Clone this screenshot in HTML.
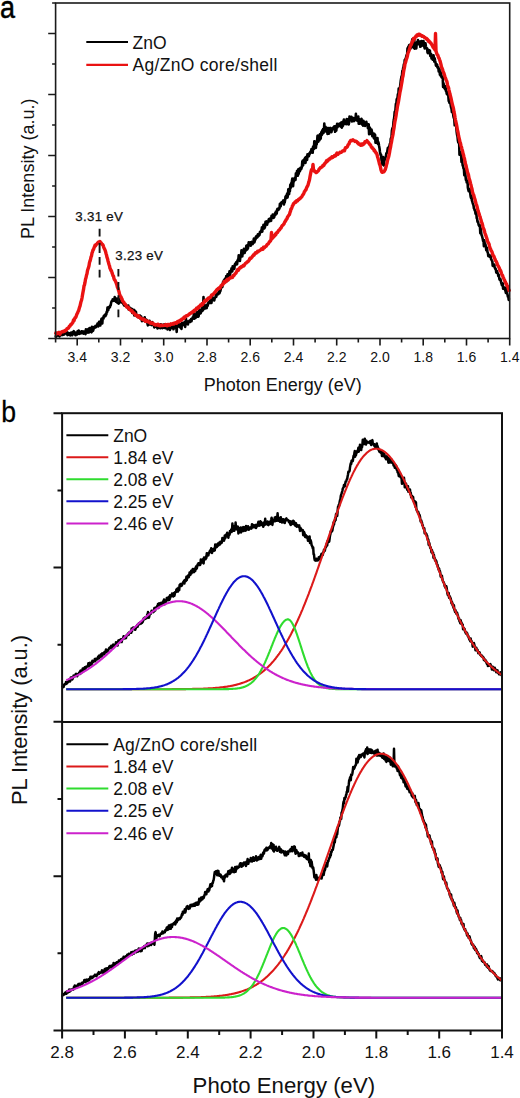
<!DOCTYPE html>
<html><head><meta charset="utf-8"><title>PL spectra</title>
<style>html,body{margin:0;padding:0;background:#fff}body{width:520px;height:1098px;overflow:hidden}svg{display:block}text{font-family:"Liberation Sans",sans-serif}</style>
</head><body>
<svg width="520" height="1098" viewBox="0 0 520 1098">
<rect width="520" height="1098" fill="#fff"/>
<path d="M55.5 335.2L55.9 336.9L56.3 336.7L56.7 334.3L57.1 334.5L57.5 334.1L57.9 335.5L58.3 334.5L58.7 335.6L59.1 332L59.5 336.5L59.9 334.2L60.3 335.2L60.7 334L61.1 333.7L61.5 334.8L61.9 335.2L62.3 333.8L62.7 333.8L63.1 334.9L63.5 332.8L63.9 331.9L64.3 334.5L64.7 333L65.1 331.3L65.5 332.8L65.9 333.3L66.3 332.3L66.7 331.9L67.1 334L67.5 335.1L67.9 333.6L68.3 332.9L68.7 334.4L69.1 334.8L69.5 333.4L69.9 334.6L70.3 335.3L70.7 333.5L71.1 332.7L71.5 334.3L71.9 334.1L72.3 335.2L72.7 332L73.1 332.8L73.5 332.5L73.9 331.2L74.3 333.7L74.7 334.2L75.1 332.4L75.5 335.3L75.9 334.5L76.3 334.2L76.7 333.8L77.1 334.5L77.5 331.3L77.9 333.9L78.3 333.8L78.7 330.5L79.1 333.3L79.5 332.5L79.9 333.8L80.3 332.1L80.7 332.6L81.1 333L81.5 331.3L81.9 333.2L82.3 332.2L82.7 332.9L83.1 331.4L83.5 333.6L83.9 332.8L84.3 331.7L84.7 332.7L85.1 333.5L85.5 334.1L85.9 329.3L86.3 332.6L86.7 331.9L87.1 331L87.5 329.7L87.9 332.7L88.3 329L88.7 331.5L89.1 332.3L89.5 328.1L89.9 329.8L90.3 328.2L90.7 330.2L91.1 331.8L91.5 332.3L91.9 326.7L92.3 328.2L92.7 329.8L93.1 330.8L93.5 328.9L93.9 327L94.3 328.2L94.7 327.5L95.1 327L95.5 325.9L95.9 327.3L96.3 326.8L96.7 326L97.1 325.4L97.5 323.5L97.9 324.3L98.3 326.4L98.7 323.9L99.1 321.7L99.5 325.3L99.9 323.7L100.3 325.5L100.7 322L101.1 320.7L101.5 318.7L101.9 322.2L102.3 323.5L102.7 317.8L103.1 317.4L103.5 318.6L103.9 315.8L104.3 316L104.7 315.2L105.1 315.4L105.5 316.1L105.9 313.8L106.3 314.5L106.7 311.7L107.1 312.1L107.5 307.5L107.9 307.7L108.3 310.2L108.7 307L109.1 307.8L109.5 306.8L109.9 307.1L110.3 305.5L110.7 305.3L111.1 302.9L111.5 301.5L111.9 300.9L112.3 300.9L112.7 299.4L113.1 300L113.5 300.5L113.9 300.9L114.3 299.8L114.7 297.1L115.1 299.9L115.5 300.3L115.9 301.6L116.3 300.7L116.7 298.7L117.1 298.5L117.5 302.9L117.9 301.1L118.3 302.9L118.7 303.6L119.1 299.2L119.5 301.3L119.9 301.7L120.3 302.1L120.7 302.3L121.1 302.1L121.5 302.3L121.9 300L122.3 302.5L122.7 301.9L123.1 303.6L123.5 303L123.9 305L124.3 305.6L124.7 305.2L125.1 305.5L125.5 305.5L125.9 305L126.3 305.7L126.7 305.6L127.1 307.3L127.5 307L127.9 308.2L128.3 305.6L128.7 309.4L129.1 307.1L129.5 307.5L129.9 308.7L130.3 308.4L130.7 310.1L131.1 309.1L131.5 308.7L131.9 309.4L132.3 313L132.7 311.4L133.1 309.9L133.5 312L133.9 309.9L134.3 315.4L134.7 310.6L135.1 314L135.5 314.4L135.9 311.7L136.3 314.7L136.7 316.1L137.1 315.6L137.5 315.6L137.9 316.9L138.3 316.1L138.7 316.6L139.1 316.3L139.5 317.7L139.9 315.6L140.3 318.5L140.7 316.9L141.1 316.3L141.5 318.8L141.9 321.1L142.3 320.3L142.7 318.4L143.1 320.5L143.5 319.1L143.9 319.9L144.3 320.5L144.7 317.3L145.1 321.3L145.5 319.8L145.9 320.6L146.3 319.7L146.7 319.9L147.1 321L147.5 323.8L147.9 325.3L148.3 323L148.7 324.8L149.1 323L149.5 320.7L149.9 323.9L150.3 324.4L150.7 323.3L151.1 324.5L151.5 325L151.9 323L152.3 322.2L152.7 324.2L153.1 324.3L153.5 324.2L153.9 326.2L154.3 327.4L154.7 324.4L155.1 326.1L155.5 326.5L155.9 326.3L156.3 326.9L156.7 324.9L157.1 326.6L157.5 328.5L157.9 326.8L158.3 324.8L158.7 326.7L159.1 327.7L159.5 326.5L159.9 325.2L160.3 328.3L160.7 324.4L161.1 327L161.5 326.3L161.9 324.7L162.3 328.2L162.7 327.1L163.1 325L163.5 327.7L163.9 326.3L164.3 324.3L164.7 326.1L165.1 327.6L165.5 328.2L165.9 327.7L166.3 327.6L166.7 328.3L167.1 327.4L167.5 329.4L167.9 328L168.3 328.2L168.7 328.6L169.1 326.3L169.5 326.8L169.9 330L170.3 328.2L170.7 327.3L171.1 328.2L171.5 327L171.9 328L172.3 326.6L172.7 327.9L173.1 325.2L173.5 329.3L173.9 326.6L174.3 325L174.7 326.9L175.1 326.6L175.5 327.3L175.9 325.4L176.3 327.5L176.7 332L177.1 324.8L177.5 327L177.9 325.9L178.3 326.5L178.7 323.4L179.1 324.2L179.5 326.3L179.9 325.4L180.3 327.6L180.7 324L181.1 325.1L181.5 328.9L181.9 323.4L182.3 323L182.7 324.1L183.1 323.9L183.5 325L183.9 323.8L184.3 322.3L184.7 323.5L185.1 326.9L185.5 324.7L185.9 318.5L186.3 322.2L186.7 320.9L187.1 322.9L187.5 321.5L187.9 324.4L188.3 322.7L188.7 322.4L189.1 321.1L189.5 320.5L189.9 320.8L190.3 322L190.7 320.6L191.1 319L191.5 321.2L191.9 319.3L192.3 318.6L192.7 317.3L193.1 317.3L193.5 316.9L193.9 313.4L194.3 318.8L194.7 317.8L195.1 316.4L195.5 318L195.9 316.7L196.3 316.3L196.7 311.7L197.1 314.7L197.5 315.6L197.9 316.8L198.3 316.8L198.7 315.9L199.1 311.6L199.5 309.6L199.9 313.5L200.3 312.3L200.7 313.3L201.1 311.3L201.5 311.4L201.9 308.4L202.3 311L202.7 309.2L203.1 310L203.5 297L203.9 308.5L204.3 308.7L204.7 307.7L205.1 308.5L205.5 307.6L205.9 305.5L206.3 305L206.7 308.2L207.1 304.9L207.5 306.1L207.9 304.7L208.3 302.8L208.7 302.1L209.1 303L209.5 302.8L209.9 303L210.3 299.6L210.7 300.3L211.1 300.7L211.5 303L211.9 296.4L212.3 300.5L212.7 298.5L213.1 299.7L213.5 297.9L213.9 298.9L214.3 300.4L214.7 298.1L215.1 297.8L215.5 297.3L215.9 295.1L216.3 296.7L216.7 295L217.1 293.5L217.5 294.2L217.9 293.3L218.3 294.2L218.7 292.2L219.1 290.7L219.5 293.1L219.9 291.6L220.3 291.3L220.7 289.4L221.1 287.5L221.5 286.2L221.9 285.7L222.3 287.1L222.7 285L223.1 281.7L223.5 283.4L223.9 280.4L224.3 282.4L224.7 279.4L225.1 278.6L225.5 280.3L225.9 279.3L226.3 276L226.7 279.3L227.1 281.1L227.5 274.3L227.9 279.2L228.3 274.4L228.7 274.1L229.1 274.1L229.5 271.4L229.9 275.4L230.3 273.5L230.7 270.8L231.1 271.1L231.5 268.4L231.9 269.8L232.3 271.4L232.7 266.2L233.1 267.8L233.5 268.2L233.9 269L234.3 268.8L234.7 265L235.1 263.8L235.5 265.1L235.9 262.9L236.3 262.2L236.7 263.9L237.1 264.2L237.5 261L237.9 259.5L238.3 260.2L238.7 255.3L239.1 257.9L239.5 255.5L239.9 261L240.3 257.5L240.7 255.9L241.1 254.8L241.5 250.2L241.9 255.3L242.3 256.4L242.7 251.7L243.1 253.7L243.5 253.3L243.9 248.8L244.3 252.7L244.7 252.9L245.1 250.4L245.5 249.5L245.9 250.5L246.3 245.9L246.7 248.4L247.1 249.6L247.5 245.1L247.9 248.6L248.3 245.7L248.7 242.3L249.1 245.3L249.5 243.4L249.9 245.3L250.3 242.2L250.7 245.8L251.1 242.2L251.5 243.8L251.9 241.7L252.3 241.8L252.7 244.1L253.1 242L253.5 240.5L253.9 238.6L254.3 242.5L254.7 241.3L255.1 239L255.5 239.5L255.9 236.7L256.3 236.2L256.7 236L257.1 237.5L257.5 236.8L257.9 234.3L258.3 236.4L258.7 235.8L259.1 234.1L259.5 235L259.9 232L260.3 231.7L260.7 232.2L261.1 230.7L261.5 231.6L261.9 227.3L262.3 231.6L262.7 227L263.1 227.6L263.5 224.8L263.9 227.9L264.3 228.5L264.7 227.6L265.1 226.7L265.5 221.8L265.9 222.7L266.3 222.8L266.7 221.4L267.1 224.7L267.5 222.6L267.9 221.8L268.3 222.3L268.7 219.3L269.1 219L269.5 218.7L269.9 220.9L270.3 220.2L270.7 220.3L271.1 220.8L271.5 215.9L271.9 217L272.3 217.8L272.7 214.6L273.1 215.6L273.5 217.9L273.9 217.5L274.3 216.8L274.7 214.2L275.1 213.1L275.5 214.8L275.9 211.5L276.3 212.2L276.7 213.5L277.1 209.8L277.5 208.8L277.9 209.4L278.3 210L278.7 209.3L279.1 208.2L279.5 208.5L279.9 203.9L280.3 204.8L280.7 206.2L281.1 203.6L281.5 202.3L281.9 202L282.3 202L282.7 202.8L283.1 200.6L283.5 202.4L283.9 204.5L284.3 200.4L284.7 202.5L285.1 199.9L285.5 196.6L285.9 197.6L286.3 195.5L286.7 198L287.1 193.6L287.5 197.5L287.9 195.2L288.3 189.3L288.7 193.6L289.1 194.1L289.5 188.7L289.9 191.2L290.3 184.9L290.7 187.9L291.1 183.3L291.5 186.4L291.9 181.1L292.3 178.6L292.7 183.5L293.1 186.2L293.5 179.7L293.9 181.6L294.3 179.4L294.7 177.7L295.1 178.7L295.5 179.8L295.9 173.4L296.3 176.1L296.7 174.9L297.1 170.7L297.5 175.8L297.9 175.7L298.3 169.3L298.7 173.9L299.1 169.8L299.5 168.7L299.9 171.3L300.3 168.1L300.7 167.6L301.1 169.3L301.5 168.2L301.9 166.8L302.3 161.6L302.7 160.7L303.1 165.4L303.5 160.7L303.9 162.2L304.3 159.2L304.7 160.4L305.1 157.7L305.5 162.9L305.9 157.1L306.3 158.3L306.7 157.7L307.1 159.9L307.5 154.2L307.9 156.4L308.3 155.4L308.7 156.3L309.1 155.6L309.5 153.1L309.9 153.8L310.3 151.9L310.7 152.8L311.1 151L311.5 149.1L311.9 149.6L312.3 149.7L312.7 152.8L313.1 146.5L313.5 147.4L313.9 149L314.3 141.2L314.7 141.3L315.1 141.8L315.5 143.3L315.9 147.9L316.3 143.2L316.7 144.3L317.1 140.9L317.5 135.9L317.9 135.6L318.3 141.8L318.7 139.6L319.1 136L319.5 140.3L319.9 134.3L320.3 138.9L320.7 138.7L321.1 133.4L321.5 131.8L321.9 135L322.3 130.3L322.7 133.7L323.1 129L323.5 132.8L323.9 131.3L324.3 123.5L324.7 129.1L325.1 131.3L325.5 126.9L325.9 130.1L326.3 129.9L326.7 132L327.1 128L327.5 134L327.9 129.8L328.3 128.1L328.7 133.1L329.1 133.6L329.5 129.7L329.9 128.1L330.3 129.8L330.7 128.1L331.1 128.6L331.5 132.1L331.9 129.5L332.3 128.7L332.7 128.8L333.1 127.7L333.5 129.3L333.9 129.1L334.3 126.4L334.7 127.2L335.1 131.8L335.5 127.5L335.9 126.1L336.3 130.6L336.7 126.3L337.1 123.9L337.5 127.3L337.9 124L338.3 124.6L338.7 126.1L339.1 125L339.5 123.5L339.9 123.7L340.3 123.3L340.7 126.7L341.1 122.6L341.5 122.6L341.9 127.7L342.3 122.1L342.7 126.1L343.1 125.5L343.5 122.3L343.9 119.5L344.3 123.1L344.7 123.4L345.1 123.8L345.5 121.8L345.9 124L346.3 124.2L346.7 119L347.1 124L347.5 121.3L347.9 119.6L348.3 120L348.7 124.4L349.1 122.5L349.5 116.6L349.9 120.4L350.3 119.8L350.7 119.6L351.1 118.8L351.5 116.8L351.9 121.5L352.3 117.7L352.7 118.9L353.1 118.4L353.5 118.1L353.9 121.1L354.3 120.4L354.7 118.3L355.1 117.8L355.5 118.8L355.9 113.8L356.3 120.2L356.7 120.5L357.1 119.4L357.5 119.7L357.9 120.7L358.3 116.6L358.7 123.8L359.1 119L359.5 119.6L359.9 123.7L360.3 121.6L360.7 121.5L361.1 120.4L361.5 118.7L361.9 122.5L362.3 124.8L362.7 120.8L363.1 125.7L363.5 120.9L363.9 122L364.3 124.9L364.7 124.2L365.1 125.9L365.5 123.3L365.9 123.1L366.3 121.8L366.7 123.5L367.1 124.2L367.5 124L367.9 128L368.3 126.6L368.7 124.4L369.1 134.1L369.5 127.9L369.9 127.7L370.3 133.3L370.7 133.8L371.1 129.7L371.5 129.6L371.9 131.2L372.3 136.1L372.7 133.7L373.1 133.3L373.5 135.4L373.9 138.4L374.3 133.7L374.7 136.3L375.1 134.8L375.5 142.6L375.9 142.6L376.3 141.5L376.7 140.1L377.1 142.6L377.5 138L377.9 144L378.3 142L378.7 143.4L379.1 146L379.5 148.2L379.9 151.5L380.3 153.7L380.7 155L381.1 154.9L381.5 160.4L381.9 160.7L382.3 164.5L382.7 160.9L383.1 157.1L383.5 161.1L383.9 165.5L384.3 161.1L384.7 158.7L385.1 159.6L385.5 157.6L385.9 156.3L386.3 153.3L386.7 153.4L387.1 152.6L387.5 149.9L387.9 147.8L388.3 149.1L388.7 149.5L389.1 147.4L389.5 145.6L389.9 143.9L390.3 146L390.7 139L391.1 138L391.5 137.3L391.9 130.8L392.3 128.7L392.7 128L393.1 127L393.5 121.8L393.9 119.6L394.3 116.8L394.7 111.8L395.1 114.3L395.5 109.2L395.9 103.9L396.3 104.9L396.7 99.3L397.1 98.5L397.5 98.4L397.9 94.2L398.3 96.1L398.7 88.6L399.1 90L399.5 88.5L399.9 88.2L400.3 84.9L400.7 81.3L401.1 78.8L401.5 76.4L401.9 77L402.3 71.1L402.7 71.6L403.1 68.3L403.5 67.2L403.9 64.3L404.3 67.7L404.7 60L405.1 60.3L405.5 58.8L405.9 58L406.3 56.2L406.7 54.8L407.1 54.9L407.5 48.3L407.9 50.5L408.3 46.8L408.7 49L409.1 45.1L409.5 44.9L409.9 46.3L410.3 48.9L410.7 46.6L411.1 45.5L411.5 47.5L411.9 42.1L412.3 39.3L412.7 42.7L413.1 42.9L413.5 46.1L413.9 48L414.3 40.4L414.7 48.6L415.1 46.6L415.5 44.9L415.9 43.9L416.3 48.4L416.7 43.2L417.1 42L417.5 43.4L417.9 40.1L418.3 44.2L418.7 43.1L419.1 44.2L419.5 44.4L419.9 41.5L420.3 46.8L420.7 42L421.1 46.3L421.5 41.1L421.9 45.7L422.3 43.3L422.7 45.4L423.1 44.2L423.5 41.1L423.9 43.8L424.3 46.7L424.7 48.4L425.1 44.2L425.5 43.3L425.9 46.5L426.3 48.5L426.7 48.1L427.1 48.2L427.5 52.4L427.9 53.2L428.3 53.2L428.7 50.1L429.1 52.8L429.5 52.7L429.9 50.5L430.3 55.9L430.7 54.7L431.1 53.9L431.5 58.5L431.9 57.6L432.3 58.3L432.7 59.6L433.1 59.1L433.5 55.3L433.9 57.8L434.3 61.5L434.7 58.4L435.1 60.8L435.5 62.3L435.9 65.4L436.3 65.9L436.7 65.8L437.1 64.4L437.5 67.6L437.9 67.7L438.3 67.2L438.7 71.4L439.1 70.7L439.5 69.1L439.9 74.7L440.3 72.7L440.7 75.8L441.1 72.6L441.5 77.2L441.9 76.5L442.3 77.8L442.7 77L443.1 86.9L443.5 83.2L443.9 85.2L444.3 88.2L444.7 86.7L445.1 89.2L445.5 86.3L445.9 90.8L446.3 90.6L446.7 93.7L447.1 94.3L447.5 92.3L447.9 92.6L448.3 95.7L448.7 100.8L449.1 101.6L449.5 103L449.9 99.5L450.3 99.6L450.7 105.5L451.1 107.6L451.5 108.5L451.9 112L452.3 112.4L452.7 111.6L453.1 113.6L453.5 116.9L453.9 118.1L454.3 119.1L454.7 125.3L455.1 121.7L455.5 124.2L455.9 124L456.3 127.7L456.7 132.1L457.1 135L457.5 136.4L457.9 140.5L458.3 142.6L458.7 141.5L459.1 141.2L459.5 154.6L459.9 153.7L460.3 153.8L460.7 152.3L461.1 154.9L461.5 161.8L461.9 155.3L462.3 161.8L462.7 165.7L463.1 165.8L463.5 168.6L463.9 168.5L464.3 175.1L464.7 170.1L465.1 171.1L465.5 175.9L465.9 179.8L466.3 178.6L466.7 182.3L467.1 180.9L467.5 181.2L467.9 187.8L468.3 189.7L468.7 191.2L469.1 188.9L469.5 189.1L469.9 190.5L470.3 193.8L470.7 196.8L471.1 198.1L471.5 195.9L471.9 200.4L472.3 201.5L472.7 203.1L473.1 204.3L473.5 205.4L473.9 208.3L474.3 208.9L474.7 210.5L475.1 210.2L475.5 213.7L475.9 214.2L476.3 212L476.7 218.2L477.1 218.3L477.5 221.9L477.9 221.4L478.3 222.9L478.7 224.9L479.1 225.8L479.5 226.4L479.9 225.2L480.3 233.2L480.7 228.2L481.1 231.8L481.5 234.8L481.9 235.6L482.3 237.2L482.7 238.8L483.1 240.9L483.5 240.3L483.9 246.2L484.3 240.4L484.7 243.7L485.1 243.8L485.5 244.6L485.9 247.2L486.3 250.3L486.7 247.5L487.1 248.6L487.5 252.1L487.9 252.8L488.3 256.2L488.7 255.5L489.1 255.1L489.5 255L489.9 256.9L490.3 257.1L490.7 256L491.1 259.3L491.5 259.8L491.9 260.6L492.3 261.2L492.7 265.7L493.1 264.9L493.5 266.2L493.9 264.4L494.3 264.6L494.7 266.8L495.1 268.6L495.5 268.5L495.9 269.7L496.3 272.6L496.7 272.4L497.1 271.2L497.5 273.1L497.9 273.6L498.3 276L498.7 274.7L499.1 277.3L499.5 279.6L499.9 279.4L500.3 278.8L500.7 280.2L501.1 282.3L501.5 283.7L501.9 285.2L502.3 284.4L502.7 283.3L503.1 288.6L503.5 287.5L503.9 288.4L504.3 289L504.7 287.5L505.1 289.4L505.5 291.1L505.9 293L506.3 292.1L506.7 287.7L507.1 293L507.5 294.6L507.9 296.7L508.3 296.4L508.7 299.9L509.1 298.8L509.5 299.2" fill="none" stroke="#000" stroke-width="2.6" stroke-linejoin="round"/>
<path d="M55.5 334.6L56 332.8L56.5 333.9L57 333.5L57.5 333.4L58 333.4L58.5 332.6L59 333.1L59.5 332.7L60 334.2L60.5 332.8L61 332.4L61.5 332.2L62 331.8L62.5 331.5L63 331.5L63.5 331.7L64 331.1L64.5 331.3L65 330.5L65.5 330.2L66 330.4L66.5 329.6L67 328.7L67.5 328.4L68 328.2L68.5 328.2L69 326.8L69.5 326.2L70 326.1L70.5 324.8L71 324.4L71.5 324.3L72 323.5L72.5 322.7L73 322.2L73.5 320L74 320.7L74.5 319L75 317.8L75.5 317.6L76 316.8L76.5 315.3L77 313.9L77.5 313.1L78 311.7L78.5 310.9L79 309.2L79.5 307.4L80 306.1L80.5 303.8L81 301.7L81.5 300.3L82 298L82.5 295L83 292.1L83.5 289.7L84 286L84.5 284.8L85 282.4L85.5 279.3L86 277.8L86.5 275.2L87 273.8L87.5 270.6L88 269L88.5 267.6L89 265.8L89.5 262.5L90 261.2L90.5 259.5L91 257L91.5 256L92 253L92.5 251.9L93 249.8L93.5 249.6L94 247.9L94.5 246.8L95 245.3L95.5 245.9L96 244.8L96.5 244.3L97 244L97.5 243.3L98 242.5L98.5 242.1L99 241.9L99.5 242.7L100 241.6L100.5 242.2L101 242.7L101.5 243.5L102 244.3L102.5 244.4L103 245L103.5 246.6L104 248L104.5 248.9L105 250L105.5 251.4L106 253.4L106.5 255L107 257.4L107.5 258.7L108 260.9L108.5 262.6L109 264.5L109.5 265.9L110 268.3L110.5 269.3L111 270.8L111.5 270.8L112 272.8L112.5 274.1L113 275.9L113.5 276.1L114 278.7L114.5 279.9L115 280.1L115.5 281.4L116 282.5L116.5 284L117 285.5L117.5 287.5L118 288.2L118.5 290.3L119 291.8L119.5 294.2L120 295.3L120.5 296.8L121 296.9L121.5 298.3L122 299L122.5 300.9L123 301.4L123.5 301.9L124 302.6L124.5 303.7L125 303.9L125.5 304.5L126 305.7L126.5 307L127 306.5L127.5 306.9L128 307.2L128.5 307.6L129 308.8L129.5 309.4L130 309.5L130.5 310.1L131 310.5L131.5 311L132 310.8L132.5 311.7L133 312.5L133.5 312.6L134 313.2L134.5 313.6L135 314.2L135.5 315L136 314.9L136.5 315.3L137 316L137.5 316.3L138 317L138.5 315.8L139 317.3L139.5 317L140 317.5L140.5 318.1L141 318.5L141.5 318.7L142 318.6L142.5 319.5L143 319L143.5 319.3L144 319.9L144.5 319.6L145 321L145.5 320.7L146 321.4L146.5 320.8L147 320.9L147.5 321.3L148 321.8L148.5 321.5L149 322.1L149.5 322.1L150 323L150.5 322.3L151 323.3L151.5 322.8L152 322.9L152.5 323.2L153 323.2L153.5 323.9L154 324.5L154.5 324.3L155 324.6L155.5 325.1L156 324.7L156.5 324.8L157 324.7L157.5 324.3L158 325.3L158.5 324.4L159 325.5L159.5 325.3L160 325.8L160.5 325.4L161 325.1L161.5 325.6L162 325.3L162.5 325.4L163 325.5L163.5 325.4L164 325.4L164.5 325.1L165 325.3L165.5 324.5L166 325.3L166.5 324.8L167 325.7L167.5 325.7L168 324.4L168.5 325.2L169 325L169.5 324.6L170 325.1L170.5 324.6L171 323.9L171.5 324.4L172 324.3L172.5 324.2L173 323.5L173.5 324.1L174 323.9L174.5 323L175 323L175.5 323L176 322.6L176.5 323.3L177 322.4L177.5 321.6L178 321.4L178.5 321.4L179 322L179.5 320.7L180 320.5L180.5 320.3L181 319.7L181.5 320.3L182 318.9L182.5 319L183 318.5L183.5 318.3L184 317.2L184.5 318.1L185 317L185.5 316.7L186 315.9L186.5 315.6L187 315.8L187.5 315.6L188 315.2L188.5 315L189 314.4L189.5 313.8L190 313.8L190.5 313.4L191 312.8L191.5 312.8L192 312.7L192.5 311.9L193 311.3L193.5 311.4L194 311.5L194.5 310.3L195 310L195.5 309.6L196 309.8L196.5 308.2L197 308.6L197.5 308.5L198 307.3L198.5 307.8L199 307L199.5 306.1L200 306L200.5 304.9L201 304.8L201.5 305.3L202 303.8L202.5 304.5L203 303.3L203.5 303.3L204 302.5L204.5 301.1L205 301.4L205.5 301.3L206 300.3L206.5 299.8L207 300L207.5 299.2L208 298.3L208.5 298.3L209 298.4L209.5 297.4L210 297.5L210.5 297.3L211 296.2L211.5 295.2L212 294.7L212.5 294.7L213 294.6L213.5 293.8L214 293.4L214.5 292.5L215 292.3L215.5 291.5L216 291L216.5 290.1L217 289.5L217.5 289.4L218 288.7L218.5 288.2L219 288.4L219.5 287.6L220 288.2L220.5 286.9L221 285.8L221.5 285.8L222 285.1L222.5 284.2L223 284.4L223.5 283.1L224 281.7L224.5 282.7L225 281.7L225.5 282L226 280.7L226.5 280.1L227 280.8L227.5 279.3L228 279.5L228.5 279.7L229 278.8L229.5 278.4L230 278.2L230.5 278.1L231 277.2L231.5 277.4L232 277L232.5 277.4L233 275.9L233.5 275.2L234 275.4L234.5 274.4L235 274.1L235.5 273.4L236 273.2L236.5 271.8L237 271.3L237.5 269.7L238 269.8L238.5 270.1L239 268.7L239.5 268.2L240 267.6L240.5 267.9L241 267.4L241.5 266.5L242 266.8L242.5 266.3L243 266.1L243.5 265.2L244 265.7L244.5 264.7L245 264L245.5 263.4L246 263L246.5 262.9L247 262L247.5 262L248 261.3L248.5 261.1L249 260.3L249.5 259.5L250 258.2L250.5 258.6L251 258.3L251.5 257.5L252 257.1L252.5 256.2L253 255.7L253.5 254.9L254 255.3L254.5 254.3L255 253.5L255.5 252.7L256 252.7L256.5 252.9L257 252.1L257.5 251.3L258 251.8L258.5 251.4L259 250.9L259.5 250.6L260 250.4L260.5 249.9L261 249.7L261.5 248.9L262 249.5L262.5 248.7L263 249.1L263.5 247.2L264 247.9L264.5 247.7L265 246.8L265.5 246.6L266 246.3L266.5 245.7L267 244.7L267.5 244.2L268 244.1L268.5 243.6L269 242.5L269.5 241.8L270 241.2L270.5 241L271 239.5L271.5 232.5L272 238.9L272.5 237.8L273 237.4L273.5 237.1L274 236.7L274.5 235.5L275 235.6L275.5 234L276 234.3L276.5 232.9L277 232.4L277.5 232.5L278 231.5L278.5 230.7L279 230.1L279.5 229.9L280 229L280.5 228.3L281 228.1L281.5 226.7L282 226L282.5 225.3L283 225.2L283.5 224.4L284 223.8L284.5 222.5L285 221.6L285.5 221.2L286 219.9L286.5 219.5L287 218.6L287.5 217.1L288 216.4L288.5 215.4L289 215.1L289.5 214.4L290 212.3L290.5 211.2L291 209L291.5 208.7L292 207.3L292.5 205.6L293 205.3L293.5 203.5L294 203.3L294.5 202.9L295 201.9L295.5 202.3L296 202.1L296.5 200.7L297 200.4L297.5 200.8L298 200.2L298.5 199.4L299 199.3L299.5 198.9L300 198.3L300.5 198.1L301 197.3L301.5 197.2L302 196.3L302.5 195.3L303 194.7L303.5 194L304 192.9L304.5 191.3L305 191.2L305.5 190L306 189.7L306.5 188L307 187.1L307.5 185.9L308 185.2L308.5 183.2L309 181.6L309.5 179.8L310 176.8L310.5 174.1L311 171.5L311.5 169.8L312 170L312.5 169.2L313 164.4L313.5 170L314 170.9L314.5 170.7L315 171.4L315.5 172.1L316 172.6L316.5 172.5L317 172.1L317.5 171.4L318 171.1L318.5 170.6L319 169.3L319.5 168.7L320 168.4L320.5 167.5L321 167.5L321.5 167.2L322 167L322.5 166.3L323 165.3L323.5 165.6L324 165.2L324.5 163.8L325 163.4L325.5 162.7L326 162.3L326.5 160.8L327 161.5L327.5 160.2L328 160.5L328.5 159.7L329 159.1L329.5 158.9L330 159L330.5 158L331 157.8L331.5 157.5L332 156.7L332.5 157.6L333 157L333.5 156.4L334 156.6L334.5 155.5L335 155.5L335.5 155.9L336 155.3L336.5 153.8L337 153L337.5 153.7L338 154.2L338.5 153.3L339 153.1L339.5 153.1L340 152.3L340.5 152.5L341 152.4L341.5 152L342 151.7L342.5 151L343 151.1L343.5 150.4L344 150.7L344.5 150.7L345 148.9L345.5 147.7L346 147.8L346.5 147.5L347 147.1L347.5 146.4L348 145L348.5 144.3L349 144.2L349.5 142.2L350 142L350.5 140.6L351 140.4L351.5 140.3L352 140.4L352.5 140.5L353 139.9L353.5 140.5L354 140.6L354.5 140.9L355 141.5L355.5 141.1L356 141.1L356.5 141.4L357 141.9L357.5 142.8L358 142.7L358.5 144L359 144.1L359.5 144.3L360 144.2L360.5 145.1L361 145.3L361.5 144.1L362 145.1L362.5 144.9L363 144L363.5 143.6L364 143.9L364.5 143L365 141.7L365.5 141.8L366 141.5L366.5 141.4L367 140.6L367.5 142.1L368 141.9L368.5 142.7L369 143.1L369.5 144.2L370 144.4L370.5 144.9L371 146.1L371.5 147.2L372 147.2L372.5 148.5L373 148.7L373.5 149L374 150.4L374.5 150.2L375 151.6L375.5 151.8L376 153L376.5 153.3L377 154.5L377.5 156.7L378 158.1L378.5 160L379 161.8L379.5 164.1L380 165.2L380.5 167.4L381 169.9L381.5 171.3L382 172.2L382.5 172.4L383 172.1L383.5 171.6L384 171.7L384.5 170.8L385 170.1L385.5 168.6L386 167L386.5 164.8L387 163.3L387.5 160.4L388 158.8L388.5 157.2L389 155.3L389.5 152.7L390 149.5L390.5 147.4L391 144.2L391.5 142.1L392 139L392.5 136.6L393 134.3L393.5 130.6L394 128.1L394.5 124.2L395 121L395.5 118.8L396 116L396.5 112.2L397 109.6L397.5 106.2L398 103.8L398.5 101.4L399 98.2L399.5 95.2L400 92L400.5 89.9L401 87.2L401.5 84.3L402 81.4L402.5 77.8L403 76L403.5 72.3L404 69.4L404.5 67.2L405 63.8L405.5 62.6L406 60.6L406.5 58.9L407 57.6L407.5 55.5L408 53L408.5 51.9L409 50.6L409.5 49.1L410 47.1L410.5 45.6L411 45.2L411.5 44L412 42.7L412.5 40.9L413 41.2L413.5 38.4L414 38.6L414.5 38.9L415 37.5L415.5 37L416 35.9L416.5 36.4L417 35L417.5 35.2L418 35L418.5 34.4L419 35.2L419.5 34.3L420 34.7L420.5 35.1L421 35.2L421.5 35.7L422 36.2L422.5 36L423 36.1L423.5 36.4L424 36.8L424.5 37.6L425 37.5L425.5 38.1L426 38.3L426.5 38.4L427 39.6L427.5 39.3L428 40.2L428.5 41.4L429 40.9L429.5 41.9L430 41.9L430.5 42.9L431 43.1L431.5 44.2L432 44.9L432.5 45.9L433 47.2L433.5 47.5L434 48.4L434.5 49L435 49.8L435.5 33.5L436 51L436.5 52.7L437 54.3L437.5 54.9L438 55.6L438.5 57.7L439 58.1L439.5 59.5L440 60.8L440.5 62.6L441 64.6L441.5 67.2L442 68L442.5 69.3L443 71L443.5 72.5L444 73.3L444.5 75.3L445 76.8L445.5 78.1L446 79.6L446.5 80.4L447 82L447.5 84.9L448 86.7L448.5 87.5L449 90.1L449.5 92.1L450 94.3L450.5 96.2L451 98.1L451.5 100.5L452 102.8L452.5 105.1L453 106.7L453.5 108.7L454 112L454.5 114.1L455 117.3L455.5 120L456 122.3L456.5 124.6L457 127.4L457.5 130.5L458 132.3L458.5 135.4L459 137.6L459.5 139.6L460 142.2L460.5 143.3L461 145.9L461.5 147.1L462 149.1L462.5 150.9L463 153.4L463.5 154.8L464 157.2L464.5 158.8L465 161.7L465.5 164L466 165.4L466.5 168.1L467 169.7L467.5 172.3L468 173.5L468.5 174.9L469 178.1L469.5 179.5L470 181.2L470.5 183.4L471 185L471.5 187.5L472 189.1L472.5 192L473 193.6L473.5 194.4L474 196.2L474.5 198.3L475 199.4L475.5 201.8L476 203.5L476.5 204.8L477 206.5L477.5 208.6L478 210.6L478.5 212.3L479 213.4L479.5 215.4L480 216.4L480.5 218.6L481 219.8L481.5 222.2L482 223.1L482.5 224.8L483 226.9L483.5 228.7L484 229.5L484.5 231.4L485 233.2L485.5 234.8L486 235.9L486.5 237.7L487 239L487.5 241.2L488 242.3L488.5 242.9L489 243.9L489.5 246.2L490 248L490.5 248.9L491 250.4L491.5 251.1L492 251.9L492.5 253.9L493 254.8L493.5 256.2L494 256.4L494.5 258.2L495 258.9L495.5 260.6L496 261.1L496.5 262.1L497 263.2L497.5 265L498 265.6L498.5 266.4L499 267.4L499.5 268.5L500 270.6L500.5 270.4L501 271.8L501.5 273.5L502 274.8L502.5 275.4L503 276.9L503.5 278L504 279.2L504.5 279.9L505 281.6L505.5 282.2L506 283.9L506.5 283.9L507 285.9L507.5 286.2L508 287.3L508.5 289.3L509 290L509.5 291.7" fill="none" stroke="#ea1212" stroke-width="3.4" stroke-linejoin="round"/>
<rect x="55.6" y="3.0" width="454.1" height="335.5" fill="none" stroke="#1a1a1a" stroke-width="1.6"/>
<path d="M55.6 338.5V342.5M77.2 338.5V345.5M98.8 338.5V342.5M120.5 338.5V345.5M142.1 338.5V342.5M163.7 338.5V345.5M185.3 338.5V342.5M207.0 338.5V345.5M228.6 338.5V342.5M250.2 338.5V345.5M271.8 338.5V342.5M293.5 338.5V345.5M315.1 338.5V342.5M336.7 338.5V345.5M358.3 338.5V342.5M380.0 338.5V345.5M401.6 338.5V342.5M423.2 338.5V345.5M444.8 338.5V342.5M466.5 338.5V345.5M488.1 338.5V342.5M509.7 338.5V345.5M55.6 3.0H52.1M55.6 33.5H48.2M55.6 64.0H52.1M55.6 94.5H48.2M55.6 125.0H52.1M55.6 155.5H48.2M55.6 186.0H52.1M55.6 216.5H48.2M55.6 247.0H52.1M55.6 277.5H48.2M55.6 308.0H52.1M55.6 338.5H48.2" stroke="#1a1a1a" stroke-width="1.6" fill="none"/>
<g font-size="14" fill="#111"><text x="77.2" y="361.5" text-anchor="middle">3.4</text><text x="120.5" y="361.5" text-anchor="middle">3.2</text><text x="163.7" y="361.5" text-anchor="middle">3.0</text><text x="207.0" y="361.5" text-anchor="middle">2.8</text><text x="250.2" y="361.5" text-anchor="middle">2.6</text><text x="293.5" y="361.5" text-anchor="middle">2.4</text><text x="336.7" y="361.5" text-anchor="middle">2.2</text><text x="380.0" y="361.5" text-anchor="middle">2.0</text><text x="423.2" y="361.5" text-anchor="middle">1.8</text><text x="466.5" y="361.5" text-anchor="middle">1.6</text><text x="509.7" y="361.5" text-anchor="middle">1.4</text></g>
<text x="203.7" y="391.2" font-size="18" fill="#111">Photon Energy (eV)</text>
<text transform="translate(33.7 239) rotate(-90)" font-size="18" fill="#111">PL Intensity (a.u.)</text>
<path d="M86.3 42H128" stroke="#000" stroke-width="2.2"/>
<path d="M86.3 64.9H128" stroke="#ea1212" stroke-width="2.2"/>
<text x="132.5" y="48.5" font-size="17.5" fill="#111">ZnO</text>
<text x="132.5" y="70.8" font-size="17.5" letter-spacing="0.3" fill="#111">Ag/ZnO core/shell</text>
<text x="75.3" y="220.8" font-size="13.3" letter-spacing="0.3" fill="#111" stroke="#111" stroke-width="0.25">3.31 eV</text>
<text x="115.3" y="260" font-size="13.3" letter-spacing="0.3" fill="#111" stroke="#111" stroke-width="0.25">3.23 eV</text>
<path d="M99.6 228.8V236.6M99.6 243V253M99.6 257V264.8M99.6 269.8V277.6M118.4 268.9V276.6M118.4 282.1V289.9M118.4 295.3V302M118.4 309.4V317.2" stroke="#111" stroke-width="1.9"/>
<text transform="translate(0.0 18.1) scale(0.87 1)" font-size="31" fill="#000" stroke="#000" stroke-width="0.5">a</text>
<text transform="translate(1.3 421.8) scale(0.92 1)" font-size="29" fill="#000" stroke="#000" stroke-width="0.25">b</text>
<path d="M62 687.5L62.4 686.9L62.8 687.2L63.2 686.9L63.6 687L64 685.1L64.4 684.3L64.8 684.6L65.2 683.9L65.6 684L66 682L66.4 683.9L66.8 682.4L67.2 683.1L67.6 681.7L68 682L68.4 681L68.8 679.8L69.2 681L69.6 679.4L70 681.6L70.4 680.5L70.8 677.4L71.2 677.4L71.6 678.9L72 677.2L72.4 679.4L72.8 678.3L73.2 677.3L73.6 675.6L74 675.9L74.4 676.1L74.8 676.4L75.2 676L75.6 674.2L76 673.7L76.4 675.8L76.8 675.7L77.2 676.2L77.6 674.3L78 674.8L78.4 674L78.8 673.5L79.2 672.6L79.6 673.3L80 674L80.4 670.8L80.8 670.5L81.2 673.1L81.6 671.6L82 671.2L82.4 670L82.8 668.4L83.2 669.8L83.6 668.5L84 669.5L84.4 669L84.8 667.3L85.2 667.8L85.6 668.8L86 666.7L86.4 667.1L86.8 666.5L87.2 666.4L87.6 666.5L88 665.7L88.4 663.2L88.8 666.4L89.2 664.6L89.6 665.4L90 662.8L90.4 664.4L90.8 665L91.2 663.3L91.6 664.2L92 663.1L92.4 660.7L92.8 661.6L93.2 661.9L93.6 661.3L94 661.3L94.4 661.3L94.8 658.9L95.2 661.3L95.6 660.5L96 658.8L96.4 659L96.8 659.3L97.2 659.4L97.6 659L98 657.1L98.4 657.4L98.8 655.8L99.2 658.3L99.6 656.1L100 657L100.4 655.4L100.8 654.4L101.2 654.3L101.6 656.6L102 653.4L102.4 654.6L102.8 653.6L103.2 653.8L103.6 654.5L104 652.5L104.4 654.2L104.8 651.8L105.2 652.1L105.6 651.8L106 649.5L106.4 652.2L106.8 651.3L107.2 651.6L107.6 650.3L108 650.8L108.4 649.6L108.8 648.9L109.2 648.1L109.6 647.7L110 648.1L110.4 648.3L110.8 647L111.2 645.9L111.6 647.6L112 648.1L112.4 645.6L112.8 646.1L113.2 644.6L113.6 645.8L114 644.9L114.4 646L114.8 644.9L115.2 645.4L115.6 645L116 642.2L116.4 644.6L116.8 642.7L117.2 642.7L117.6 645.5L118 642.4L118.4 640.6L118.8 641.9L119.2 640.3L119.6 642.2L120 639.9L120.4 639.8L120.8 639.2L121.2 639.2L121.6 642.1L122 640.4L122.4 639.3L122.8 639L123.2 637.9L123.6 636.3L124 637.4L124.4 638.4L124.8 637.7L125.2 636.7L125.6 636.6L126 638.1L126.4 635.7L126.8 635L127.2 634.9L127.6 635.1L128 633.6L128.4 633.9L128.8 634.6L129.2 632.6L129.6 632.1L130 632.1L130.4 632.2L130.8 631.4L131.2 632.8L131.6 628.6L132 631.2L132.4 628.4L132.8 629.2L133.2 627.6L133.6 628.5L134 627.6L134.4 628.1L134.8 628.5L135.2 629.8L135.6 628.6L136 627.9L136.4 626.3L136.8 626.1L137.2 625L137.6 626.8L138 624.8L138.4 624.3L138.8 623.4L139.2 623.9L139.6 624.1L140 622.9L140.4 622.3L140.8 622.8L141.2 623.4L141.6 623L142 622.8L142.4 621.4L142.8 621.8L143.2 619.9L143.6 618.6L144 619L144.4 619.3L144.8 617.6L145.2 618.9L145.6 617.5L146 617.7L146.4 618.2L146.8 617.9L147.2 614.4L147.6 617.4L148 612.1L148.4 615.8L148.8 617.7L149.2 616.7L149.6 614.8L150 613.5L150.4 613.8L150.8 613.7L151.2 612.7L151.6 610.7L152 611.2L152.4 611L152.8 611.1L153.2 610.9L153.6 612.1L154 610.2L154.4 607.9L154.8 610.3L155.2 610.4L155.6 607.8L156 607.9L156.4 607.4L156.8 606.9L157.2 606L157.6 607.2L158 603.9L158.4 608L158.8 607.1L159.2 603.2L159.6 603.8L160 604.5L160.4 604.4L160.8 605.6L161.2 602.7L161.6 603.2L162 604.7L162.4 603.8L162.8 603.2L163.2 601.3L163.6 602.2L164 599.5L164.4 601.7L164.8 604.2L165.2 601.1L165.6 602.3L166 601L166.4 600.3L166.8 598L167.2 597.7L167.6 599.6L168 600.3L168.4 598.7L168.8 597.1L169.2 598.9L169.6 599.7L170 595.3L170.4 597.6L170.8 595.7L171.2 595.8L171.6 595.8L172 593.6L172.4 594.9L172.8 594.8L173.2 596.5L173.6 594.6L174 592.9L174.4 595.8L174.8 594L175.2 592.1L175.6 592.1L176 592.1L176.4 589.5L176.8 591.7L177.2 588.7L177.6 589L178 591.6L178.4 587.8L178.8 588.4L179.2 590.1L179.6 585.1L180 586.4L180.4 584.1L180.8 585.8L181.2 584.6L181.6 585.9L182 585.3L182.4 583.3L182.8 583.1L183.2 582.1L183.6 582.4L184 580.8L184.4 583.5L184.8 579.9L185.2 580L185.6 581.2L186 580.8L186.4 576.8L186.8 580L187.2 577.5L187.6 577.8L188 575.5L188.4 575.3L188.8 577.2L189.2 575.5L189.6 572.5L190 573.3L190.4 574.8L190.8 573.5L191.2 570.8L191.6 573.2L192 571.2L192.4 572.2L192.8 568.9L193.2 571.2L193.6 571L194 572.1L194.4 568.9L194.8 568.6L195.2 570.9L195.6 568.9L196 566.6L196.4 567.3L196.8 568.6L197.2 566.3L197.6 564.4L198 564.7L198.4 563.2L198.8 565.1L199.2 563.2L199.6 564.2L200 564.9L200.4 564.4L200.8 559.5L201.2 562.2L201.6 559.8L202 562.5L202.4 561.3L202.8 560.5L203.2 559L203.6 563.4L204 557.4L204.4 559.3L204.8 559.3L205.2 559.1L205.6 559.2L206 556.4L206.4 557.8L206.8 553.2L207.2 554.7L207.6 554.6L208 553.5L208.4 555.4L208.8 552.7L209.2 552.2L209.6 552.5L210 550.6L210.4 551.7L210.8 551.6L211.2 548.3L211.6 551.2L212 553L212.4 551.3L212.8 550.7L213.2 549.4L213.6 548.7L214 550.7L214.4 548.5L214.8 550.4L215.2 544.6L215.6 547.8L216 544.9L216.4 544.6L216.8 547.1L217.2 544.2L217.6 546L218 543.6L218.4 545.3L218.8 545.1L219.2 543.1L219.6 542.2L220 544.4L220.4 541.7L220.8 542.7L221.2 541.7L221.6 543L222 541.6L222.4 537.9L222.8 540.6L223.2 539.8L223.6 539.8L224 540.6L224.4 539L224.8 535.4L225.2 538.4L225.6 537.3L226 535.7L226.4 534.4L226.8 535.2L227.2 532.8L227.6 534.7L228 536.1L228.4 537.7L228.8 533.7L229.2 533.2L229.6 534.7L230 531L230.4 531.4L230.8 531.9L231.2 529.5L231.6 532L232 530L232.4 523.5L232.8 530L233.2 530.7L233.6 529.5L234 528.8L234.4 530.7L234.8 526.1L235.2 529L235.6 522.6L236 528.2L236.4 529L236.8 528.8L237.2 526.4L237.6 530L238 526.7L238.4 533.4L238.8 529.1L239.2 528.1L239.6 529.4L240 532.2L240.4 530L240.8 527.6L241.2 532.4L241.6 531.3L242 528.6L242.4 529.9L242.8 527.9L243.2 527.1L243.6 531L244 528.3L244.4 528.7L244.8 527.4L245.2 527L245.6 530.7L246 526L246.4 530.1L246.8 526.6L247.2 528.4L247.6 527.6L248 526.3L248.4 527.5L248.8 529.7L249.2 528.1L249.6 528.6L250 527.5L250.4 527.9L250.8 527.7L251.2 528.7L251.6 527.6L252 524.2L252.4 527.6L252.8 524.8L253.2 525.1L253.6 525.9L254 526L254.4 527.3L254.8 526.4L255.2 525.1L255.6 525.1L256 528.1L256.4 524.9L256.8 525.5L257.2 526.3L257.6 526L258 523.5L258.4 521.7L258.8 522.5L259.2 524.1L259.6 525.6L260 522.8L260.4 521.3L260.8 525L261.2 521.9L261.6 523.1L262 524.6L262.4 523.4L262.8 525.1L263.2 526.8L263.6 525.7L264 522.9L264.4 522.1L264.8 524.7L265.2 518.8L265.6 524.6L266 522L266.4 523.9L266.8 523.3L267.2 522.6L267.6 521.5L268 524.8L268.4 525.2L268.8 522.7L269.2 522L269.6 522.5L270 524.1L270.4 521.7L270.8 520.7L271.2 519.6L271.6 517.7L272 519.4L272.4 524.9L272.8 521.5L273.2 521.4L273.6 519.7L274 520.6L274.4 521.2L274.8 517.5L275.2 521.2L275.6 518.2L276 517L276.4 519.9L276.8 520.8L277.2 518L277.6 513.3L278 518.9L278.4 520.7L278.8 519.5L279.2 520.9L279.6 518.1L280 521.8L280.4 519.8L280.8 517.2L281.2 521.2L281.6 519.1L282 522.5L282.4 520.1L282.8 521L283.2 519.2L283.6 522L284 520.3L284.4 522.9L284.8 523L285.2 519.4L285.6 520.9L286 518.7L286.4 518.4L286.8 519.7L287.2 519.8L287.6 520.2L288 520L288.4 520.7L288.8 521.7L289.2 522.3L289.6 522.8L290 521.1L290.4 524.7L290.8 524.9L291.2 522.3L291.6 521.5L292 524L292.4 522.9L292.8 523L293.2 520.7L293.6 521L294 524.3L294.4 522.2L294.8 524.1L295.2 525.5L295.6 525.9L296 523.2L296.4 525.2L296.8 526.6L297.2 526.2L297.6 525.4L298 526.1L298.4 526.7L298.8 526.8L299.2 525.4L299.6 528L300 530.9L300.4 527.8L300.8 528.8L301.2 530.5L301.6 529.8L302 529.7L302.4 530.7L302.8 530L303.2 535.2L303.6 532.7L304 531.9L304.4 532.9L304.8 534.4L305.2 537.1L305.6 534.9L306 535.6L306.4 537.5L306.8 537.2L307.2 536.4L307.6 537.5L308 540.8L308.4 539.9L308.8 538.3L309.2 539.8L309.6 536.6L310 543L310.4 539.9L310.8 540.7L311.2 542.3L311.6 545.2L312 545.8L312.4 546.7L312.8 548.5L313.2 547.5L313.6 554.1L314 554.5L314.4 558.4L314.8 560.3L315.2 559.1L315.6 559.1L316 560.6L316.4 558.8L316.8 560.4L317.2 560.4L317.6 560.1L318 559.1L318.4 560.1L318.8 557.2L319.2 559.1L319.6 557.4L320 556.6L320.4 556.4L320.8 558.9L321.2 554.9L321.6 553.7L322 554.9L322.4 554.7L322.8 554.9L323.2 552.4L323.6 552.3L324 549.7L324.4 549.8L324.8 550.8L325.2 548.5L325.6 547.3L326 547L326.4 545.4L326.8 543.6L327.2 545.5L327.6 541L328 541.2L328.4 542.1L328.8 540.8L329.2 541.6L329.6 538.9L330 535.7L330.4 534.1L330.8 531.2L331.2 532.2L331.6 530.6L332 531.2L332.4 530.2L332.8 527.5L333.2 526.4L333.6 522.3L334 524.6L334.4 520.9L334.8 521.5L335.2 518.1L335.6 520.1L336 514.3L336.4 513.5L336.8 515.4L337.2 516L337.6 511.3L338 507L338.4 506.4L338.8 504.9L339.2 505.6L339.6 502.2L340 500.2L340.4 499.5L340.8 495.8L341.2 494.6L341.6 493.4L342 492.1L342.4 490.8L342.8 488.5L343.2 487.8L343.6 487.4L344 485L344.4 484.9L344.8 486.2L345.2 483.9L345.6 481.6L346 481.8L346.4 480.7L346.8 479.3L347.2 479L347.6 476.4L348 474.5L348.4 471.7L348.8 471.5L349.2 471.6L349.6 470.8L350 467.4L350.4 465.1L350.8 463.2L351.2 464L351.6 460.6L352 460.5L352.4 460L352.8 461.1L353.2 458.2L353.6 455.7L354 457L354.4 453L354.8 450.9L355.2 456.7L355.6 452.2L356 455.1L356.4 451.5L356.8 452.7L357.2 452.2L357.6 450.4L358 450.5L358.4 447.7L358.8 451.7L359.2 448.3L359.6 449.3L360 444.7L360.4 445.9L360.8 447.7L361.2 450.1L361.6 446.4L362 447.2L362.4 444.6L362.8 439.7L363.2 443.7L363.6 443.1L364 442.8L364.4 444L364.8 438.7L365.2 443.9L365.6 442.6L366 444.5L366.4 440.8L366.8 442.9L367.2 442.1L367.6 442.1L368 442.5L368.4 442.4L368.8 442.5L369.2 442.9L369.6 441.6L370 443L370.4 440.9L370.8 443.2L371.2 445.1L371.6 443.7L372 441.3L372.4 440.1L372.8 444L373.2 444.2L373.6 443.9L374 445.5L374.4 444.3L374.8 446.4L375.2 446.9L375.6 445.1L376 444.7L376.4 447L376.8 443.5L377.2 446.8L377.6 446.1L378 448.3L378.4 449.5L378.8 448.7L379.2 451.2L379.6 452L380 452L380.4 451.2L380.8 452.8L381.2 451.4L381.6 452.7L382 456.1L382.4 451.4L382.8 454L383.2 452.6L383.6 456.1L384 455.3L384.4 454.2L384.8 457.1L385.2 457.6L385.6 457.5L386 459.3L386.4 456.5L386.8 456.2L387.2 456.9L387.6 459.2L388 459.3L388.4 462.7L388.8 458.3L389.2 458.6L389.6 459.7L390 462.6L390.4 459.4L390.8 461.2L391.2 461.8L391.6 461.5L392 462.7L392.4 462.4L392.8 462.5L393.2 463.2L393.6 465.5L394 464L394.4 465.2L394.8 467.7L395.2 466.3L395.6 466.6L396 465.5L396.4 468.7L396.8 470L397.2 468.9L397.6 472.4L398 469.2L398.4 473.8L398.8 475.9L399.2 476.2L399.6 473.6L400 473.4L400.4 476.5L400.8 477.5L401.2 475.9L401.6 479.2L402 483.8L402.4 480.9L402.8 483L403.2 482.2L403.6 481.6L404 477.8L404.4 482.7L404.8 487.3L405.2 484.9L405.6 484.5L406 483.7L406.4 486L406.8 487.5L407.2 489.7L407.6 489.3L408 486.3L408.4 491.8L408.8 491.3L409.2 490.5L409.6 491.2L410 489.5L410.4 494.4L410.8 492.8L411.2 497.4L411.6 496.1L412 495.8L412.7 498.5L413.1 497L413.5 500.8L413.9 500.7L414.3 502.7L414.7 503.5L415.1 501.5L415.5 506.8L415.9 502.2L416.3 508.4L416.7 510L417.1 511.1L417.5 511.2L417.9 512.8L418.3 512.1L418.7 513.8L419.1 514.5L419.5 514.9L419.9 516.1L420.3 519.2L420.7 521.6L421.1 520.1L421.5 521.4L421.9 522.3L422.3 525L422.7 525.1L423.1 527.1L423.5 528.3L423.9 528L424.3 528.3L424.7 533.3L425.1 532.5L425.5 532.8L425.9 534L426.3 533.7L426.7 535.2L427.1 535.6L427.5 538.4L427.9 540.1L428.3 539.5L428.7 544.8L429.1 542.6L429.5 543.9L429.9 546.3L430.3 548.1L430.7 547.3L431.1 549.5L431.5 552.3L431.9 549.9L432.3 552L432.7 553.6L433.1 552.7L433.5 557.8L433.9 555L434.3 558L434.7 558.2L435.1 560.6L435.5 559.6L435.9 561.3L436.3 561L436.7 563.3L437.1 564.8L437.5 564.8L437.9 567L438.3 567.6L438.7 569.8L439.1 568.4L439.5 571.6L439.9 571L440.3 573.1L440.7 576.7L441.1 575.4L441.5 577.1L441.9 575.7L442.3 578.9L442.7 580.4L443.1 581.6L443.5 582.1L443.9 582.9L444.3 583.9L444.7 586.4L445.1 585.7L445.5 587.7L445.9 587.5L446.3 586.2L446.7 588L447.1 591.4L447.5 593.8L447.9 595L448.3 594.6L448.7 592.9L449.1 597.8L449.5 597.7L449.9 596.5L450.3 598L450.7 598.4L451.1 600.5L451.5 603.2L451.9 601.8L452.3 603.2L452.7 605.5L453.1 604.5L453.5 607.8L453.9 605.2L454.3 609.5L454.7 610.4L455.1 611.9L455.5 610.2L455.9 612.4L456.3 613.6L456.7 612.4L457.1 612.9L457.5 614.5L457.9 615.4L458.3 618L458.7 619.1L459.1 618.4L459.5 621.3L459.9 621.6L460.3 623.3L460.7 620.3L461.1 623.7L461.5 622.5L461.9 624L462.3 624.6L462.7 624.5L463.1 629.3L463.5 629.2L463.9 628.2L464.3 628.6L464.7 629.4L465.1 631.9L465.5 631.6L465.9 633.6L466.3 632.2L466.7 633.6L467.1 633.2L467.5 634.6L467.9 636.1L468.3 636L468.7 637.4L469.1 638.7L469.5 639.7L469.9 639.5L470.3 641.3L470.7 638.6L471.1 641.2L471.5 640.9L471.9 642.5L472.3 642.6L472.7 646.7L473.1 645.4L473.5 645.2L473.9 643L474.3 644.6L474.7 646.5L475.1 647.6L475.5 650.3L475.9 647.7L476.3 647.8L476.7 649.6L477.1 650.5L477.5 649.9L477.9 651.3L478.3 653.2L478.7 652.2L479.1 652.6L479.5 652.3L479.9 653.2L480.3 655L480.7 654.7L481.1 655.9L481.5 655.3L481.9 656.4L482.3 656.8L482.7 656.6L483.1 657.1L483.5 657.3L483.9 660L484.3 659.9L484.7 660.4L485.1 659.6L485.5 660.2L485.9 661.8L486.3 661.4L486.7 663.5L487.1 664.2L487.5 663.9L487.9 666L488.3 664.1L488.7 664.8L489.1 665.6L489.5 664.2L489.9 664.7L490.3 664L490.7 665L491.1 666.7L491.5 666.6L491.9 669.5L492.3 668.3L492.7 666.7L493.1 667.8L493.5 668.6L493.9 670.2L494.3 670L494.7 667.8L495.1 670.3L495.5 670.5L495.9 669.7L496.3 672.2L496.7 671.7L497.1 670.6L497.5 670.4L497.9 672.5L498.3 673.2L498.7 673.4L499.1 674.4L499.5 674.3L499.9 673L500.3 672.4L500.7 673.2L501.1 673.8L501.5 675L501.9 674.4" fill="none" stroke="#000" stroke-width="2.5" stroke-linejoin="round"/>
<path d="M66.2 689.2L66.7 689.2L67.2 689.2L67.7 689.2L68.2 689.2L68.7 689.2L69.2 689.2L69.7 689.2L70.2 689.2L70.7 689.2L71.2 689.2L71.7 689.2L72.2 689.2L72.7 689.2L73.2 689.2L73.7 689.2L74.2 689.2L74.7 689.2L75.2 689.2L75.7 689.2L76.2 689.2L76.7 689.2L77.2 689.2L77.7 689.2L78.2 689.2L78.7 689.2L79.2 689.2L79.7 689.2L80.2 689.2L80.7 689.2L81.2 689.2L81.7 689.2L82.2 689.2L82.7 689.2L83.2 689.2L83.7 689.2L84.2 689.2L84.7 689.2L85.2 689.2L85.7 689.2L86.2 689.2L86.7 689.2L87.2 689.2L87.7 689.2L88.2 689.2L88.7 689.2L89.2 689.2L89.7 689.2L90.2 689.2L90.7 689.2L91.2 689.2L91.7 689.2L92.2 689.2L92.7 689.2L93.2 689.2L93.7 689.2L94.2 689.2L94.7 689.2L95.2 689.2L95.7 689.2L96.2 689.2L96.7 689.2L97.2 689.2L97.7 689.2L98.2 689.2L98.7 689.2L99.2 689.2L99.7 689.2L100.2 689.2L100.7 689.2L101.2 689.2L101.7 689.2L102.2 689.2L102.7 689.2L103.2 689.2L103.7 689.2L104.2 689.2L104.7 689.2L105.2 689.2L105.7 689.2L106.2 689.2L106.7 689.2L107.2 689.2L107.7 689.2L108.2 689.2L108.7 689.2L109.2 689.2L109.7 689.2L110.2 689.2L110.7 689.2L111.2 689.2L111.7 689.2L112.2 689.2L112.7 689.2L113.2 689.2L113.7 689.2L114.2 689.2L114.7 689.2L115.2 689.2L115.7 689.2L116.2 689.2L116.7 689.2L117.2 689.2L117.7 689.2L118.2 689.2L118.7 689.2L119.2 689.2L119.7 689.2L120.2 689.2L120.7 689.2L121.2 689.2L121.7 689.2L122.2 689.2L122.7 689.2L123.2 689.2L123.7 689.2L124.2 689.2L124.7 689.2L125.2 689.2L125.7 689.2L126.2 689.2L126.7 689.2L127.2 689.2L127.7 689.2L128.2 689.2L128.7 689.2L129.2 689.2L129.7 689.2L130.2 689.2L130.7 689.2L131.2 689.2L131.7 689.2L132.2 689.2L132.7 689.2L133.2 689.2L133.7 689.2L134.2 689.2L134.7 689.2L135.2 689.2L135.7 689.2L136.2 689.2L136.7 689.2L137.2 689.2L137.7 689.2L138.2 689.2L138.7 689.2L139.2 689.2L139.7 689.2L140.2 689.2L140.7 689.2L141.2 689.2L141.7 689.2L142.2 689.2L142.7 689.2L143.2 689.2L143.7 689.2L144.2 689.2L144.7 689.2L145.2 689.2L145.7 689.2L146.2 689.2L146.7 689.2L147.2 689.2L147.7 689.2L148.2 689.2L148.7 689.2L149.2 689.2L149.7 689.2L150.2 689.2L150.7 689.2L151.2 689.2L151.7 689.2L152.2 689.2L152.7 689.2L153.2 689.2L153.7 689.2L154.2 689.2L154.7 689.2L155.2 689.2L155.7 689.2L156.2 689.2L156.7 689.2L157.2 689.2L157.7 689.2L158.2 689.2L158.7 689.2L159.2 689.2L159.7 689.2L160.2 689.2L160.7 689.2L161.2 689.2L161.7 689.2L162.2 689.2L162.7 689.2L163.2 689.2L163.7 689.2L164.2 689.2L164.7 689.2L165.2 689.2L165.7 689.2L166.2 689.2L166.7 689.2L167.2 689.2L167.7 689.2L168.2 689.2L168.7 689.2L169.2 689.2L169.7 689.2L170.2 689.2L170.7 689.2L171.2 689.2L171.7 689.2L172.2 689.1L172.7 689.1L173.2 689.1L173.7 689.1L174.2 689.1L174.7 689.1L175.2 689.1L175.7 689.1L176.2 689.1L176.7 689.1L177.2 689.1L177.7 689.1L178.2 689.1L178.7 689.1L179.2 689.1L179.7 689.1L180.2 689.1L180.7 689.1L181.2 689.1L181.7 689.1L182.2 689.1L182.7 689.1L183.2 689.1L183.7 689.1L184.2 689.1L184.7 689.1L185.2 689.1L185.7 689.1L186.2 689L186.7 689L187.2 689L187.7 689L188.2 689L188.7 689L189.2 689L189.7 689L190.2 689L190.7 689L191.2 689L191.7 689L192.2 689L192.7 688.9L193.2 688.9L193.7 688.9L194.2 688.9L194.7 688.9L195.2 688.9L195.7 688.9L196.2 688.9L196.7 688.9L197.2 688.8L197.7 688.8L198.2 688.8L198.7 688.8L199.2 688.8L199.7 688.8L200.2 688.8L200.7 688.7L201.2 688.7L201.7 688.7L202.2 688.7L202.7 688.7L203.2 688.7L203.7 688.6L204.2 688.6L204.7 688.6L205.2 688.6L205.7 688.6L206.2 688.5L206.7 688.5L207.2 688.5L207.7 688.5L208.2 688.4L208.7 688.4L209.2 688.4L209.7 688.3L210.2 688.3L210.7 688.3L211.2 688.3L211.7 688.2L212.2 688.2L212.7 688.2L213.2 688.1L213.7 688.1L214.2 688L214.7 688L215.2 688L215.7 687.9L216.2 687.9L216.7 687.8L217.2 687.8L217.7 687.8L218.2 687.7L218.7 687.7L219.2 687.6L219.7 687.6L220.2 687.5L220.7 687.4L221.2 687.4L221.7 687.3L222.2 687.3L222.7 687.2L223.2 687.1L223.7 687.1L224.2 687L224.7 686.9L225.2 686.9L225.7 686.8L226.2 686.7L226.7 686.7L227.2 686.6L227.7 686.5L228.2 686.4L228.7 686.3L229.2 686.2L229.7 686.2L230.2 686.1L230.7 686L231.2 685.9L231.7 685.8L232.2 685.7L232.7 685.6L233.2 685.5L233.7 685.3L234.2 685.2L234.7 685.1L235.2 685L235.7 684.9L236.2 684.7L236.7 684.6L237.2 684.5L237.7 684.3L238.2 684.2L238.7 684.1L239.2 683.9L239.7 683.8L240.2 683.6L240.7 683.5L241.2 683.3L241.7 683.1L242.2 683L242.7 682.8L243.2 682.6L243.7 682.4L244.2 682.3L244.7 682.1L245.2 681.9L245.7 681.7L246.2 681.5L246.7 681.3L247.2 681.1L247.7 680.8L248.2 680.6L248.7 680.4L249.2 680.2L249.7 679.9L250.2 679.7L250.7 679.4L251.2 679.2L251.7 678.9L252.2 678.7L252.7 678.4L253.2 678.1L253.7 677.8L254.2 677.5L254.7 677.3L255.2 677L255.7 676.7L256.2 676.3L256.7 676L257.2 675.7L257.7 675.4L258.2 675L258.7 674.7L259.2 674.3L259.7 674L260.2 673.6L260.7 673.2L261.2 672.9L261.7 672.5L262.2 672.1L262.7 671.7L263.2 671.3L263.7 670.9L264.2 670.4L264.7 670L265.2 669.6L265.7 669.1L266.2 668.7L266.7 668.2L267.2 667.7L267.7 667.2L268.2 666.7L268.7 666.3L269.2 665.7L269.7 665.2L270.2 664.7L270.7 664.2L271.2 663.6L271.7 663.1L272.2 662.5L272.7 661.9L273.2 661.4L273.7 660.8L274.2 660.2L274.7 659.6L275.2 659L275.7 658.3L276.2 657.7L276.7 657L277.2 656.4L277.7 655.7L278.2 655L278.7 654.4L279.2 653.7L279.7 653L280.2 652.2L280.7 651.5L281.2 650.8L281.7 650L282.2 649.3L282.7 648.5L283.2 647.7L283.7 646.9L284.2 646.1L284.7 645.3L285.2 644.5L285.7 643.7L286.2 642.8L286.7 642L287.2 641.1L287.7 640.2L288.2 639.3L288.7 638.4L289.2 637.5L289.7 636.6L290.2 635.7L290.7 634.7L291.2 633.8L291.7 632.8L292.2 631.8L292.7 630.8L293.2 629.8L293.7 628.8L294.2 627.8L294.7 626.8L295.2 625.7L295.7 624.7L296.2 623.6L296.7 622.5L297.2 621.5L297.7 620.4L298.2 619.3L298.7 618.1L299.2 617L299.7 615.9L300.2 614.7L300.7 613.6L301.2 612.4L301.7 611.2L302.2 610.1L302.7 608.9L303.2 607.6L303.7 606.4L304.2 605.2L304.7 604L305.2 602.7L305.7 601.5L306.2 600.2L306.7 598.9L307.2 597.7L307.7 596.4L308.2 595.1L308.7 593.8L309.2 592.4L309.7 591.1L310.2 589.8L310.7 588.5L311.2 587.1L311.7 585.8L312.2 584.4L312.7 583L313.2 581.7L313.7 580.3L314.2 578.9L314.7 577.5L315.2 576.1L315.7 574.7L316.2 573.3L316.7 571.9L317.2 570.4L317.7 569L318.2 567.6L318.7 566.1L319.2 564.7L319.7 563.2L320.2 561.8L320.7 560.3L321.2 558.9L321.7 557.4L322.2 556L322.7 554.5L323.2 553L323.7 551.6L324.2 550.1L324.7 548.6L325.2 547.2L325.7 545.7L326.2 544.2L326.7 542.7L327.2 541.3L327.7 539.8L328.2 538.3L328.7 536.9L329.2 535.4L329.7 533.9L330.2 532.4L330.7 531L331.2 529.5L331.7 528.1L332.2 526.6L332.7 525.2L333.2 523.7L333.7 522.3L334.2 520.8L334.7 519.4L335.2 518L335.7 516.5L336.2 515.1L336.7 513.7L337.2 512.3L337.7 510.9L338.2 509.5L338.7 508.1L339.2 506.8L339.7 505.4L340.2 504L340.7 502.7L341.2 501.4L341.7 500L342.2 498.7L342.7 497.4L343.2 496.1L343.7 494.8L344.2 493.5L344.7 492.3L345.2 491L345.7 489.8L346.2 488.6L346.7 487.3L347.2 486.1L347.7 485L348.2 483.8L348.7 482.6L349.2 481.5L349.7 480.4L350.2 479.2L350.7 478.1L351.2 477.1L351.7 476L352.2 475L352.7 473.9L353.2 472.9L353.7 471.9L354.2 470.9L354.7 470L355.2 469L355.7 468.1L356.2 467.2L356.7 466.3L357.2 465.4L357.7 464.6L358.2 463.8L358.7 462.9L359.2 462.2L359.7 461.4L360.2 460.6L360.7 459.9L361.2 459.2L361.7 458.5L362.2 457.9L362.7 457.2L363.2 456.6L363.7 456L364.2 455.4L364.7 454.9L365.2 454.4L365.7 453.9L366.2 453.4L366.7 452.9L367.2 452.5L367.7 452.1L368.2 451.7L368.7 451.3L369.2 451L369.7 450.6L370.2 450.3L370.7 450.1L371.2 449.8L371.7 449.6L372.2 449.4L372.7 449.2L373.2 449.1L373.7 449L374.2 448.9L374.7 448.8L375.2 448.7L375.7 448.7L376.2 448.7L376.7 448.7L377.2 448.8L377.7 448.8L378.2 448.9L378.7 449L379.2 449.1L379.7 449.3L380.2 449.5L380.7 449.6L381.2 449.9L381.7 450.1L382.2 450.3L382.7 450.6L383.2 450.9L383.7 451.2L384.2 451.6L384.7 451.9L385.2 452.3L385.7 452.7L386.2 453.1L386.7 453.6L387.2 454L387.7 454.5L388.2 455L388.7 455.5L389.2 456L389.7 456.6L390.2 457.2L390.7 457.8L391.2 458.4L391.7 459L392.2 459.7L392.7 460.3L393.2 461L393.7 461.7L394.2 462.5L394.7 463.2L395.2 464L395.7 464.8L396.2 465.5L396.7 466.4L397.2 467.2L397.7 468L398.2 468.9L398.7 469.8L399.2 470.7L399.7 471.6L400.2 472.5L400.7 473.4L401.2 474.4L401.7 475.4L402.2 476.4L402.7 477.4L403.2 478.4L403.7 479.4L404.2 480.4L404.7 481.5L405.2 482.6L405.7 483.6L406.2 484.7L406.7 485.8L407.2 487L407.7 488.1L408.2 489.2L408.7 490.4L409.2 491.5L409.7 492.7L410.2 493.9L410.7 495.1L411.2 496.3L411.7 497.5L412.2 498.7L412.7 500L413.2 501.2L413.7 502.5L414.2 503.7L414.7 505L415.2 506.3L415.7 507.5L416.2 508.8L416.7 510.1L417.2 511.4L417.7 512.7L418.2 514L418.7 515.4L419.2 516.7L419.7 518L420.2 519.3L420.7 520.7L421.2 522L421.7 523.4L422.2 524.7L422.7 526.1L423.2 527.4L423.7 528.8L424.2 530.2L424.7 531.5L425.2 532.9L425.7 534.3L426.2 535.6L426.7 537L427.2 538.4L427.7 539.8L428.2 541.1L428.7 542.5L429.2 543.9L429.7 545.3L430.2 546.6L430.7 548L431.2 549.4L431.7 550.8L432.2 552.1L432.7 553.5L433.2 554.9L433.7 556.2L434.2 557.6L434.7 559L435.2 560.3L435.7 561.7L436.2 563L436.7 564.4L437.2 565.7L437.7 567.1L438.2 568.4L438.7 569.7L439.2 571.1L439.7 572.4L440.2 573.7L440.7 575L441.2 576.4L441.7 577.7L442.2 579L442.7 580.3L443.2 581.5L443.7 582.8L444.2 584.1L444.7 585.4L445.2 586.7L445.7 587.9L446.2 589.2L446.7 590.4L447.2 591.7L447.7 592.9L448.2 594.1L448.7 595.3L449.2 596.5L449.7 597.7L450.2 598.9L450.7 600.1L451.2 601.3L451.7 602.5L452.2 603.6L452.7 604.8L453.2 605.9L453.7 607.1L454.2 608.2L454.7 609.3L455.2 610.5L455.7 611.6L456.2 612.7L456.7 613.7L457.2 614.8L457.7 615.9L458.2 617L458.7 618L459.2 619.1L459.7 620.1L460.2 621.1L460.7 622.1L461.2 623.1L461.7 624.1L462.2 625.1L462.7 626.1L463.2 627.1L463.7 628L464.2 629L464.7 629.9L465.2 630.9L465.7 631.8L466.2 632.7L466.7 633.6L467.2 634.5L467.7 635.4L468.2 636.2L468.7 637.1L469.2 638L469.7 638.8L470.2 639.6L470.7 640.5L471.2 641.3L471.7 642.1L472.2 642.9L472.7 643.7L473.2 644.5L473.7 645.2L474.2 646L474.7 646.7L475.2 647.5L475.7 648.2L476.2 648.9L476.7 649.6L477.2 650.3L477.7 651L478.2 651.7L478.7 652.4L479.2 653.1L479.7 653.7L480.2 654.4L480.7 655L481.2 655.7L481.7 656.3L482.2 656.9L482.7 657.5L483.2 658.1L483.7 658.7L484.2 659.3L484.7 659.8L485.2 660.4L485.7 661L486.2 661.5L486.7 662L487.2 662.6L487.7 663.1L488.2 663.6L488.7 664.1L489.2 664.6L489.7 665.1L490.2 665.6L490.7 666.1L491.2 666.5L491.7 667L492.2 667.5L492.7 667.9L493.2 668.3L493.7 668.8L494.2 669.2L494.7 669.6L495.2 670L495.7 670.4L496.2 670.8L496.7 671.2L497.2 671.6L497.7 672L498.2 672.3L498.7 672.7L499.2 673.1L499.7 673.4L500.2 673.8L500.7 674.1L501.2 674.4L501.7 674.8" fill="none" stroke="#dc1a1a" stroke-width="2.1"/>
<path d="M66.2 689.2L66.7 689.2L67.2 689.2L67.7 689.2L68.2 689.2L68.7 689.2L69.2 689.2L69.7 689.2L70.2 689.2L70.7 689.2L71.2 689.2L71.7 689.2L72.2 689.2L72.7 689.2L73.2 689.2L73.7 689.2L74.2 689.2L74.7 689.2L75.2 689.2L75.7 689.2L76.2 689.2L76.7 689.2L77.2 689.2L77.7 689.2L78.2 689.2L78.7 689.2L79.2 689.2L79.7 689.2L80.2 689.2L80.7 689.2L81.2 689.2L81.7 689.2L82.2 689.2L82.7 689.2L83.2 689.2L83.7 689.2L84.2 689.2L84.7 689.2L85.2 689.2L85.7 689.2L86.2 689.2L86.7 689.2L87.2 689.2L87.7 689.2L88.2 689.2L88.7 689.2L89.2 689.2L89.7 689.2L90.2 689.2L90.7 689.2L91.2 689.2L91.7 689.2L92.2 689.2L92.7 689.2L93.2 689.2L93.7 689.2L94.2 689.2L94.7 689.2L95.2 689.2L95.7 689.2L96.2 689.2L96.7 689.2L97.2 689.2L97.7 689.2L98.2 689.2L98.7 689.2L99.2 689.2L99.7 689.2L100.2 689.2L100.7 689.2L101.2 689.2L101.7 689.2L102.2 689.2L102.7 689.2L103.2 689.2L103.7 689.2L104.2 689.2L104.7 689.2L105.2 689.2L105.7 689.2L106.2 689.2L106.7 689.2L107.2 689.2L107.7 689.2L108.2 689.2L108.7 689.2L109.2 689.2L109.7 689.2L110.2 689.2L110.7 689.2L111.2 689.2L111.7 689.2L112.2 689.2L112.7 689.2L113.2 689.2L113.7 689.2L114.2 689.2L114.7 689.2L115.2 689.2L115.7 689.2L116.2 689.2L116.7 689.2L117.2 689.2L117.7 689.2L118.2 689.2L118.7 689.2L119.2 689.2L119.7 689.2L120.2 689.2L120.7 689.2L121.2 689.2L121.7 689.2L122.2 689.2L122.7 689.2L123.2 689.2L123.7 689.2L124.2 689.2L124.7 689.2L125.2 689.2L125.7 689.2L126.2 689.2L126.7 689.2L127.2 689.2L127.7 689.2L128.2 689.2L128.7 689.2L129.2 689.2L129.7 689.2L130.2 689.2L130.7 689.2L131.2 689.2L131.7 689.2L132.2 689.2L132.7 689.2L133.2 689.2L133.7 689.2L134.2 689.2L134.7 689.2L135.2 689.2L135.7 689.2L136.2 689.2L136.7 689.2L137.2 689.2L137.7 689.2L138.2 689.2L138.7 689.2L139.2 689.2L139.7 689.2L140.2 689.2L140.7 689.2L141.2 689.2L141.7 689.2L142.2 689.2L142.7 689.2L143.2 689.2L143.7 689.2L144.2 689.2L144.7 689.2L145.2 689.2L145.7 689.2L146.2 689.2L146.7 689.2L147.2 689.2L147.7 689.2L148.2 689.2L148.7 689.2L149.2 689.2L149.7 689.2L150.2 689.2L150.7 689.2L151.2 689.2L151.7 689.2L152.2 689.2L152.7 689.2L153.2 689.2L153.7 689.2L154.2 689.2L154.7 689.2L155.2 689.2L155.7 689.2L156.2 689.2L156.7 689.2L157.2 689.2L157.7 689.2L158.2 689.2L158.7 689.2L159.2 689.2L159.7 689.2L160.2 689.2L160.7 689.2L161.2 689.2L161.7 689.2L162.2 689.2L162.7 689.2L163.2 689.2L163.7 689.2L164.2 689.2L164.7 689.2L165.2 689.2L165.7 689.2L166.2 689.2L166.7 689.2L167.2 689.2L167.7 689.2L168.2 689.2L168.7 689.2L169.2 689.2L169.7 689.2L170.2 689.2L170.7 689.2L171.2 689.2L171.7 689.2L172.2 689.2L172.7 689.2L173.2 689.2L173.7 689.2L174.2 689.2L174.7 689.2L175.2 689.2L175.7 689.2L176.2 689.2L176.7 689.2L177.2 689.2L177.7 689.2L178.2 689.2L178.7 689.2L179.2 689.2L179.7 689.2L180.2 689.2L180.7 689.2L181.2 689.2L181.7 689.2L182.2 689.2L182.7 689.2L183.2 689.2L183.7 689.2L184.2 689.2L184.7 689.2L185.2 689.2L185.7 689.2L186.2 689.2L186.7 689.2L187.2 689.2L187.7 689.2L188.2 689.2L188.7 689.2L189.2 689.2L189.7 689.2L190.2 689.2L190.7 689.2L191.2 689.2L191.7 689.2L192.2 689.2L192.7 689.2L193.2 689.2L193.7 689.2L194.2 689.2L194.7 689.2L195.2 689.2L195.7 689.2L196.2 689.2L196.7 689.2L197.2 689.2L197.7 689.2L198.2 689.2L198.7 689.2L199.2 689.2L199.7 689.2L200.2 689.2L200.7 689.2L201.2 689.2L201.7 689.2L202.2 689.2L202.7 689.2L203.2 689.2L203.7 689.2L204.2 689.2L204.7 689.2L205.2 689.2L205.7 689.2L206.2 689.2L206.7 689.2L207.2 689.2L207.7 689.2L208.2 689.2L208.7 689.2L209.2 689.2L209.7 689.2L210.2 689.2L210.7 689.2L211.2 689.2L211.7 689.2L212.2 689.2L212.7 689.2L213.2 689.2L213.7 689.2L214.2 689.2L214.7 689.2L215.2 689.2L215.7 689.2L216.2 689.2L216.7 689.2L217.2 689.2L217.7 689.2L218.2 689.2L218.7 689.2L219.2 689.2L219.7 689.2L220.2 689.2L220.7 689.2L221.2 689.2L221.7 689.2L222.2 689.2L222.7 689.2L223.2 689.2L223.7 689.1L224.2 689.1L224.7 689.1L225.2 689.1L225.7 689.1L226.2 689.1L226.7 689.1L227.2 689.1L227.7 689.1L228.2 689.1L228.7 689.1L229.2 689L229.7 689L230.2 689L230.7 689L231.2 689L231.7 688.9L232.2 688.9L232.7 688.9L233.2 688.8L233.7 688.8L234.2 688.8L234.7 688.7L235.2 688.7L235.7 688.6L236.2 688.6L236.7 688.5L237.2 688.5L237.7 688.4L238.2 688.3L238.7 688.2L239.2 688.2L239.7 688.1L240.2 688L240.7 687.9L241.2 687.7L241.7 687.6L242.2 687.5L242.7 687.4L243.2 687.2L243.7 687L244.2 686.9L244.7 686.7L245.2 686.5L245.7 686.3L246.2 686.1L246.7 685.8L247.2 685.6L247.7 685.3L248.2 685L248.7 684.7L249.2 684.4L249.7 684.1L250.2 683.7L250.7 683.4L251.2 683L251.7 682.5L252.2 682.1L252.7 681.7L253.2 681.2L253.7 680.7L254.2 680.1L254.7 679.6L255.2 679L255.7 678.4L256.2 677.8L256.7 677.1L257.2 676.5L257.7 675.8L258.2 675L258.7 674.3L259.2 673.5L259.7 672.7L260.2 671.8L260.7 671L261.2 670.1L261.7 669.1L262.2 668.2L262.7 667.2L263.2 666.2L263.7 665.2L264.2 664.1L264.7 663.1L265.2 662L265.7 660.8L266.2 659.7L266.7 658.5L267.2 657.4L267.7 656.2L268.2 655L268.7 653.7L269.2 652.5L269.7 651.3L270.2 650L270.7 648.8L271.2 647.5L271.7 646.2L272.2 645L272.7 643.7L273.2 642.4L273.7 641.2L274.2 640L274.7 638.7L275.2 637.5L275.7 636.3L276.2 635.2L276.7 634L277.2 632.9L277.7 631.8L278.2 630.7L278.7 629.7L279.2 628.7L279.7 627.7L280.2 626.8L280.7 625.9L281.2 625.1L281.7 624.3L282.2 623.6L282.7 622.9L283.2 622.3L283.7 621.7L284.2 621.2L284.7 620.7L285.2 620.4L285.7 620L286.2 619.8L286.7 619.6L287.2 619.4L287.7 619.4L288.2 619.4L288.7 619.5L289.2 619.8L289.7 620.1L290.2 620.6L290.7 621.1L291.2 621.7L291.7 622.5L292.2 623.3L292.7 624.1L293.2 625.1L293.7 626.2L294.2 627.3L294.7 628.4L295.2 629.7L295.7 631L296.2 632.3L296.7 633.7L297.2 635.1L297.7 636.6L298.2 638.1L298.7 639.6L299.2 641.1L299.7 642.7L300.2 644.3L300.7 645.8L301.2 647.4L301.7 649L302.2 650.5L302.7 652.1L303.2 653.6L303.7 655.1L304.2 656.6L304.7 658.1L305.2 659.6L305.7 661L306.2 662.4L306.7 663.7L307.2 665L307.7 666.3L308.2 667.5L308.7 668.7L309.2 669.9L309.7 671L310.2 672.1L310.7 673.1L311.2 674.1L311.7 675.1L312.2 676L312.7 676.8L313.2 677.7L313.7 678.4L314.2 679.2L314.7 679.9L315.2 680.6L315.7 681.2L316.2 681.8L316.7 682.3L317.2 682.9L317.7 683.3L318.2 683.8L318.7 684.2L319.2 684.6L319.7 685L320.2 685.4L320.7 685.7L321.2 686L321.7 686.3L322.2 686.5L322.7 686.8L323.2 687L323.7 687.2L324.2 687.4L324.7 687.5L325.2 687.7L325.7 687.8L326.2 688L326.7 688.1L327.2 688.2L327.7 688.3L328.2 688.4L328.7 688.5L329.2 688.6L329.7 688.6L330.2 688.7L330.7 688.7L331.2 688.8L331.7 688.8L332.2 688.9L332.7 688.9L333.2 688.9L333.7 689L334.2 689L334.7 689L335.2 689L335.7 689.1L336.2 689.1L336.7 689.1L337.2 689.1L337.7 689.1L338.2 689.1L338.7 689.1L339.2 689.1L339.7 689.2L340.2 689.2L340.7 689.2L341.2 689.2L341.7 689.2L342.2 689.2L342.7 689.2L343.2 689.2L343.7 689.2L344.2 689.2L344.7 689.2L345.2 689.2L345.7 689.2L346.2 689.2L346.7 689.2L347.2 689.2L347.7 689.2L348.2 689.2L348.7 689.2L349.2 689.2L349.7 689.2L350.2 689.2L350.7 689.2L351.2 689.2L351.7 689.2L352.2 689.2L352.7 689.2L353.2 689.2L353.7 689.2L354.2 689.2L354.7 689.2L355.2 689.2L355.7 689.2L356.2 689.2L356.7 689.2L357.2 689.2L357.7 689.2L358.2 689.2L358.7 689.2L359.2 689.2L359.7 689.2L360.2 689.2L360.7 689.2L361.2 689.2L361.7 689.2L362.2 689.2L362.7 689.2L363.2 689.2L363.7 689.2L364.2 689.2L364.7 689.2L365.2 689.2L365.7 689.2L366.2 689.2L366.7 689.2L367.2 689.2L367.7 689.2L368.2 689.2L368.7 689.2L369.2 689.2L369.7 689.2L370.2 689.2L370.7 689.2L371.2 689.2L371.7 689.2L372.2 689.2L372.7 689.2L373.2 689.2L373.7 689.2L374.2 689.2L374.7 689.2L375.2 689.2L375.7 689.2L376.2 689.2L376.7 689.2L377.2 689.2L377.7 689.2L378.2 689.2L378.7 689.2L379.2 689.2L379.7 689.2L380.2 689.2L380.7 689.2L381.2 689.2L381.7 689.2L382.2 689.2L382.7 689.2L383.2 689.2L383.7 689.2L384.2 689.2L384.7 689.2L385.2 689.2L385.7 689.2L386.2 689.2L386.7 689.2L387.2 689.2L387.7 689.2L388.2 689.2L388.7 689.2L389.2 689.2L389.7 689.2L390.2 689.2L390.7 689.2L391.2 689.2L391.7 689.2L392.2 689.2L392.7 689.2L393.2 689.2L393.7 689.2L394.2 689.2L394.7 689.2L395.2 689.2L395.7 689.2L396.2 689.2L396.7 689.2L397.2 689.2L397.7 689.2L398.2 689.2L398.7 689.2L399.2 689.2L399.7 689.2L400.2 689.2L400.7 689.2L401.2 689.2L401.7 689.2L402.2 689.2L402.7 689.2L403.2 689.2L403.7 689.2L404.2 689.2L404.7 689.2L405.2 689.2L405.7 689.2L406.2 689.2L406.7 689.2L407.2 689.2L407.7 689.2L408.2 689.2L408.7 689.2L409.2 689.2L409.7 689.2L410.2 689.2L410.7 689.2L411.2 689.2L411.7 689.2L412.2 689.2L412.7 689.2L413.2 689.2L413.7 689.2L414.2 689.2L414.7 689.2L415.2 689.2L415.7 689.2L416.2 689.2L416.7 689.2L417.2 689.2L417.7 689.2L418.2 689.2L418.7 689.2L419.2 689.2L419.7 689.2L420.2 689.2L420.7 689.2L421.2 689.2L421.7 689.2L422.2 689.2L422.7 689.2L423.2 689.2L423.7 689.2L424.2 689.2L424.7 689.2L425.2 689.2L425.7 689.2L426.2 689.2L426.7 689.2L427.2 689.2L427.7 689.2L428.2 689.2L428.7 689.2L429.2 689.2L429.7 689.2L430.2 689.2L430.7 689.2L431.2 689.2L431.7 689.2L432.2 689.2L432.7 689.2L433.2 689.2L433.7 689.2L434.2 689.2L434.7 689.2L435.2 689.2L435.7 689.2L436.2 689.2L436.7 689.2L437.2 689.2L437.7 689.2L438.2 689.2L438.7 689.2L439.2 689.2L439.7 689.2L440.2 689.2L440.7 689.2L441.2 689.2L441.7 689.2L442.2 689.2L442.7 689.2L443.2 689.2L443.7 689.2L444.2 689.2L444.7 689.2L445.2 689.2L445.7 689.2L446.2 689.2L446.7 689.2L447.2 689.2L447.7 689.2L448.2 689.2L448.7 689.2L449.2 689.2L449.7 689.2L450.2 689.2L450.7 689.2L451.2 689.2L451.7 689.2L452.2 689.2L452.7 689.2L453.2 689.2L453.7 689.2L454.2 689.2L454.7 689.2L455.2 689.2L455.7 689.2L456.2 689.2L456.7 689.2L457.2 689.2L457.7 689.2L458.2 689.2L458.7 689.2L459.2 689.2L459.7 689.2L460.2 689.2L460.7 689.2L461.2 689.2L461.7 689.2L462.2 689.2L462.7 689.2L463.2 689.2L463.7 689.2L464.2 689.2L464.7 689.2L465.2 689.2L465.7 689.2L466.2 689.2L466.7 689.2L467.2 689.2L467.7 689.2L468.2 689.2L468.7 689.2L469.2 689.2L469.7 689.2L470.2 689.2L470.7 689.2L471.2 689.2L471.7 689.2L472.2 689.2L472.7 689.2L473.2 689.2L473.7 689.2L474.2 689.2L474.7 689.2L475.2 689.2L475.7 689.2L476.2 689.2L476.7 689.2L477.2 689.2L477.7 689.2L478.2 689.2L478.7 689.2L479.2 689.2L479.7 689.2L480.2 689.2L480.7 689.2L481.2 689.2L481.7 689.2L482.2 689.2L482.7 689.2L483.2 689.2L483.7 689.2L484.2 689.2L484.7 689.2L485.2 689.2L485.7 689.2L486.2 689.2L486.7 689.2L487.2 689.2L487.7 689.2L488.2 689.2L488.7 689.2L489.2 689.2L489.7 689.2L490.2 689.2L490.7 689.2L491.2 689.2L491.7 689.2L492.2 689.2L492.7 689.2L493.2 689.2L493.7 689.2L494.2 689.2L494.7 689.2L495.2 689.2L495.7 689.2L496.2 689.2L496.7 689.2L497.2 689.2L497.7 689.2L498.2 689.2L498.7 689.2L499.2 689.2L499.7 689.2L500.2 689.2L500.7 689.2L501.2 689.2L501.7 689.2" fill="none" stroke="#2fdc2f" stroke-width="2.1"/>
<path d="M66.2 680.1L66.7 680L67.2 679.8L67.7 679.6L68.2 679.4L68.7 679.2L69.2 679L69.7 678.8L70.2 678.6L70.7 678.4L71.2 678.2L71.7 678L72.2 677.7L72.7 677.5L73.2 677.3L73.7 677.1L74.2 676.8L74.7 676.6L75.2 676.4L75.7 676.1L76.2 675.9L76.7 675.6L77.2 675.4L77.7 675.1L78.2 674.9L78.7 674.6L79.2 674.4L79.7 674.1L80.2 673.8L80.7 673.6L81.2 673.3L81.7 673L82.2 672.7L82.7 672.4L83.2 672.1L83.7 671.8L84.2 671.5L84.7 671.2L85.2 670.9L85.7 670.6L86.2 670.3L86.7 670L87.2 669.7L87.7 669.4L88.2 669L88.7 668.7L89.2 668.4L89.7 668.1L90.2 667.7L90.7 667.4L91.2 667L91.7 666.7L92.2 666.3L92.7 666L93.2 665.6L93.7 665.2L94.2 664.9L94.7 664.5L95.2 664.1L95.7 663.8L96.2 663.4L96.7 663L97.2 662.6L97.7 662.2L98.2 661.8L98.7 661.4L99.2 661L99.7 660.6L100.2 660.2L100.7 659.8L101.2 659.4L101.7 659L102.2 658.6L102.7 658.1L103.2 657.7L103.7 657.3L104.2 656.9L104.7 656.4L105.2 656L105.7 655.6L106.2 655.1L106.7 654.7L107.2 654.2L107.7 653.8L108.2 653.3L108.7 652.9L109.2 652.4L109.7 652L110.2 651.5L110.7 651L111.2 650.6L111.7 650.1L112.2 649.6L112.7 649.1L113.2 648.7L113.7 648.2L114.2 647.7L114.7 647.2L115.2 646.8L115.7 646.3L116.2 645.8L116.7 645.3L117.2 644.8L117.7 644.3L118.2 643.8L118.7 643.3L119.2 642.8L119.7 642.3L120.2 641.8L120.7 641.3L121.2 640.8L121.7 640.3L122.2 639.8L122.7 639.3L123.2 638.8L123.7 638.3L124.2 637.8L124.7 637.3L125.2 636.8L125.7 636.3L126.2 635.8L126.7 635.3L127.2 634.8L127.7 634.3L128.2 633.8L128.7 633.3L129.2 632.8L129.7 632.3L130.2 631.8L130.7 631.3L131.2 630.8L131.7 630.3L132.2 629.8L132.7 629.3L133.2 628.8L133.7 628.3L134.2 627.8L134.7 627.3L135.2 626.9L135.7 626.4L136.2 625.9L136.7 625.4L137.2 624.9L137.7 624.4L138.2 624L138.7 623.5L139.2 623L139.7 622.5L140.2 622.1L140.7 621.6L141.2 621.1L141.7 620.7L142.2 620.2L142.7 619.8L143.2 619.3L143.7 618.9L144.2 618.4L144.7 618L145.2 617.6L145.7 617.1L146.2 616.7L146.7 616.3L147.2 615.9L147.7 615.4L148.2 615L148.7 614.6L149.2 614.2L149.7 613.8L150.2 613.4L150.7 613L151.2 612.7L151.7 612.3L152.2 611.9L152.7 611.5L153.2 611.2L153.7 610.8L154.2 610.5L154.7 610.1L155.2 609.8L155.7 609.4L156.2 609.1L156.7 608.8L157.2 608.5L157.7 608.2L158.2 607.8L158.7 607.5L159.2 607.2L159.7 607L160.2 606.7L160.7 606.4L161.2 606.1L161.7 605.9L162.2 605.6L162.7 605.4L163.2 605.1L163.7 604.9L164.2 604.7L164.7 604.4L165.2 604.2L165.7 604L166.2 603.8L166.7 603.6L167.2 603.4L167.7 603.2L168.2 603.1L168.7 602.9L169.2 602.8L169.7 602.6L170.2 602.5L170.7 602.3L171.2 602.2L171.7 602.1L172.2 602L172.7 601.9L173.2 601.8L173.7 601.7L174.2 601.6L174.7 601.5L175.2 601.5L175.7 601.4L176.2 601.3L176.7 601.3L177.2 601.3L177.7 601.2L178.2 601.2L178.7 601.2L179.2 601.2L179.7 601.2L180.2 601.2L180.7 601.2L181.2 601.3L181.7 601.3L182.2 601.4L182.7 601.4L183.2 601.5L183.7 601.5L184.2 601.6L184.7 601.7L185.2 601.8L185.7 601.9L186.2 602L186.7 602.1L187.2 602.3L187.7 602.4L188.2 602.6L188.7 602.7L189.2 602.9L189.7 603L190.2 603.2L190.7 603.4L191.2 603.6L191.7 603.8L192.2 604L192.7 604.2L193.2 604.5L193.7 604.7L194.2 604.9L194.7 605.2L195.2 605.4L195.7 605.7L196.2 606L196.7 606.2L197.2 606.5L197.7 606.8L198.2 607.1L198.7 607.4L199.2 607.7L199.7 608L200.2 608.4L200.7 608.7L201.2 609L201.7 609.4L202.2 609.7L202.7 610.1L203.2 610.4L203.7 610.8L204.2 611.2L204.7 611.5L205.2 611.9L205.7 612.3L206.2 612.7L206.7 613.1L207.2 613.5L207.7 613.9L208.2 614.3L208.7 614.8L209.2 615.2L209.7 615.6L210.2 616L210.7 616.5L211.2 616.9L211.7 617.4L212.2 617.8L212.7 618.3L213.2 618.7L213.7 619.2L214.2 619.7L214.7 620.1L215.2 620.6L215.7 621.1L216.2 621.6L216.7 622L217.2 622.5L217.7 623L218.2 623.5L218.7 624L219.2 624.5L219.7 625L220.2 625.5L220.7 626L221.2 626.5L221.7 627L222.2 627.5L222.7 628L223.2 628.5L223.7 629.1L224.2 629.6L224.7 630.1L225.2 630.6L225.7 631.1L226.2 631.6L226.7 632.2L227.2 632.7L227.7 633.2L228.2 633.7L228.7 634.3L229.2 634.8L229.7 635.3L230.2 635.8L230.7 636.3L231.2 636.9L231.7 637.4L232.2 637.9L232.7 638.4L233.2 639L233.7 639.5L234.2 640L234.7 640.5L235.2 641L235.7 641.6L236.2 642.1L236.7 642.6L237.2 643.1L237.7 643.6L238.2 644.1L238.7 644.6L239.2 645.2L239.7 645.7L240.2 646.2L240.7 646.7L241.2 647.2L241.7 647.7L242.2 648.2L242.7 648.7L243.2 649.2L243.7 649.6L244.2 650.1L244.7 650.6L245.2 651.1L245.7 651.6L246.2 652.1L246.7 652.5L247.2 653L247.7 653.5L248.2 654L248.7 654.4L249.2 654.9L249.7 655.4L250.2 655.8L250.7 656.3L251.2 656.7L251.7 657.2L252.2 657.6L252.7 658L253.2 658.5L253.7 658.9L254.2 659.4L254.7 659.8L255.2 660.2L255.7 660.6L256.2 661L256.7 661.5L257.2 661.9L257.7 662.3L258.2 662.7L258.7 663.1L259.2 663.5L259.7 663.9L260.2 664.3L260.7 664.7L261.2 665L261.7 665.4L262.2 665.8L262.7 666.2L263.2 666.5L263.7 666.9L264.2 667.3L264.7 667.6L265.2 668L265.7 668.3L266.2 668.7L266.7 669L267.2 669.3L267.7 669.7L268.2 670L268.7 670.3L269.2 670.7L269.7 671L270.2 671.3L270.7 671.6L271.2 671.9L271.7 672.2L272.2 672.5L272.7 672.8L273.2 673.1L273.7 673.4L274.2 673.7L274.7 674L275.2 674.2L275.7 674.5L276.2 674.8L276.7 675L277.2 675.3L277.7 675.6L278.2 675.8L278.7 676.1L279.2 676.3L279.7 676.6L280.2 676.8L280.7 677.1L281.2 677.3L281.7 677.5L282.2 677.8L282.7 678L283.2 678.2L283.7 678.4L284.2 678.6L284.7 678.8L285.2 679.1L285.7 679.3L286.2 679.5L286.7 679.7L287.2 679.9L287.7 680L288.2 680.2L288.7 680.4L289.2 680.6L289.7 680.8L290.2 681L290.7 681.1L291.2 681.3L291.7 681.5L292.2 681.6L292.7 681.8L293.2 682L293.7 682.1L294.2 682.3L294.7 682.4L295.2 682.6L295.7 682.7L296.2 682.9L296.7 683L297.2 683.1L297.7 683.3L298.2 683.4L298.7 683.5L299.2 683.7L299.7 683.8L300.2 683.9L300.7 684L301.2 684.2L301.7 684.3L302.2 684.4L302.7 684.5L303.2 684.6L303.7 684.7L304.2 684.8L304.7 684.9L305.2 685L305.7 685.1L306.2 685.2L306.7 685.3L307.2 685.4L307.7 685.5L308.2 685.6L308.7 685.7L309.2 685.8L309.7 685.9L310.2 686L310.7 686L311.2 686.1L311.7 686.2L312.2 686.3L312.7 686.3L313.2 686.4L313.7 686.5L314.2 686.6L314.7 686.6L315.2 686.7L315.7 686.8L316.2 686.8L316.7 686.9L317.2 686.9L317.7 687L318.2 687.1L318.7 687.1L319.2 687.2L319.7 687.2L320.2 687.3L320.7 687.3L321.2 687.4L321.7 687.4L322.2 687.5L322.7 687.5L323.2 687.6L323.7 687.6L324.2 687.7L324.7 687.7L325.2 687.7L325.7 687.8L326.2 687.8L326.7 687.9L327.2 687.9L327.7 687.9L328.2 688L328.7 688L329.2 688L329.7 688.1L330.2 688.1L330.7 688.1L331.2 688.2L331.7 688.2L332.2 688.2L332.7 688.3L333.2 688.3L333.7 688.3L334.2 688.3L334.7 688.4L335.2 688.4L335.7 688.4L336.2 688.4L336.7 688.5L337.2 688.5L337.7 688.5L338.2 688.5L338.7 688.5L339.2 688.6L339.7 688.6L340.2 688.6L340.7 688.6L341.2 688.6L341.7 688.7L342.2 688.7L342.7 688.7L343.2 688.7L343.7 688.7L344.2 688.7L344.7 688.7L345.2 688.8L345.7 688.8L346.2 688.8L346.7 688.8L347.2 688.8L347.7 688.8L348.2 688.8L348.7 688.8L349.2 688.9L349.7 688.9L350.2 688.9L350.7 688.9L351.2 688.9L351.7 688.9L352.2 688.9L352.7 688.9L353.2 688.9L353.7 688.9L354.2 689L354.7 689L355.2 689L355.7 689L356.2 689L356.7 689L357.2 689L357.7 689L358.2 689L358.7 689L359.2 689L359.7 689L360.2 689L360.7 689L361.2 689L361.7 689.1L362.2 689.1L362.7 689.1L363.2 689.1L363.7 689.1L364.2 689.1L364.7 689.1L365.2 689.1L365.7 689.1L366.2 689.1L366.7 689.1L367.2 689.1L367.7 689.1L368.2 689.1L368.7 689.1L369.2 689.1L369.7 689.1L370.2 689.1L370.7 689.1L371.2 689.1L371.7 689.1L372.2 689.1L372.7 689.1L373.2 689.1L373.7 689.1L374.2 689.1L374.7 689.1L375.2 689.1L375.7 689.1L376.2 689.1L376.7 689.2L377.2 689.2L377.7 689.2L378.2 689.2L378.7 689.2L379.2 689.2L379.7 689.2L380.2 689.2L380.7 689.2L381.2 689.2L381.7 689.2L382.2 689.2L382.7 689.2L383.2 689.2L383.7 689.2L384.2 689.2L384.7 689.2L385.2 689.2L385.7 689.2L386.2 689.2L386.7 689.2L387.2 689.2L387.7 689.2L388.2 689.2L388.7 689.2L389.2 689.2L389.7 689.2L390.2 689.2L390.7 689.2L391.2 689.2L391.7 689.2L392.2 689.2L392.7 689.2L393.2 689.2L393.7 689.2L394.2 689.2L394.7 689.2L395.2 689.2L395.7 689.2L396.2 689.2L396.7 689.2L397.2 689.2L397.7 689.2L398.2 689.2L398.7 689.2L399.2 689.2L399.7 689.2L400.2 689.2L400.7 689.2L401.2 689.2L401.7 689.2L402.2 689.2L402.7 689.2L403.2 689.2L403.7 689.2L404.2 689.2L404.7 689.2L405.2 689.2L405.7 689.2L406.2 689.2L406.7 689.2L407.2 689.2L407.7 689.2L408.2 689.2L408.7 689.2L409.2 689.2L409.7 689.2L410.2 689.2L410.7 689.2L411.2 689.2L411.7 689.2L412.2 689.2L412.7 689.2L413.2 689.2L413.7 689.2L414.2 689.2L414.7 689.2L415.2 689.2L415.7 689.2L416.2 689.2L416.7 689.2L417.2 689.2L417.7 689.2L418.2 689.2L418.7 689.2L419.2 689.2L419.7 689.2L420.2 689.2L420.7 689.2L421.2 689.2L421.7 689.2L422.2 689.2L422.7 689.2L423.2 689.2L423.7 689.2L424.2 689.2L424.7 689.2L425.2 689.2L425.7 689.2L426.2 689.2L426.7 689.2L427.2 689.2L427.7 689.2L428.2 689.2L428.7 689.2L429.2 689.2L429.7 689.2L430.2 689.2L430.7 689.2L431.2 689.2L431.7 689.2L432.2 689.2L432.7 689.2L433.2 689.2L433.7 689.2L434.2 689.2L434.7 689.2L435.2 689.2L435.7 689.2L436.2 689.2L436.7 689.2L437.2 689.2L437.7 689.2L438.2 689.2L438.7 689.2L439.2 689.2L439.7 689.2L440.2 689.2L440.7 689.2L441.2 689.2L441.7 689.2L442.2 689.2L442.7 689.2L443.2 689.2L443.7 689.2L444.2 689.2L444.7 689.2L445.2 689.2L445.7 689.2L446.2 689.2L446.7 689.2L447.2 689.2L447.7 689.2L448.2 689.2L448.7 689.2L449.2 689.2L449.7 689.2L450.2 689.2L450.7 689.2L451.2 689.2L451.7 689.2L452.2 689.2L452.7 689.2L453.2 689.2L453.7 689.2L454.2 689.2L454.7 689.2L455.2 689.2L455.7 689.2L456.2 689.2L456.7 689.2L457.2 689.2L457.7 689.2L458.2 689.2L458.7 689.2L459.2 689.2L459.7 689.2L460.2 689.2L460.7 689.2L461.2 689.2L461.7 689.2L462.2 689.2L462.7 689.2L463.2 689.2L463.7 689.2L464.2 689.2L464.7 689.2L465.2 689.2L465.7 689.2L466.2 689.2L466.7 689.2L467.2 689.2L467.7 689.2L468.2 689.2L468.7 689.2L469.2 689.2L469.7 689.2L470.2 689.2L470.7 689.2L471.2 689.2L471.7 689.2L472.2 689.2L472.7 689.2L473.2 689.2L473.7 689.2L474.2 689.2L474.7 689.2L475.2 689.2L475.7 689.2L476.2 689.2L476.7 689.2L477.2 689.2L477.7 689.2L478.2 689.2L478.7 689.2L479.2 689.2L479.7 689.2L480.2 689.2L480.7 689.2L481.2 689.2L481.7 689.2L482.2 689.2L482.7 689.2L483.2 689.2L483.7 689.2L484.2 689.2L484.7 689.2L485.2 689.2L485.7 689.2L486.2 689.2L486.7 689.2L487.2 689.2L487.7 689.2L488.2 689.2L488.7 689.2L489.2 689.2L489.7 689.2L490.2 689.2L490.7 689.2L491.2 689.2L491.7 689.2L492.2 689.2L492.7 689.2L493.2 689.2L493.7 689.2L494.2 689.2L494.7 689.2L495.2 689.2L495.7 689.2L496.2 689.2L496.7 689.2L497.2 689.2L497.7 689.2L498.2 689.2L498.7 689.2L499.2 689.2L499.7 689.2L500.2 689.2L500.7 689.2L501.2 689.2L501.7 689.2" fill="none" stroke="#cc22cc" stroke-width="2.1"/>
<path d="M66.2 689.2L66.7 689.2L67.2 689.2L67.7 689.2L68.2 689.2L68.7 689.2L69.2 689.2L69.7 689.2L70.2 689.2L70.7 689.2L71.2 689.2L71.7 689.2L72.2 689.2L72.7 689.2L73.2 689.2L73.7 689.2L74.2 689.2L74.7 689.2L75.2 689.2L75.7 689.2L76.2 689.2L76.7 689.2L77.2 689.2L77.7 689.2L78.2 689.2L78.7 689.2L79.2 689.2L79.7 689.2L80.2 689.2L80.7 689.2L81.2 689.2L81.7 689.2L82.2 689.2L82.7 689.2L83.2 689.2L83.7 689.2L84.2 689.2L84.7 689.2L85.2 689.2L85.7 689.2L86.2 689.2L86.7 689.2L87.2 689.2L87.7 689.2L88.2 689.2L88.7 689.2L89.2 689.2L89.7 689.2L90.2 689.2L90.7 689.2L91.2 689.2L91.7 689.2L92.2 689.2L92.7 689.2L93.2 689.2L93.7 689.2L94.2 689.2L94.7 689.2L95.2 689.2L95.7 689.2L96.2 689.2L96.7 689.2L97.2 689.2L97.7 689.2L98.2 689.2L98.7 689.2L99.2 689.2L99.7 689.2L100.2 689.2L100.7 689.2L101.2 689.2L101.7 689.2L102.2 689.2L102.7 689.2L103.2 689.2L103.7 689.2L104.2 689.2L104.7 689.2L105.2 689.2L105.7 689.2L106.2 689.2L106.7 689.2L107.2 689.2L107.7 689.2L108.2 689.2L108.7 689.2L109.2 689.2L109.7 689.2L110.2 689.2L110.7 689.2L111.2 689.2L111.7 689.2L112.2 689.2L112.7 689.2L113.2 689.2L113.7 689.2L114.2 689.2L114.7 689.2L115.2 689.2L115.7 689.2L116.2 689.2L116.7 689.2L117.2 689.2L117.7 689.2L118.2 689.2L118.7 689.2L119.2 689.2L119.7 689.2L120.2 689.2L120.7 689.2L121.2 689.2L121.7 689.2L122.2 689.2L122.7 689.2L123.2 689.1L123.7 689.1L124.2 689.1L124.7 689.1L125.2 689.1L125.7 689.1L126.2 689.1L126.7 689.1L127.2 689.1L127.7 689.1L128.2 689.1L128.7 689.1L129.2 689.1L129.7 689.1L130.2 689.1L130.7 689.1L131.2 689.1L131.7 689.1L132.2 689L132.7 689L133.2 689L133.7 689L134.2 689L134.7 689L135.2 689L135.7 689L136.2 689L136.7 688.9L137.2 688.9L137.7 688.9L138.2 688.9L138.7 688.9L139.2 688.9L139.7 688.8L140.2 688.8L140.7 688.8L141.2 688.8L141.7 688.7L142.2 688.7L142.7 688.7L143.2 688.7L143.7 688.6L144.2 688.6L144.7 688.6L145.2 688.5L145.7 688.5L146.2 688.5L146.7 688.4L147.2 688.4L147.7 688.3L148.2 688.3L148.7 688.3L149.2 688.2L149.7 688.2L150.2 688.1L150.7 688.1L151.2 688L151.7 687.9L152.2 687.9L152.7 687.8L153.2 687.7L153.7 687.7L154.2 687.6L154.7 687.5L155.2 687.4L155.7 687.3L156.2 687.3L156.7 687.2L157.2 687.1L157.7 687L158.2 686.9L158.7 686.8L159.2 686.6L159.7 686.5L160.2 686.4L160.7 686.3L161.2 686.2L161.7 686L162.2 685.9L162.7 685.7L163.2 685.6L163.7 685.4L164.2 685.3L164.7 685.1L165.2 684.9L165.7 684.7L166.2 684.5L166.7 684.4L167.2 684.2L167.7 683.9L168.2 683.7L168.7 683.5L169.2 683.3L169.7 683L170.2 682.8L170.7 682.5L171.2 682.3L171.7 682L172.2 681.7L172.7 681.4L173.2 681.2L173.7 680.8L174.2 680.5L174.7 680.2L175.2 679.9L175.7 679.5L176.2 679.2L176.7 678.8L177.2 678.4L177.7 678.1L178.2 677.7L178.7 677.3L179.2 676.8L179.7 676.4L180.2 676L180.7 675.5L181.2 675.1L181.7 674.6L182.2 674.1L182.7 673.6L183.2 673.1L183.7 672.6L184.2 672L184.7 671.5L185.2 670.9L185.7 670.4L186.2 669.8L186.7 669.2L187.2 668.6L187.7 667.9L188.2 667.3L188.7 666.7L189.2 666L189.7 665.3L190.2 664.6L190.7 663.9L191.2 663.2L191.7 662.5L192.2 661.7L192.7 661L193.2 660.2L193.7 659.4L194.2 658.6L194.7 657.8L195.2 657L195.7 656.2L196.2 655.3L196.7 654.5L197.2 653.6L197.7 652.7L198.2 651.8L198.7 650.9L199.2 650L199.7 649L200.2 648.1L200.7 647.1L201.2 646.2L201.7 645.2L202.2 644.2L202.7 643.2L203.2 642.2L203.7 641.2L204.2 640.2L204.7 639.1L205.2 638.1L205.7 637L206.2 636L206.7 634.9L207.2 633.9L207.7 632.8L208.2 631.7L208.7 630.6L209.2 629.5L209.7 628.4L210.2 627.3L210.7 626.2L211.2 625.1L211.7 624L212.2 622.9L212.7 621.8L213.2 620.7L213.7 619.5L214.2 618.4L214.7 617.3L215.2 616.2L215.7 615.1L216.2 614L216.7 612.9L217.2 611.8L217.7 610.7L218.2 609.6L218.7 608.6L219.2 607.5L219.7 606.4L220.2 605.4L220.7 604.3L221.2 603.3L221.7 602.3L222.2 601.2L222.7 600.2L223.2 599.2L223.7 598.3L224.2 597.3L224.7 596.3L225.2 595.4L225.7 594.5L226.2 593.6L226.7 592.7L227.2 591.8L227.7 591L228.2 590.1L228.7 589.3L229.2 588.5L229.7 587.7L230.2 587L230.7 586.3L231.2 585.5L231.7 584.9L232.2 584.2L232.7 583.6L233.2 582.9L233.7 582.3L234.2 581.8L234.7 581.2L235.2 580.7L235.7 580.2L236.2 579.8L236.7 579.3L237.2 578.9L237.7 578.5L238.2 578.2L238.7 577.9L239.2 577.6L239.7 577.3L240.2 577.1L240.7 576.8L241.2 576.7L241.7 576.5L242.2 576.4L242.7 576.3L243.2 576.2L243.7 576.2L244.2 576.2L244.7 576.2L245.2 576.3L245.7 576.4L246.2 576.5L246.7 576.6L247.2 576.8L247.7 577L248.2 577.2L248.7 577.5L249.2 577.8L249.7 578.1L250.2 578.4L250.7 578.8L251.2 579.2L251.7 579.6L252.2 580.1L252.7 580.6L253.2 581.1L253.7 581.6L254.2 582.2L254.7 582.7L255.2 583.3L255.7 584L256.2 584.6L256.7 585.3L257.2 586L257.7 586.7L258.2 587.5L258.7 588.2L259.2 589L259.7 589.8L260.2 590.6L260.7 591.5L261.2 592.3L261.7 593.2L262.2 594.1L262.7 595L263.2 595.9L263.7 596.9L264.2 597.8L264.7 598.8L265.2 599.8L265.7 600.8L266.2 601.8L266.7 602.8L267.2 603.8L267.7 604.8L268.2 605.9L268.7 606.9L269.2 608L269.7 609.1L270.2 610.1L270.7 611.2L271.2 612.3L271.7 613.4L272.2 614.5L272.7 615.6L273.2 616.7L273.7 617.8L274.2 618.9L274.7 620L275.2 621.1L275.7 622.2L276.2 623.3L276.7 624.4L277.2 625.5L277.7 626.6L278.2 627.7L278.7 628.8L279.2 629.9L279.7 631L280.2 632.1L280.7 633.1L281.2 634.2L281.7 635.3L282.2 636.3L282.7 637.4L283.2 638.4L283.7 639.4L284.2 640.5L284.7 641.5L285.2 642.5L285.7 643.5L286.2 644.5L286.7 645.4L287.2 646.4L287.7 647.4L288.2 648.3L288.7 649.2L289.2 650.2L289.7 651.1L290.2 652L290.7 652.9L291.2 653.7L291.7 654.6L292.2 655.5L292.7 656.3L293.2 657.1L293.7 657.9L294.2 658.7L294.7 659.5L295.2 660.3L295.7 661.1L296.2 661.8L296.7 662.6L297.2 663.3L297.7 664L298.2 664.7L298.7 665.4L299.2 666L299.7 666.7L300.2 667.4L300.7 668L301.2 668.6L301.7 669.2L302.2 669.8L302.7 670.4L303.2 671L303.7 671.5L304.2 672.1L304.7 672.6L305.2 673.1L305.7 673.6L306.2 674.1L306.7 674.6L307.2 675.1L307.7 675.5L308.2 676L308.7 676.4L309.2 676.8L309.7 677.2L310.2 677.6L310.7 678L311.2 678.4L311.7 678.8L312.2 679.2L312.7 679.5L313.2 679.8L313.7 680.2L314.2 680.5L314.7 680.8L315.2 681.1L315.7 681.4L316.2 681.7L316.7 682L317.2 682.2L317.7 682.5L318.2 682.8L318.7 683L319.2 683.2L319.7 683.5L320.2 683.7L320.7 683.9L321.2 684.1L321.7 684.3L322.2 684.5L322.7 684.7L323.2 684.9L323.7 685.1L324.2 685.2L324.7 685.4L325.2 685.5L325.7 685.7L326.2 685.8L326.7 686L327.2 686.1L327.7 686.2L328.2 686.4L328.7 686.5L329.2 686.6L329.7 686.7L330.2 686.8L330.7 686.9L331.2 687L331.7 687.1L332.2 687.2L332.7 687.3L333.2 687.4L333.7 687.5L334.2 687.6L334.7 687.6L335.2 687.7L335.7 687.8L336.2 687.8L336.7 687.9L337.2 688L337.7 688L338.2 688.1L338.7 688.1L339.2 688.2L339.7 688.2L340.2 688.3L340.7 688.3L341.2 688.4L341.7 688.4L342.2 688.5L342.7 688.5L343.2 688.5L343.7 688.6L344.2 688.6L344.7 688.6L345.2 688.7L345.7 688.7L346.2 688.7L346.7 688.7L347.2 688.8L347.7 688.8L348.2 688.8L348.7 688.8L349.2 688.8L349.7 688.9L350.2 688.9L350.7 688.9L351.2 688.9L351.7 688.9L352.2 688.9L352.7 689L353.2 689L353.7 689L354.2 689L354.7 689L355.2 689L355.7 689L356.2 689L356.7 689L357.2 689.1L357.7 689.1L358.2 689.1L358.7 689.1L359.2 689.1L359.7 689.1L360.2 689.1L360.7 689.1L361.2 689.1L361.7 689.1L362.2 689.1L362.7 689.1L363.2 689.1L363.7 689.1L364.2 689.1L364.7 689.1L365.2 689.1L365.7 689.1L366.2 689.2L366.7 689.2L367.2 689.2L367.7 689.2L368.2 689.2L368.7 689.2L369.2 689.2L369.7 689.2L370.2 689.2L370.7 689.2L371.2 689.2L371.7 689.2L372.2 689.2L372.7 689.2L373.2 689.2L373.7 689.2L374.2 689.2L374.7 689.2L375.2 689.2L375.7 689.2L376.2 689.2L376.7 689.2L377.2 689.2L377.7 689.2L378.2 689.2L378.7 689.2L379.2 689.2L379.7 689.2L380.2 689.2L380.7 689.2L381.2 689.2L381.7 689.2L382.2 689.2L382.7 689.2L383.2 689.2L383.7 689.2L384.2 689.2L384.7 689.2L385.2 689.2L385.7 689.2L386.2 689.2L386.7 689.2L387.2 689.2L387.7 689.2L388.2 689.2L388.7 689.2L389.2 689.2L389.7 689.2L390.2 689.2L390.7 689.2L391.2 689.2L391.7 689.2L392.2 689.2L392.7 689.2L393.2 689.2L393.7 689.2L394.2 689.2L394.7 689.2L395.2 689.2L395.7 689.2L396.2 689.2L396.7 689.2L397.2 689.2L397.7 689.2L398.2 689.2L398.7 689.2L399.2 689.2L399.7 689.2L400.2 689.2L400.7 689.2L401.2 689.2L401.7 689.2L402.2 689.2L402.7 689.2L403.2 689.2L403.7 689.2L404.2 689.2L404.7 689.2L405.2 689.2L405.7 689.2L406.2 689.2L406.7 689.2L407.2 689.2L407.7 689.2L408.2 689.2L408.7 689.2L409.2 689.2L409.7 689.2L410.2 689.2L410.7 689.2L411.2 689.2L411.7 689.2L412.2 689.2L412.7 689.2L413.2 689.2L413.7 689.2L414.2 689.2L414.7 689.2L415.2 689.2L415.7 689.2L416.2 689.2L416.7 689.2L417.2 689.2L417.7 689.2L418.2 689.2L418.7 689.2L419.2 689.2L419.7 689.2L420.2 689.2L420.7 689.2L421.2 689.2L421.7 689.2L422.2 689.2L422.7 689.2L423.2 689.2L423.7 689.2L424.2 689.2L424.7 689.2L425.2 689.2L425.7 689.2L426.2 689.2L426.7 689.2L427.2 689.2L427.7 689.2L428.2 689.2L428.7 689.2L429.2 689.2L429.7 689.2L430.2 689.2L430.7 689.2L431.2 689.2L431.7 689.2L432.2 689.2L432.7 689.2L433.2 689.2L433.7 689.2L434.2 689.2L434.7 689.2L435.2 689.2L435.7 689.2L436.2 689.2L436.7 689.2L437.2 689.2L437.7 689.2L438.2 689.2L438.7 689.2L439.2 689.2L439.7 689.2L440.2 689.2L440.7 689.2L441.2 689.2L441.7 689.2L442.2 689.2L442.7 689.2L443.2 689.2L443.7 689.2L444.2 689.2L444.7 689.2L445.2 689.2L445.7 689.2L446.2 689.2L446.7 689.2L447.2 689.2L447.7 689.2L448.2 689.2L448.7 689.2L449.2 689.2L449.7 689.2L450.2 689.2L450.7 689.2L451.2 689.2L451.7 689.2L452.2 689.2L452.7 689.2L453.2 689.2L453.7 689.2L454.2 689.2L454.7 689.2L455.2 689.2L455.7 689.2L456.2 689.2L456.7 689.2L457.2 689.2L457.7 689.2L458.2 689.2L458.7 689.2L459.2 689.2L459.7 689.2L460.2 689.2L460.7 689.2L461.2 689.2L461.7 689.2L462.2 689.2L462.7 689.2L463.2 689.2L463.7 689.2L464.2 689.2L464.7 689.2L465.2 689.2L465.7 689.2L466.2 689.2L466.7 689.2L467.2 689.2L467.7 689.2L468.2 689.2L468.7 689.2L469.2 689.2L469.7 689.2L470.2 689.2L470.7 689.2L471.2 689.2L471.7 689.2L472.2 689.2L472.7 689.2L473.2 689.2L473.7 689.2L474.2 689.2L474.7 689.2L475.2 689.2L475.7 689.2L476.2 689.2L476.7 689.2L477.2 689.2L477.7 689.2L478.2 689.2L478.7 689.2L479.2 689.2L479.7 689.2L480.2 689.2L480.7 689.2L481.2 689.2L481.7 689.2L482.2 689.2L482.7 689.2L483.2 689.2L483.7 689.2L484.2 689.2L484.7 689.2L485.2 689.2L485.7 689.2L486.2 689.2L486.7 689.2L487.2 689.2L487.7 689.2L488.2 689.2L488.7 689.2L489.2 689.2L489.7 689.2L490.2 689.2L490.7 689.2L491.2 689.2L491.7 689.2L492.2 689.2L492.7 689.2L493.2 689.2L493.7 689.2L494.2 689.2L494.7 689.2L495.2 689.2L495.7 689.2L496.2 689.2L496.7 689.2L497.2 689.2L497.7 689.2L498.2 689.2L498.7 689.2L499.2 689.2L499.7 689.2L500.2 689.2L500.7 689.2L501.2 689.2L501.7 689.2" fill="none" stroke="#1212cc" stroke-width="2.1"/>
<path d="M66.4 435.3H108.3" stroke="#000" stroke-width="2"/>
<text x="113.2" y="441.6" font-size="17.5" fill="#111">ZnO</text>
<path d="M66.4 457.3H108.3" stroke="#dc1a1a" stroke-width="2"/>
<text x="113.2" y="463.6" font-size="17.5" fill="#111">1.84 eV</text>
<path d="M66.4 479.2H108.3" stroke="#2fdc2f" stroke-width="2"/>
<text x="113.2" y="485.5" font-size="17.5" fill="#111">2.08 eV</text>
<path d="M66.4 501.3H108.3" stroke="#1212cc" stroke-width="2"/>
<text x="113.2" y="507.6" font-size="17.5" fill="#111">2.25 eV</text>
<path d="M66.4 523.4H108.3" stroke="#cc22cc" stroke-width="2"/>
<text x="113.2" y="529.7" font-size="17.5" fill="#111">2.46 eV</text>
<path d="M62 995.2L62.4 995.8L62.8 994.3L63.2 994.6L63.6 994.1L64 994.5L64.4 994.5L64.8 993.6L65.2 992.6L65.6 992.4L66 993.2L66.4 993.7L66.8 991.5L67.2 991.7L67.6 991.3L68 992.5L68.4 990.7L68.8 990.9L69.2 989.6L69.6 991.7L70 989.8L70.4 990.9L70.8 990.5L71.2 989.6L71.6 989.4L72 989.4L72.4 989.6L72.8 989.2L73.2 989.6L73.6 988.8L74 986.8L74.4 987.9L74.8 985.5L75.2 987.3L75.6 988L76 986.3L76.4 986.7L76.8 986.3L77.2 987.3L77.6 985.1L78 986.1L78.4 984.1L78.8 985L79.2 984.2L79.6 983.8L80 983.8L80.4 984.2L80.8 984.8L81.2 983.6L81.6 984.2L82 982.9L82.4 984L82.8 983.2L83.2 982.3L83.6 982.4L84 981.5L84.4 979.9L84.8 981.7L85.2 981.2L85.6 982.1L86 980.7L86.4 979.6L86.8 980.5L87.2 980.6L87.6 981L88 980.5L88.4 979.4L88.8 980.2L89.2 980.2L89.6 979.1L90 978.3L90.4 976.7L90.8 978.6L91.2 976.9L91.6 976.8L92 977.5L92.4 977.9L92.8 977L93.2 976.9L93.6 976.1L94 976.1L94.4 976.3L94.8 974.8L95.2 975.1L95.6 975.4L96 974.9L96.4 976.2L96.8 975.1L97.2 974.9L97.6 974.4L98 973.3L98.4 973.3L98.8 972.1L99.2 973.8L99.6 973L100 972.8L100.4 972.7L100.8 972.7L101.2 972.2L101.6 971.3L102 970.3L102.4 972.4L102.8 972.2L103.2 970.8L103.6 973.1L104 971.8L104.4 971.1L104.8 969.1L105.2 971.9L105.6 970.4L106 968.5L106.4 970L106.8 971.2L107.2 968.3L107.6 968.3L108 968.7L108.4 968.8L108.8 967.9L109.2 967.1L109.6 966L110 966.9L110.4 966.2L110.8 966.6L111.2 965.7L111.6 968L112 966.6L112.4 965.3L112.8 966.5L113.2 965.8L113.6 963L114 965L114.4 965.2L114.8 965.5L115.2 965.2L115.6 963.3L116 962.8L116.4 963.1L116.8 962.3L117.2 962.2L117.6 962.4L118 962.6L118.4 963L118.8 960.6L119.2 961L119.6 960.8L120 962.2L120.4 960.4L120.8 959.4L121.2 959.1L121.6 959.9L122 958.8L122.4 959.2L122.8 958.8L123.2 958.6L123.6 956.8L124 957.5L124.4 959.2L124.8 958L125.2 956.8L125.6 956.4L126 957.5L126.4 957L126.8 956.6L127.2 954.8L127.6 955L128 956.3L128.4 955.1L128.8 953.7L129.2 954.9L129.6 954.8L130 954.2L130.4 954.6L130.8 954.4L131.2 952.3L131.6 954.2L132 954.5L132.4 952.1L132.8 953.9L133.2 952.1L133.6 953L134 953.5L134.4 951.6L134.8 951.1L135.2 950.7L135.6 951.3L136 950.7L136.4 952.2L136.8 950.5L137.2 950.1L137.6 951.3L138 951.7L138.4 950.3L138.8 948.4L139.2 949.9L139.6 950.8L140 949.3L140.4 951.2L140.8 948.8L141.2 948.6L141.6 950.9L142 949.3L142.4 948.9L142.8 948.5L143.2 948.1L143.6 947L144 946.8L144.4 946L144.8 948.1L145.2 946.4L145.6 945.9L146 945.4L146.4 945.9L146.8 944.4L147.2 943.6L147.6 946.2L148 943.8L148.4 945.3L148.8 945L149.2 945.5L149.6 943.3L150 944.4L150.4 943.2L150.8 944.3L151.2 944.9L151.6 942.6L152 943.5L152.4 943.5L152.8 943.6L153.2 942.6L153.6 941.8L154 943.5L154.4 944.7L154.8 939.5L155.2 933.3L155.6 932.1L156 935.4L156.4 938.2L156.8 936.1L157.2 935.4L157.6 935.7L158 935.3L158.4 935.7L158.8 934.8L159.2 936.3L159.6 936.1L160 934.7L160.4 934.3L160.8 933.5L161.2 933.5L161.6 933.8L162 933.2L162.4 931.4L162.8 932.4L163.2 933.2L163.6 932.1L164 931.9L164.4 931.8L164.8 932.3L165.2 930.3L165.6 930.4L166 930.5L166.4 928.9L166.8 927.5L167.2 929.9L167.6 929.8L168 927L168.4 929.5L168.8 925.5L169.2 927.4L169.6 928.2L170 928.8L170.4 925L170.8 928.8L171.2 925.4L171.6 924.5L172 927L172.4 924.2L172.8 924.9L173.2 923.9L173.6 923.4L174 923.1L174.4 923.8L174.8 922.3L175.2 924.5L175.6 923.3L176 920.6L176.4 922.3L176.8 922.2L177.2 918.4L177.6 919.5L178 920.1L178.4 918.5L178.8 919.5L179.2 918.9L179.6 918.1L180 919L180.4 917.7L180.8 917.9L181.2 917.3L181.6 915.4L182 914L182.4 915L182.8 911.8L183.2 913.4L183.6 912.7L184 912.2L184.4 911.2L184.8 909.3L185.2 912.5L185.6 911.3L186 908.6L186.4 908.1L186.8 906.5L187.2 906.3L187.6 906.1L188 907.8L188.4 908.9L188.8 906.9L189.2 907.1L189.6 908.5L190 907.4L190.4 904.9L190.8 905.6L191.2 906.2L191.6 904.8L192 905.2L192.4 904.6L192.8 906L193.2 904.8L193.6 905.6L194 904.1L194.4 903.7L194.8 905.7L195.2 905.4L195.6 904.3L196 902.9L196.4 902.7L196.8 904.8L197.2 902.6L197.6 903.8L198 904.7L198.4 904.5L198.8 902.5L199.2 898.8L199.6 901.6L200 900L200.4 899.9L200.8 900.5L201.2 897.4L201.6 898.8L202 899.5L202.4 899.3L202.8 897L203.2 896.7L203.6 898.1L204 896.9L204.4 895.4L204.8 894L205.2 892.1L205.6 893.6L206 893.7L206.4 894.2L206.8 891.2L207.2 891.7L207.6 889.3L208 889.8L208.4 891.5L208.8 888.6L209.2 890.4L209.6 888.2L210 886.3L210.4 884.3L210.8 886.9L211.2 885.5L211.6 884.6L212 886L212.4 882.9L212.8 883L213.2 880.9L213.6 880.1L214 877.6L214.4 874.5L214.8 871.9L215.2 872.3L215.6 873.7L216 871.2L216.4 871.3L216.8 872.3L217.2 875.3L217.6 870.8L218 874.1L218.4 871L218.8 874.5L219.2 875.7L219.6 875.2L220 874.4L220.4 874.5L220.8 875L221.2 877.3L221.6 876.8L222 876.7L222.4 877.2L222.8 878.9L223.2 876.4L223.6 878.8L224 881.3L224.4 876.8L224.8 877.7L225.2 875.5L225.6 874.8L226 875L226.4 874.8L226.8 874.4L227.2 876.4L227.6 874L228 872.6L228.4 871.1L228.8 873.3L229.2 871.9L229.6 874.1L230 870.6L230.4 873.3L230.8 872.5L231.2 871.7L231.6 869.8L232 867.8L232.4 870.5L232.8 871.5L233.2 872L233.6 869L234 870.9L234.4 872.1L234.8 870.5L235.2 866.9L235.6 871.8L236 868.3L236.4 869.5L236.8 868.2L237.2 866.6L237.6 868.1L238 867.7L238.4 867.4L238.8 867.1L239.2 866.9L239.6 864.9L240 863.9L240.4 863.2L240.8 865.5L241.2 864.1L241.6 866.7L242 863.5L242.4 866.2L242.8 865.8L243.2 865.2L243.6 863.7L244 862.5L244.4 863.1L244.8 864.3L245.2 864.3L245.6 862.6L246 866L246.4 861.7L246.8 864.2L247.2 861.8L247.6 859.1L248 863.4L248.4 863.7L248.8 860.7L249.2 860.3L249.6 861L250 861.3L250.4 861.3L250.8 857.9L251.2 860.1L251.6 861.1L252 861.4L252.4 858.8L252.8 860.2L253.2 857.3L253.6 858.5L254 860.8L254.4 860.4L254.8 859.2L255.2 859.7L255.6 857.9L256 856.3L256.4 857.1L256.8 860.6L257.2 858.3L257.6 858.4L258 857.9L258.4 859.6L258.8 856.9L259.2 857.8L259.6 858.8L260 859L260.4 856.1L260.8 854.7L261.2 858.8L261.6 856.7L262 855.2L262.4 856.4L262.8 854.8L263.2 852.5L263.6 853.1L264 853.4L264.4 850.3L264.8 849.6L265.2 849.8L265.6 849.2L266 850.5L266.4 847.7L266.8 847.9L267.2 850.2L267.6 849.7L268 848.8L268.4 848.5L268.8 847.5L269.2 848L269.6 847.5L270 846.4L270.4 847.1L270.8 847.2L271.2 843L271.6 848.6L272 844.7L272.4 844.1L272.8 845L273.2 850.7L273.6 844.9L274 851.4L274.4 849.5L274.8 849.4L275.2 849.7L275.6 848.3L276 846.8L276.4 849.9L276.8 850.1L277.2 850.8L277.6 849.7L278 849.9L278.4 848.6L278.8 848.1L279.2 846.9L279.6 850.5L280 851.8L280.4 850.2L280.8 849.1L281.2 852.6L281.6 850.4L282 851.5L282.4 850.7L282.8 851.8L283.2 851.7L283.6 851.4L284 853.5L284.4 852.5L284.8 855.3L285.2 851.6L285.6 852.5L286 854.2L286.4 855.4L286.8 852.6L287.2 852.4L287.6 851.6L288 854L288.4 851.6L288.8 851.7L289.2 851.2L289.6 850.4L290 850.2L290.4 849.4L290.8 851.3L291.2 849.6L291.6 849.5L292 846.9L292.4 851.2L292.8 848.6L293.2 850.4L293.6 849.3L294 846.6L294.4 848.2L294.8 846.6L295.2 851.7L295.6 853.7L296 851.6L296.4 850.1L296.8 851.3L297.2 852.7L297.6 852L298 853.2L298.4 853.5L298.8 856.1L299.2 856L299.6 854.6L300 855.7L300.4 853.2L300.8 855.3L301.2 854.2L301.6 853.6L302 855.6L302.4 852.6L302.8 855L303.2 855.5L303.6 855.2L304 856.7L304.4 855L304.8 857.1L305.2 856.3L305.6 857.4L306 855.6L306.4 858L306.8 859L307.2 858.8L307.6 859.3L308 859.2L308.4 860L308.8 853.5L309.2 862.1L309.6 859.7L310 863.3L310.4 866.2L310.8 860L311.2 865.2L311.6 861.4L312 864.3L312.4 867.5L312.8 868.4L313.2 867.4L313.6 870.1L314 873.5L314.4 877.3L314.8 877.1L315.2 877.7L315.6 877.6L316 879.8L316.4 875.1L316.8 878.8L317.2 879.4L317.6 878.7L318 878L318.4 879.9L318.8 878.8L319.2 878L319.6 877.2L320 878.3L320.4 876.7L320.8 876.4L321.2 876.7L321.6 878.6L322 876.4L322.4 874.7L322.8 873.6L323.2 875L323.6 874.9L324 872.8L324.4 869.5L324.8 870.5L325.2 868.9L325.6 866L326 865L326.4 865.1L326.8 863L327.2 866.4L327.6 863.1L328 861L328.4 861.3L328.8 859.1L329.2 858.6L329.6 857.2L330 857.3L330.4 854L330.8 855.4L331.2 851.7L331.6 852L332 850L332.4 849.8L332.8 849.7L333.2 847.7L333.6 845.7L334 843.6L334.4 840.5L334.8 842.3L335.2 838.2L335.6 838.3L336 836.2L336.4 837.1L336.8 831L337.2 834.3L337.6 830.1L338 827L338.4 826.2L338.8 826L339.2 824.6L339.6 821.7L340 821L340.4 817.5L340.8 817.2L341.2 818.9L341.6 812.4L342 813.3L342.4 810L342.8 808.4L343.2 803.8L343.6 801.6L344 803.4L344.4 798L344.8 799.3L345.2 797.4L345.6 797.5L346 795.1L346.4 794.6L346.8 791.7L347.2 791.1L347.6 786.9L348 791.6L348.4 786.7L348.8 784.2L349.2 780.1L349.6 779.9L350 777.8L350.4 776.9L350.8 780.2L351.2 774.4L351.6 775.3L352 774.9L352.4 773.2L352.8 770.6L353.2 767L353.6 769.2L354 768.8L354.4 768L354.8 766.8L355.2 765.9L355.6 765.1L356 764.6L356.4 758.7L356.8 758.9L357.2 759.6L357.6 762.5L358 760.8L358.4 756.4L358.8 758.9L359.2 755.1L359.6 755.7L360 757.4L360.4 756.3L360.8 757L361.2 754.8L361.6 755.7L362 754.7L362.4 754L362.8 754.8L363.2 753.5L363.6 754.9L364 754.1L364.4 757.4L364.8 753.4L365.2 751.2L365.6 752.7L366 749.2L366.4 752.2L366.8 753L367.2 747.6L367.6 754.1L368 751L368.4 752.7L368.8 750.9L369.2 749.4L369.6 750.9L370 752.7L370.4 749.4L370.8 749.6L371.2 749.7L371.6 753L372 750.2L372.4 751.4L372.8 752.6L373.2 751.7L373.6 753.3L374 752.5L374.4 752L374.8 754.4L375.2 751.1L375.6 752.2L376 753.5L376.4 750.4L376.8 755.6L377.2 753.3L377.6 749.8L378 755.6L378.4 752.7L378.8 753.9L379.2 752.8L379.6 755.3L380 754.5L380.4 755.9L380.8 754.1L381.2 755.3L381.6 755.8L382 756.7L382.4 757.7L382.8 755.8L383.2 756L383.6 753.6L384 759L384.4 756.9L384.8 756.3L385.2 756.9L385.6 760.5L386 756.3L386.4 761.9L386.8 759.6L387.2 756.2L387.6 758.1L388 759.8L388.4 760.8L388.8 759L389.2 759.7L389.6 761.6L390 757.8L390.4 760.1L390.8 764.7L391.2 760.1L391.6 760.1L392 761.8L392.4 763.3L392.8 766.3L393.2 765.6L393.6 765L394 748.7L394.4 765.2L394.8 766.4L395.2 765.1L395.6 765.5L396 766.5L396.4 767.2L396.8 768.6L397.2 767.6L397.6 771L398 766.2L398.4 770.4L398.8 770.9L399.2 771.5L399.6 773L400 775.2L400.4 773.4L400.8 774.3L401.2 777.9L401.6 774.8L402 777.5L402.4 776.5L402.8 779.5L403.2 778.6L403.6 782.3L404 778.9L404.4 781.6L404.8 781L405.2 784L405.6 786.4L406 785.1L406.4 783.8L406.8 786.5L407.2 788.7L407.6 786.7L408 787L408.4 787.5L408.8 790L409.2 790.4L409.6 792.3L410 790.1L410.4 790.9L410.8 791.8L411.2 792.5L411.6 795.4L412 796L412.4 793.5L412.8 797.2L413.2 797.5L413.6 797.4L414 797.5L414.4 796.5L414.8 795.9L415.2 800.4L415.6 802.3L416 799.7L416.4 802.2L416.8 805.1L417.2 803.9L417.6 803.5L418 805.5L418.4 803.1L418.8 805.8L419.2 809.2L419.6 809.1L420 809L420.4 812.5L420.8 812.5L421.2 810.2L421.9 814.1L422.3 816.7L422.7 817L423.1 820.5L423.5 820.1L423.9 821.7L424.3 823.1L424.7 822.9L425.1 824.4L425.5 827.5L425.9 824.4L426.3 828.3L426.7 830.1L427.1 831.2L427.5 833.6L427.9 836.6L428.3 836.3L428.7 836.5L429.1 836.5L429.5 835.4L429.9 838.7L430.3 838.8L430.7 840.8L431.1 843.2L431.5 844.2L431.9 841.4L432.3 847.2L432.7 847.6L433.1 847.7L433.5 848.3L433.9 850.2L434.3 849.3L434.7 851.7L435.1 854L435.5 853.6L435.9 857.2L436.3 859.5L436.7 858.1L437.1 859.3L437.5 858.3L437.9 863.5L438.3 864.5L438.7 866.9L439.1 866.9L439.5 864.9L439.9 866L440.3 867.1L440.7 867.8L441.1 868.9L441.5 872.4L441.9 873.1L442.3 871.7L442.7 875.5L443.1 879.2L443.5 876.7L443.9 876.4L444.3 879.8L444.7 880L445.1 881.3L445.5 883.1L445.9 884.3L446.3 882.8L446.7 885.9L447.1 888L447.5 888.8L447.9 888.9L448.3 890.5L448.7 890.3L449.1 891.3L449.5 893.7L449.9 895.6L450.3 894L450.7 897.7L451.1 894.5L451.5 898.8L451.9 900.1L452.3 899.3L452.7 900.3L453.1 902.7L453.5 903.5L453.9 905.8L454.3 902.7L454.7 904.9L455.1 907.6L455.5 907.8L455.9 907.2L456.3 909.8L456.7 912L457.1 913.5L457.5 910.5L457.9 914L458.3 914.3L458.7 916.8L459.1 916.8L459.5 917.8L459.9 919.9L460.3 918L460.7 920.9L461.1 919.8L461.5 923.4L461.9 924.2L462.3 923.6L462.7 924.6L463.1 926.4L463.5 924L463.9 928.1L464.3 929.1L464.7 929.8L465.1 929.1L465.5 931.1L465.9 931.2L466.3 932.5L466.7 933.2L467.1 935.6L467.5 933.5L467.9 935.4L468.3 936.1L468.7 937.9L469.1 937.7L469.5 936.4L469.9 938L470.3 939.9L470.7 940.4L471.1 941.3L471.5 943.8L471.9 943.4L472.3 944.8L472.7 944.8L473.1 944.5L473.5 945.9L473.9 948.3L474.3 947L474.7 946.7L475.1 949.9L475.5 949.1L475.9 948.7L476.3 949.8L476.7 950.3L477.1 953.2L477.5 951.9L477.9 953.6L478.3 954L478.7 953.8L479.1 956.4L479.5 956.9L479.9 958L480.3 956.7L480.7 956.2L481.1 956L481.5 957.4L481.9 960.9L482.3 959.8L482.7 961.4L483.1 961.9L483.5 962L483.9 961.7L484.3 962.4L484.7 962.4L485.1 964.8L485.5 964.2L485.9 964.5L486.3 964.8L486.7 966.6L487.1 964.6L487.5 966.2L487.9 967.7L488.3 967L488.7 966.4L489.1 968.8L489.5 969.2L489.9 970.2L490.3 970.7L490.7 971L491.1 971L491.5 971L491.9 971.3L492.3 971L492.7 971.9L493.1 972L493.5 972.9L493.9 973.1L494.3 973L494.7 974L495.1 974.4L495.5 975.6L495.9 975.3L496.3 976.6L496.7 976.9L497.1 977.6L497.5 978L497.9 979.4L498.3 978.8L498.7 977.9L499.1 979.3L499.5 978.9L499.9 979.8L500.3 980.3L500.7 978.4L501.1 979.5L501.5 980.1L501.9 979.9" fill="none" stroke="#000" stroke-width="2.5" stroke-linejoin="round"/>
<path d="M66.2 997.7L66.7 997.7L67.2 997.7L67.7 997.7L68.2 997.7L68.7 997.7L69.2 997.7L69.7 997.7L70.2 997.7L70.7 997.7L71.2 997.7L71.7 997.7L72.2 997.7L72.7 997.7L73.2 997.7L73.7 997.7L74.2 997.7L74.7 997.7L75.2 997.7L75.7 997.7L76.2 997.7L76.7 997.7L77.2 997.7L77.7 997.7L78.2 997.7L78.7 997.7L79.2 997.7L79.7 997.7L80.2 997.7L80.7 997.7L81.2 997.7L81.7 997.7L82.2 997.7L82.7 997.7L83.2 997.7L83.7 997.7L84.2 997.7L84.7 997.7L85.2 997.7L85.7 997.7L86.2 997.7L86.7 997.7L87.2 997.7L87.7 997.7L88.2 997.7L88.7 997.7L89.2 997.7L89.7 997.7L90.2 997.7L90.7 997.7L91.2 997.7L91.7 997.7L92.2 997.7L92.7 997.7L93.2 997.7L93.7 997.7L94.2 997.7L94.7 997.7L95.2 997.7L95.7 997.7L96.2 997.7L96.7 997.7L97.2 997.7L97.7 997.7L98.2 997.7L98.7 997.7L99.2 997.7L99.7 997.7L100.2 997.7L100.7 997.7L101.2 997.7L101.7 997.7L102.2 997.7L102.7 997.7L103.2 997.7L103.7 997.7L104.2 997.7L104.7 997.7L105.2 997.7L105.7 997.7L106.2 997.7L106.7 997.7L107.2 997.7L107.7 997.7L108.2 997.7L108.7 997.7L109.2 997.7L109.7 997.7L110.2 997.7L110.7 997.7L111.2 997.7L111.7 997.7L112.2 997.7L112.7 997.7L113.2 997.7L113.7 997.7L114.2 997.7L114.7 997.7L115.2 997.7L115.7 997.7L116.2 997.7L116.7 997.7L117.2 997.7L117.7 997.7L118.2 997.7L118.7 997.7L119.2 997.7L119.7 997.7L120.2 997.7L120.7 997.7L121.2 997.7L121.7 997.7L122.2 997.7L122.7 997.7L123.2 997.7L123.7 997.7L124.2 997.7L124.7 997.7L125.2 997.7L125.7 997.7L126.2 997.7L126.7 997.7L127.2 997.7L127.7 997.7L128.2 997.7L128.7 997.7L129.2 997.7L129.7 997.7L130.2 997.7L130.7 997.7L131.2 997.7L131.7 997.7L132.2 997.7L132.7 997.7L133.2 997.7L133.7 997.7L134.2 997.7L134.7 997.7L135.2 997.7L135.7 997.7L136.2 997.7L136.7 997.7L137.2 997.7L137.7 997.7L138.2 997.7L138.7 997.7L139.2 997.7L139.7 997.7L140.2 997.7L140.7 997.7L141.2 997.7L141.7 997.7L142.2 997.7L142.7 997.7L143.2 997.7L143.7 997.7L144.2 997.7L144.7 997.7L145.2 997.7L145.7 997.7L146.2 997.7L146.7 997.7L147.2 997.7L147.7 997.7L148.2 997.7L148.7 997.7L149.2 997.7L149.7 997.7L150.2 997.7L150.7 997.7L151.2 997.7L151.7 997.7L152.2 997.7L152.7 997.7L153.2 997.7L153.7 997.7L154.2 997.7L154.7 997.7L155.2 997.7L155.7 997.7L156.2 997.7L156.7 997.7L157.2 997.7L157.7 997.7L158.2 997.7L158.7 997.7L159.2 997.7L159.7 997.7L160.2 997.7L160.7 997.7L161.2 997.7L161.7 997.7L162.2 997.7L162.7 997.7L163.2 997.7L163.7 997.7L164.2 997.7L164.7 997.7L165.2 997.7L165.7 997.7L166.2 997.7L166.7 997.7L167.2 997.7L167.7 997.7L168.2 997.7L168.7 997.7L169.2 997.6L169.7 997.6L170.2 997.6L170.7 997.6L171.2 997.6L171.7 997.6L172.2 997.6L172.7 997.6L173.2 997.6L173.7 997.6L174.2 997.6L174.7 997.6L175.2 997.6L175.7 997.6L176.2 997.6L176.7 997.6L177.2 997.6L177.7 997.6L178.2 997.6L178.7 997.6L179.2 997.6L179.7 997.6L180.2 997.6L180.7 997.6L181.2 997.6L181.7 997.6L182.2 997.6L182.7 997.6L183.2 997.5L183.7 997.5L184.2 997.5L184.7 997.5L185.2 997.5L185.7 997.5L186.2 997.5L186.7 997.5L187.2 997.5L187.7 997.5L188.2 997.5L188.7 997.5L189.2 997.5L189.7 997.5L190.2 997.4L190.7 997.4L191.2 997.4L191.7 997.4L192.2 997.4L192.7 997.4L193.2 997.4L193.7 997.4L194.2 997.4L194.7 997.3L195.2 997.3L195.7 997.3L196.2 997.3L196.7 997.3L197.2 997.3L197.7 997.3L198.2 997.3L198.7 997.2L199.2 997.2L199.7 997.2L200.2 997.2L200.7 997.2L201.2 997.1L201.7 997.1L202.2 997.1L202.7 997.1L203.2 997.1L203.7 997L204.2 997L204.7 997L205.2 997L205.7 997L206.2 996.9L206.7 996.9L207.2 996.9L207.7 996.9L208.2 996.8L208.7 996.8L209.2 996.8L209.7 996.7L210.2 996.7L210.7 996.7L211.2 996.6L211.7 996.6L212.2 996.6L212.7 996.5L213.2 996.5L213.7 996.5L214.2 996.4L214.7 996.4L215.2 996.3L215.7 996.3L216.2 996.2L216.7 996.2L217.2 996.1L217.7 996.1L218.2 996.1L218.7 996L219.2 995.9L219.7 995.9L220.2 995.8L220.7 995.8L221.2 995.7L221.7 995.7L222.2 995.6L222.7 995.5L223.2 995.5L223.7 995.4L224.2 995.3L224.7 995.3L225.2 995.2L225.7 995.1L226.2 995L226.7 995L227.2 994.9L227.7 994.8L228.2 994.7L228.7 994.6L229.2 994.5L229.7 994.4L230.2 994.3L230.7 994.2L231.2 994.2L231.7 994L232.2 993.9L232.7 993.8L233.2 993.7L233.7 993.6L234.2 993.5L234.7 993.4L235.2 993.3L235.7 993.1L236.2 993L236.7 992.9L237.2 992.8L237.7 992.6L238.2 992.5L238.7 992.3L239.2 992.2L239.7 992L240.2 991.9L240.7 991.7L241.2 991.6L241.7 991.4L242.2 991.2L242.7 991.1L243.2 990.9L243.7 990.7L244.2 990.5L244.7 990.3L245.2 990.2L245.7 990L246.2 989.8L246.7 989.6L247.2 989.4L247.7 989.1L248.2 988.9L248.7 988.7L249.2 988.5L249.7 988.2L250.2 988L250.7 987.8L251.2 987.5L251.7 987.3L252.2 987L252.7 986.7L253.2 986.5L253.7 986.2L254.2 985.9L254.7 985.6L255.2 985.3L255.7 985.1L256.2 984.8L256.7 984.4L257.2 984.1L257.7 983.8L258.2 983.5L258.7 983.2L259.2 982.8L259.7 982.5L260.2 982.1L260.7 981.8L261.2 981.4L261.7 981L262.2 980.6L262.7 980.3L263.2 979.9L263.7 979.5L264.2 979.1L264.7 978.6L265.2 978.2L265.7 977.8L266.2 977.4L266.7 976.9L267.2 976.5L267.7 976L268.2 975.5L268.7 975.1L269.2 974.6L269.7 974.1L270.2 973.6L270.7 973.1L271.2 972.6L271.7 972L272.2 971.5L272.7 971L273.2 970.4L273.7 969.9L274.2 969.3L274.7 968.7L275.2 968.1L275.7 967.5L276.2 966.9L276.7 966.3L277.2 965.7L277.7 965.1L278.2 964.4L278.7 963.8L279.2 963.1L279.7 962.4L280.2 961.8L280.7 961.1L281.2 960.4L281.7 959.7L282.2 959L282.7 958.2L283.2 957.5L283.7 956.7L284.2 956L284.7 955.2L285.2 954.4L285.7 953.7L286.2 952.9L286.7 952.1L287.2 951.2L287.7 950.4L288.2 949.6L288.7 948.7L289.2 947.9L289.7 947L290.2 946.1L290.7 945.2L291.2 944.3L291.7 943.4L292.2 942.5L292.7 941.6L293.2 940.7L293.7 939.7L294.2 938.7L294.7 937.8L295.2 936.8L295.7 935.8L296.2 934.8L296.7 933.8L297.2 932.8L297.7 931.7L298.2 930.7L298.7 929.6L299.2 928.6L299.7 927.5L300.2 926.4L300.7 925.3L301.2 924.2L301.7 923.1L302.2 922L302.7 920.9L303.2 919.7L303.7 918.6L304.2 917.4L304.7 916.3L305.2 915.1L305.7 913.9L306.2 912.7L306.7 911.5L307.2 910.3L307.7 909.1L308.2 907.9L308.7 906.6L309.2 905.4L309.7 904.1L310.2 902.9L310.7 901.6L311.2 900.3L311.7 899L312.2 897.7L312.7 896.4L313.2 895.1L313.7 893.8L314.2 892.5L314.7 891.2L315.2 889.8L315.7 888.5L316.2 887.1L316.7 885.8L317.2 884.4L317.7 883.1L318.2 881.7L318.7 880.3L319.2 878.9L319.7 877.5L320.2 876.2L320.7 874.8L321.2 873.4L321.7 872L322.2 870.5L322.7 869.1L323.2 867.7L323.7 866.3L324.2 864.9L324.7 863.5L325.2 862L325.7 860.6L326.2 859.2L326.7 857.7L327.2 856.3L327.7 854.9L328.2 853.4L328.7 852L329.2 850.6L329.7 849.1L330.2 847.7L330.7 846.3L331.2 844.8L331.7 843.4L332.2 842L332.7 840.5L333.2 839.1L333.7 837.7L334.2 836.2L334.7 834.8L335.2 833.4L335.7 832L336.2 830.6L336.7 829.2L337.2 827.7L337.7 826.3L338.2 825L338.7 823.6L339.2 822.2L339.7 820.8L340.2 819.4L340.7 818.1L341.2 816.7L341.7 815.3L342.2 814L342.7 812.6L343.2 811.3L343.7 810L344.2 808.7L344.7 807.4L345.2 806.1L345.7 804.8L346.2 803.5L346.7 802.2L347.2 801L347.7 799.7L348.2 798.5L348.7 797.3L349.2 796.1L349.7 794.8L350.2 793.7L350.7 792.5L351.2 791.3L351.7 790.2L352.2 789L352.7 787.9L353.2 786.8L353.7 785.7L354.2 784.6L354.7 783.5L355.2 782.5L355.7 781.4L356.2 780.4L356.7 779.4L357.2 778.4L357.7 777.4L358.2 776.5L358.7 775.5L359.2 774.6L359.7 773.7L360.2 772.8L360.7 771.9L361.2 771.1L361.7 770.2L362.2 769.4L362.7 768.6L363.2 767.8L363.7 767.1L364.2 766.3L364.7 765.6L365.2 764.9L365.7 764.2L366.2 763.6L366.7 762.9L367.2 762.3L367.7 761.7L368.2 761.1L368.7 760.6L369.2 760L369.7 759.5L370.2 759L370.7 758.5L371.2 758.1L371.7 757.6L372.2 757.2L372.7 756.8L373.2 756.5L373.7 756.1L374.2 755.8L374.7 755.5L375.2 755.2L375.7 755L376.2 754.8L376.7 754.5L377.2 754.4L377.7 754.2L378.2 754.1L378.7 753.9L379.2 753.8L379.7 753.8L380.2 753.7L380.7 753.7L381.2 753.7L381.7 753.7L382.2 753.8L382.7 753.8L383.2 753.9L383.7 754L384.2 754.2L384.7 754.3L385.2 754.5L385.7 754.7L386.2 754.9L386.7 755.1L387.2 755.4L387.7 755.7L388.2 756L388.7 756.3L389.2 756.7L389.7 757L390.2 757.4L390.7 757.8L391.2 758.3L391.7 758.7L392.2 759.2L392.7 759.7L393.2 760.2L393.7 760.7L394.2 761.3L394.7 761.9L395.2 762.5L395.7 763.1L396.2 763.7L396.7 764.4L397.2 765L397.7 765.7L398.2 766.4L398.7 767.2L399.2 767.9L399.7 768.7L400.2 769.5L400.7 770.3L401.2 771.1L401.7 771.9L402.2 772.8L402.7 773.7L403.2 774.6L403.7 775.5L404.2 776.4L404.7 777.3L405.2 778.3L405.7 779.3L406.2 780.3L406.7 781.3L407.2 782.3L407.7 783.3L408.2 784.3L408.7 785.4L409.2 786.5L409.7 787.6L410.2 788.7L410.7 789.8L411.2 790.9L411.7 792L412.2 793.2L412.7 794.4L413.2 795.5L413.7 796.7L414.2 797.9L414.7 799.1L415.2 800.3L415.7 801.6L416.2 802.8L416.7 804.1L417.2 805.3L417.7 806.6L418.2 807.9L418.7 809.2L419.2 810.4L419.7 811.7L420.2 813.1L420.7 814.4L421.2 815.7L421.7 817L422.2 818.4L422.7 819.7L423.2 821.1L423.7 822.4L424.2 823.8L424.7 825.1L425.2 826.5L425.7 827.9L426.2 829.3L426.7 830.6L427.2 832L427.7 833.4L428.2 834.8L428.7 836.2L429.2 837.6L429.7 839L430.2 840.4L430.7 841.8L431.2 843.2L431.7 844.6L432.2 846L432.7 847.5L433.2 848.9L433.7 850.3L434.2 851.7L434.7 853.1L435.2 854.5L435.7 855.9L436.2 857.3L436.7 858.7L437.2 860.1L437.7 861.5L438.2 862.9L438.7 864.3L439.2 865.7L439.7 867.1L440.2 868.5L440.7 869.9L441.2 871.3L441.7 872.6L442.2 874L442.7 875.4L443.2 876.8L443.7 878.1L444.2 879.5L444.7 880.8L445.2 882.2L445.7 883.5L446.2 884.9L446.7 886.2L447.2 887.5L447.7 888.8L448.2 890.1L448.7 891.5L449.2 892.8L449.7 894.1L450.2 895.3L450.7 896.6L451.2 897.9L451.7 899.2L452.2 900.4L452.7 901.7L453.2 902.9L453.7 904.2L454.2 905.4L454.7 906.6L455.2 907.8L455.7 909L456.2 910.2L456.7 911.4L457.2 912.6L457.7 913.8L458.2 914.9L458.7 916.1L459.2 917.2L459.7 918.4L460.2 919.5L460.7 920.6L461.2 921.7L461.7 922.8L462.2 923.9L462.7 925L463.2 926.1L463.7 927.1L464.2 928.2L464.7 929.2L465.2 930.3L465.7 931.3L466.2 932.3L466.7 933.3L467.2 934.3L467.7 935.3L468.2 936.3L468.7 937.2L469.2 938.2L469.7 939.1L470.2 940.1L470.7 941L471.2 941.9L471.7 942.8L472.2 943.7L472.7 944.6L473.2 945.5L473.7 946.4L474.2 947.2L474.7 948.1L475.2 948.9L475.7 949.7L476.2 950.6L476.7 951.4L477.2 952.2L477.7 953L478.2 953.7L478.7 954.5L479.2 955.3L479.7 956L480.2 956.8L480.7 957.5L481.2 958.2L481.7 958.9L482.2 959.6L482.7 960.3L483.2 961L483.7 961.7L484.2 962.4L484.7 963L485.2 963.7L485.7 964.3L486.2 964.9L486.7 965.5L487.2 966.2L487.7 966.8L488.2 967.4L488.7 967.9L489.2 968.5L489.7 969.1L490.2 969.7L490.7 970.2L491.2 970.7L491.7 971.3L492.2 971.8L492.7 972.3L493.2 972.8L493.7 973.3L494.2 973.8L494.7 974.3L495.2 974.8L495.7 975.3L496.2 975.7L496.7 976.2L497.2 976.6L497.7 977.1L498.2 977.5L498.7 977.9L499.2 978.3L499.7 978.8L500.2 979.2L500.7 979.6L501.2 980L501.7 980.3" fill="none" stroke="#dc1a1a" stroke-width="2.1"/>
<path d="M66.2 997.7L66.7 997.7L67.2 997.7L67.7 997.7L68.2 997.7L68.7 997.7L69.2 997.7L69.7 997.7L70.2 997.7L70.7 997.7L71.2 997.7L71.7 997.7L72.2 997.7L72.7 997.7L73.2 997.7L73.7 997.7L74.2 997.7L74.7 997.7L75.2 997.7L75.7 997.7L76.2 997.7L76.7 997.7L77.2 997.7L77.7 997.7L78.2 997.7L78.7 997.7L79.2 997.7L79.7 997.7L80.2 997.7L80.7 997.7L81.2 997.7L81.7 997.7L82.2 997.7L82.7 997.7L83.2 997.7L83.7 997.7L84.2 997.7L84.7 997.7L85.2 997.7L85.7 997.7L86.2 997.7L86.7 997.7L87.2 997.7L87.7 997.7L88.2 997.7L88.7 997.7L89.2 997.7L89.7 997.7L90.2 997.7L90.7 997.7L91.2 997.7L91.7 997.7L92.2 997.7L92.7 997.7L93.2 997.7L93.7 997.7L94.2 997.7L94.7 997.7L95.2 997.7L95.7 997.7L96.2 997.7L96.7 997.7L97.2 997.7L97.7 997.7L98.2 997.7L98.7 997.7L99.2 997.7L99.7 997.7L100.2 997.7L100.7 997.7L101.2 997.7L101.7 997.7L102.2 997.7L102.7 997.7L103.2 997.7L103.7 997.7L104.2 997.7L104.7 997.7L105.2 997.7L105.7 997.7L106.2 997.7L106.7 997.7L107.2 997.7L107.7 997.7L108.2 997.7L108.7 997.7L109.2 997.7L109.7 997.7L110.2 997.7L110.7 997.7L111.2 997.7L111.7 997.7L112.2 997.7L112.7 997.7L113.2 997.7L113.7 997.7L114.2 997.7L114.7 997.7L115.2 997.7L115.7 997.7L116.2 997.7L116.7 997.7L117.2 997.7L117.7 997.7L118.2 997.7L118.7 997.7L119.2 997.7L119.7 997.7L120.2 997.7L120.7 997.7L121.2 997.7L121.7 997.7L122.2 997.7L122.7 997.7L123.2 997.7L123.7 997.7L124.2 997.7L124.7 997.7L125.2 997.7L125.7 997.7L126.2 997.7L126.7 997.7L127.2 997.7L127.7 997.7L128.2 997.7L128.7 997.7L129.2 997.7L129.7 997.7L130.2 997.7L130.7 997.7L131.2 997.7L131.7 997.7L132.2 997.7L132.7 997.7L133.2 997.7L133.7 997.7L134.2 997.7L134.7 997.7L135.2 997.7L135.7 997.7L136.2 997.7L136.7 997.7L137.2 997.7L137.7 997.7L138.2 997.7L138.7 997.7L139.2 997.7L139.7 997.7L140.2 997.7L140.7 997.7L141.2 997.7L141.7 997.7L142.2 997.7L142.7 997.7L143.2 997.7L143.7 997.7L144.2 997.7L144.7 997.7L145.2 997.7L145.7 997.7L146.2 997.7L146.7 997.7L147.2 997.7L147.7 997.7L148.2 997.7L148.7 997.7L149.2 997.7L149.7 997.7L150.2 997.7L150.7 997.7L151.2 997.7L151.7 997.7L152.2 997.7L152.7 997.7L153.2 997.7L153.7 997.7L154.2 997.7L154.7 997.7L155.2 997.7L155.7 997.7L156.2 997.7L156.7 997.7L157.2 997.7L157.7 997.7L158.2 997.7L158.7 997.7L159.2 997.7L159.7 997.7L160.2 997.7L160.7 997.7L161.2 997.7L161.7 997.7L162.2 997.7L162.7 997.7L163.2 997.7L163.7 997.7L164.2 997.7L164.7 997.7L165.2 997.7L165.7 997.7L166.2 997.7L166.7 997.7L167.2 997.7L167.7 997.7L168.2 997.7L168.7 997.7L169.2 997.7L169.7 997.7L170.2 997.7L170.7 997.7L171.2 997.7L171.7 997.7L172.2 997.7L172.7 997.7L173.2 997.7L173.7 997.7L174.2 997.7L174.7 997.7L175.2 997.7L175.7 997.7L176.2 997.7L176.7 997.7L177.2 997.7L177.7 997.7L178.2 997.7L178.7 997.7L179.2 997.7L179.7 997.7L180.2 997.7L180.7 997.7L181.2 997.7L181.7 997.7L182.2 997.7L182.7 997.7L183.2 997.7L183.7 997.7L184.2 997.7L184.7 997.7L185.2 997.7L185.7 997.7L186.2 997.7L186.7 997.7L187.2 997.7L187.7 997.7L188.2 997.7L188.7 997.7L189.2 997.7L189.7 997.7L190.2 997.7L190.7 997.7L191.2 997.7L191.7 997.7L192.2 997.7L192.7 997.7L193.2 997.7L193.7 997.7L194.2 997.7L194.7 997.7L195.2 997.7L195.7 997.7L196.2 997.7L196.7 997.7L197.2 997.7L197.7 997.7L198.2 997.7L198.7 997.7L199.2 997.7L199.7 997.7L200.2 997.7L200.7 997.7L201.2 997.7L201.7 997.7L202.2 997.7L202.7 997.7L203.2 997.7L203.7 997.7L204.2 997.7L204.7 997.7L205.2 997.7L205.7 997.7L206.2 997.7L206.7 997.7L207.2 997.7L207.7 997.7L208.2 997.7L208.7 997.7L209.2 997.7L209.7 997.7L210.2 997.7L210.7 997.7L211.2 997.7L211.7 997.7L212.2 997.7L212.7 997.7L213.2 997.7L213.7 997.7L214.2 997.7L214.7 997.7L215.2 997.7L215.7 997.7L216.2 997.7L216.7 997.7L217.2 997.7L217.7 997.7L218.2 997.7L218.7 997.7L219.2 997.7L219.7 997.7L220.2 997.6L220.7 997.6L221.2 997.6L221.7 997.6L222.2 997.6L222.7 997.6L223.2 997.6L223.7 997.6L224.2 997.6L224.7 997.6L225.2 997.5L225.7 997.5L226.2 997.5L226.7 997.5L227.2 997.5L227.7 997.4L228.2 997.4L228.7 997.4L229.2 997.4L229.7 997.3L230.2 997.3L230.7 997.2L231.2 997.2L231.7 997.1L232.2 997.1L232.7 997L233.2 997L233.7 996.9L234.2 996.8L234.7 996.7L235.2 996.6L235.7 996.5L236.2 996.4L236.7 996.3L237.2 996.2L237.7 996.1L238.2 995.9L238.7 995.8L239.2 995.6L239.7 995.5L240.2 995.3L240.7 995.1L241.2 994.9L241.7 994.6L242.2 994.4L242.7 994.1L243.2 993.9L243.7 993.6L244.2 993.3L244.7 993L245.2 992.6L245.7 992.3L246.2 991.9L246.7 991.5L247.2 991.1L247.7 990.6L248.2 990.1L248.7 989.6L249.2 989.1L249.7 988.6L250.2 988L250.7 987.4L251.2 986.8L251.7 986.2L252.2 985.5L252.7 984.8L253.2 984.1L253.7 983.3L254.2 982.5L254.7 981.7L255.2 980.9L255.7 980L256.2 979.1L256.7 978.2L257.2 977.2L257.7 976.2L258.2 975.2L258.7 974.2L259.2 973.2L259.7 972.1L260.2 971L260.7 969.8L261.2 968.7L261.7 967.5L262.2 966.3L262.7 965.1L263.2 963.9L263.7 962.7L264.2 961.5L264.7 960.2L265.2 958.9L265.7 957.7L266.2 956.4L266.7 955.1L267.2 953.9L267.7 952.6L268.2 951.3L268.7 950.1L269.2 948.8L269.7 947.6L270.2 946.4L270.7 945.2L271.2 944L271.7 942.9L272.2 941.7L272.7 940.6L273.2 939.6L273.7 938.5L274.2 937.5L274.7 936.6L275.2 935.6L275.7 934.8L276.2 933.9L276.7 933.2L277.2 932.4L277.7 931.7L278.2 931.1L278.7 930.5L279.2 930L279.7 929.6L280.2 929.2L280.7 928.8L281.2 928.5L281.7 928.3L282.2 928.1L282.7 928.1L283.2 928L283.7 928L284.2 928.1L284.7 928.3L285.2 928.5L285.7 928.7L286.2 929L286.7 929.4L287.2 929.8L287.7 930.3L288.2 930.8L288.7 931.4L289.2 932L289.7 932.6L290.2 933.4L290.7 934.1L291.2 934.9L291.7 935.8L292.2 936.7L292.7 937.6L293.2 938.6L293.7 939.5L294.2 940.6L294.7 941.6L295.2 942.7L295.7 943.8L296.2 944.9L296.7 946.1L297.2 947.2L297.7 948.4L298.2 949.6L298.7 950.8L299.2 952L299.7 953.2L300.2 954.4L300.7 955.7L301.2 956.9L301.7 958.1L302.2 959.3L302.7 960.5L303.2 961.7L303.7 962.9L304.2 964.1L304.7 965.2L305.2 966.4L305.7 967.5L306.2 968.7L306.7 969.8L307.2 970.8L307.7 971.9L308.2 972.9L308.7 974L309.2 975L309.7 975.9L310.2 976.9L310.7 977.8L311.2 978.7L311.7 979.6L312.2 980.4L312.7 981.2L313.2 982L313.7 982.8L314.2 983.5L314.7 984.3L315.2 985L315.7 985.6L316.2 986.3L316.7 986.9L317.2 987.5L317.7 988L318.2 988.6L318.7 989.1L319.2 989.6L319.7 990.1L320.2 990.5L320.7 991L321.2 991.4L321.7 991.8L322.2 992.1L322.7 992.5L323.2 992.8L323.7 993.1L324.2 993.4L324.7 993.7L325.2 994L325.7 994.2L326.2 994.5L326.7 994.7L327.2 994.9L327.7 995.1L328.2 995.3L328.7 995.5L329.2 995.6L329.7 995.8L330.2 995.9L330.7 996.1L331.2 996.2L331.7 996.3L332.2 996.4L332.7 996.5L333.2 996.6L333.7 996.7L334.2 996.8L334.7 996.9L335.2 996.9L335.7 997L336.2 997.1L336.7 997.1L337.2 997.2L337.7 997.2L338.2 997.2L338.7 997.3L339.2 997.3L339.7 997.4L340.2 997.4L340.7 997.4L341.2 997.4L341.7 997.5L342.2 997.5L342.7 997.5L343.2 997.5L343.7 997.5L344.2 997.6L344.7 997.6L345.2 997.6L345.7 997.6L346.2 997.6L346.7 997.6L347.2 997.6L347.7 997.6L348.2 997.6L348.7 997.6L349.2 997.7L349.7 997.7L350.2 997.7L350.7 997.7L351.2 997.7L351.7 997.7L352.2 997.7L352.7 997.7L353.2 997.7L353.7 997.7L354.2 997.7L354.7 997.7L355.2 997.7L355.7 997.7L356.2 997.7L356.7 997.7L357.2 997.7L357.7 997.7L358.2 997.7L358.7 997.7L359.2 997.7L359.7 997.7L360.2 997.7L360.7 997.7L361.2 997.7L361.7 997.7L362.2 997.7L362.7 997.7L363.2 997.7L363.7 997.7L364.2 997.7L364.7 997.7L365.2 997.7L365.7 997.7L366.2 997.7L366.7 997.7L367.2 997.7L367.7 997.7L368.2 997.7L368.7 997.7L369.2 997.7L369.7 997.7L370.2 997.7L370.7 997.7L371.2 997.7L371.7 997.7L372.2 997.7L372.7 997.7L373.2 997.7L373.7 997.7L374.2 997.7L374.7 997.7L375.2 997.7L375.7 997.7L376.2 997.7L376.7 997.7L377.2 997.7L377.7 997.7L378.2 997.7L378.7 997.7L379.2 997.7L379.7 997.7L380.2 997.7L380.7 997.7L381.2 997.7L381.7 997.7L382.2 997.7L382.7 997.7L383.2 997.7L383.7 997.7L384.2 997.7L384.7 997.7L385.2 997.7L385.7 997.7L386.2 997.7L386.7 997.7L387.2 997.7L387.7 997.7L388.2 997.7L388.7 997.7L389.2 997.7L389.7 997.7L390.2 997.7L390.7 997.7L391.2 997.7L391.7 997.7L392.2 997.7L392.7 997.7L393.2 997.7L393.7 997.7L394.2 997.7L394.7 997.7L395.2 997.7L395.7 997.7L396.2 997.7L396.7 997.7L397.2 997.7L397.7 997.7L398.2 997.7L398.7 997.7L399.2 997.7L399.7 997.7L400.2 997.7L400.7 997.7L401.2 997.7L401.7 997.7L402.2 997.7L402.7 997.7L403.2 997.7L403.7 997.7L404.2 997.7L404.7 997.7L405.2 997.7L405.7 997.7L406.2 997.7L406.7 997.7L407.2 997.7L407.7 997.7L408.2 997.7L408.7 997.7L409.2 997.7L409.7 997.7L410.2 997.7L410.7 997.7L411.2 997.7L411.7 997.7L412.2 997.7L412.7 997.7L413.2 997.7L413.7 997.7L414.2 997.7L414.7 997.7L415.2 997.7L415.7 997.7L416.2 997.7L416.7 997.7L417.2 997.7L417.7 997.7L418.2 997.7L418.7 997.7L419.2 997.7L419.7 997.7L420.2 997.7L420.7 997.7L421.2 997.7L421.7 997.7L422.2 997.7L422.7 997.7L423.2 997.7L423.7 997.7L424.2 997.7L424.7 997.7L425.2 997.7L425.7 997.7L426.2 997.7L426.7 997.7L427.2 997.7L427.7 997.7L428.2 997.7L428.7 997.7L429.2 997.7L429.7 997.7L430.2 997.7L430.7 997.7L431.2 997.7L431.7 997.7L432.2 997.7L432.7 997.7L433.2 997.7L433.7 997.7L434.2 997.7L434.7 997.7L435.2 997.7L435.7 997.7L436.2 997.7L436.7 997.7L437.2 997.7L437.7 997.7L438.2 997.7L438.7 997.7L439.2 997.7L439.7 997.7L440.2 997.7L440.7 997.7L441.2 997.7L441.7 997.7L442.2 997.7L442.7 997.7L443.2 997.7L443.7 997.7L444.2 997.7L444.7 997.7L445.2 997.7L445.7 997.7L446.2 997.7L446.7 997.7L447.2 997.7L447.7 997.7L448.2 997.7L448.7 997.7L449.2 997.7L449.7 997.7L450.2 997.7L450.7 997.7L451.2 997.7L451.7 997.7L452.2 997.7L452.7 997.7L453.2 997.7L453.7 997.7L454.2 997.7L454.7 997.7L455.2 997.7L455.7 997.7L456.2 997.7L456.7 997.7L457.2 997.7L457.7 997.7L458.2 997.7L458.7 997.7L459.2 997.7L459.7 997.7L460.2 997.7L460.7 997.7L461.2 997.7L461.7 997.7L462.2 997.7L462.7 997.7L463.2 997.7L463.7 997.7L464.2 997.7L464.7 997.7L465.2 997.7L465.7 997.7L466.2 997.7L466.7 997.7L467.2 997.7L467.7 997.7L468.2 997.7L468.7 997.7L469.2 997.7L469.7 997.7L470.2 997.7L470.7 997.7L471.2 997.7L471.7 997.7L472.2 997.7L472.7 997.7L473.2 997.7L473.7 997.7L474.2 997.7L474.7 997.7L475.2 997.7L475.7 997.7L476.2 997.7L476.7 997.7L477.2 997.7L477.7 997.7L478.2 997.7L478.7 997.7L479.2 997.7L479.7 997.7L480.2 997.7L480.7 997.7L481.2 997.7L481.7 997.7L482.2 997.7L482.7 997.7L483.2 997.7L483.7 997.7L484.2 997.7L484.7 997.7L485.2 997.7L485.7 997.7L486.2 997.7L486.7 997.7L487.2 997.7L487.7 997.7L488.2 997.7L488.7 997.7L489.2 997.7L489.7 997.7L490.2 997.7L490.7 997.7L491.2 997.7L491.7 997.7L492.2 997.7L492.7 997.7L493.2 997.7L493.7 997.7L494.2 997.7L494.7 997.7L495.2 997.7L495.7 997.7L496.2 997.7L496.7 997.7L497.2 997.7L497.7 997.7L498.2 997.7L498.7 997.7L499.2 997.7L499.7 997.7L500.2 997.7L500.7 997.7L501.2 997.7L501.7 997.7" fill="none" stroke="#2fdc2f" stroke-width="2.1"/>
<path d="M66.2 997.7L66.7 997.7L67.2 997.7L67.7 997.7L68.2 997.7L68.7 997.7L69.2 997.7L69.7 997.7L70.2 997.7L70.7 997.7L71.2 997.7L71.7 997.7L72.2 997.7L72.7 997.7L73.2 997.7L73.7 997.7L74.2 997.7L74.7 997.7L75.2 997.7L75.7 997.7L76.2 997.7L76.7 997.7L77.2 997.7L77.7 997.7L78.2 997.7L78.7 997.7L79.2 997.7L79.7 997.7L80.2 997.7L80.7 997.7L81.2 997.7L81.7 997.7L82.2 997.7L82.7 997.7L83.2 997.7L83.7 997.7L84.2 997.7L84.7 997.7L85.2 997.7L85.7 997.7L86.2 997.7L86.7 997.7L87.2 997.7L87.7 997.7L88.2 997.7L88.7 997.7L89.2 997.7L89.7 997.7L90.2 997.7L90.7 997.7L91.2 997.7L91.7 997.7L92.2 997.7L92.7 997.7L93.2 997.7L93.7 997.7L94.2 997.7L94.7 997.7L95.2 997.7L95.7 997.7L96.2 997.7L96.7 997.7L97.2 997.7L97.7 997.7L98.2 997.7L98.7 997.7L99.2 997.7L99.7 997.7L100.2 997.7L100.7 997.7L101.2 997.7L101.7 997.7L102.2 997.7L102.7 997.7L103.2 997.7L103.7 997.7L104.2 997.7L104.7 997.7L105.2 997.7L105.7 997.7L106.2 997.7L106.7 997.7L107.2 997.7L107.7 997.7L108.2 997.7L108.7 997.7L109.2 997.7L109.7 997.7L110.2 997.7L110.7 997.7L111.2 997.7L111.7 997.7L112.2 997.7L112.7 997.7L113.2 997.7L113.7 997.7L114.2 997.7L114.7 997.7L115.2 997.7L115.7 997.7L116.2 997.7L116.7 997.7L117.2 997.7L117.7 997.7L118.2 997.7L118.7 997.7L119.2 997.7L119.7 997.7L120.2 997.7L120.7 997.7L121.2 997.7L121.7 997.7L122.2 997.7L122.7 997.7L123.2 997.7L123.7 997.7L124.2 997.7L124.7 997.6L125.2 997.6L125.7 997.6L126.2 997.6L126.7 997.6L127.2 997.6L127.7 997.6L128.2 997.6L128.7 997.6L129.2 997.6L129.7 997.6L130.2 997.6L130.7 997.6L131.2 997.6L131.7 997.6L132.2 997.6L132.7 997.6L133.2 997.5L133.7 997.5L134.2 997.5L134.7 997.5L135.2 997.5L135.7 997.5L136.2 997.5L136.7 997.5L137.2 997.4L137.7 997.4L138.2 997.4L138.7 997.4L139.2 997.4L139.7 997.4L140.2 997.3L140.7 997.3L141.2 997.3L141.7 997.3L142.2 997.3L142.7 997.2L143.2 997.2L143.7 997.2L144.2 997.1L144.7 997.1L145.2 997.1L145.7 997L146.2 997L146.7 997L147.2 996.9L147.7 996.9L148.2 996.8L148.7 996.8L149.2 996.8L149.7 996.7L150.2 996.7L150.7 996.6L151.2 996.5L151.7 996.5L152.2 996.4L152.7 996.4L153.2 996.3L153.7 996.2L154.2 996.1L154.7 996.1L155.2 996L155.7 995.9L156.2 995.8L156.7 995.7L157.2 995.6L157.7 995.5L158.2 995.4L158.7 995.3L159.2 995.2L159.7 995.1L160.2 995L160.7 994.8L161.2 994.7L161.7 994.6L162.2 994.4L162.7 994.3L163.2 994.1L163.7 994L164.2 993.8L164.7 993.6L165.2 993.5L165.7 993.3L166.2 993.1L166.7 992.9L167.2 992.7L167.7 992.5L168.2 992.3L168.7 992L169.2 991.8L169.7 991.6L170.2 991.3L170.7 991L171.2 990.8L171.7 990.5L172.2 990.2L172.7 989.9L173.2 989.6L173.7 989.3L174.2 989L174.7 988.7L175.2 988.4L175.7 988L176.2 987.7L176.7 987.3L177.2 986.9L177.7 986.5L178.2 986.1L178.7 985.7L179.2 985.3L179.7 984.9L180.2 984.4L180.7 984L181.2 983.5L181.7 983L182.2 982.6L182.7 982.1L183.2 981.6L183.7 981L184.2 980.5L184.7 980L185.2 979.4L185.7 978.8L186.2 978.3L186.7 977.7L187.2 977.1L187.7 976.5L188.2 975.8L188.7 975.2L189.2 974.5L189.7 973.9L190.2 973.2L190.7 972.5L191.2 971.8L191.7 971.1L192.2 970.4L192.7 969.7L193.2 968.9L193.7 968.2L194.2 967.4L194.7 966.6L195.2 965.8L195.7 965L196.2 964.2L196.7 963.4L197.2 962.6L197.7 961.7L198.2 960.9L198.7 960L199.2 959.2L199.7 958.3L200.2 957.4L200.7 956.5L201.2 955.6L201.7 954.7L202.2 953.8L202.7 952.9L203.2 951.9L203.7 951L204.2 950.1L204.7 949.1L205.2 948.2L205.7 947.2L206.2 946.3L206.7 945.3L207.2 944.3L207.7 943.4L208.2 942.4L208.7 941.4L209.2 940.5L209.7 939.5L210.2 938.5L210.7 937.6L211.2 936.6L211.7 935.6L212.2 934.7L212.7 933.7L213.2 932.8L213.7 931.8L214.2 930.9L214.7 929.9L215.2 929L215.7 928.1L216.2 927.2L216.7 926.2L217.2 925.3L217.7 924.4L218.2 923.6L218.7 922.7L219.2 921.8L219.7 921L220.2 920.1L220.7 919.3L221.2 918.5L221.7 917.7L222.2 916.9L222.7 916.1L223.2 915.4L223.7 914.6L224.2 913.9L224.7 913.2L225.2 912.5L225.7 911.9L226.2 911.2L226.7 910.6L227.2 909.9L227.7 909.4L228.2 908.8L228.7 908.2L229.2 907.7L229.7 907.2L230.2 906.7L230.7 906.2L231.2 905.8L231.7 905.4L232.2 905L232.7 904.6L233.2 904.2L233.7 903.9L234.2 903.6L234.7 903.3L235.2 903.1L235.7 902.8L236.2 902.6L236.7 902.4L237.2 902.3L237.7 902.1L238.2 902L238.7 901.9L239.2 901.9L239.7 901.8L240.2 901.8L240.7 901.8L241.2 901.8L241.7 901.9L242.2 902L242.7 902.1L243.2 902.2L243.7 902.3L244.2 902.5L244.7 902.7L245.2 902.9L245.7 903.1L246.2 903.4L246.7 903.6L247.2 903.9L247.7 904.3L248.2 904.6L248.7 905L249.2 905.4L249.7 905.8L250.2 906.2L250.7 906.7L251.2 907.2L251.7 907.7L252.2 908.2L252.7 908.7L253.2 909.3L253.7 909.9L254.2 910.5L254.7 911.1L255.2 911.7L255.7 912.4L256.2 913L256.7 913.7L257.2 914.4L257.7 915.2L258.2 915.9L258.7 916.6L259.2 917.4L259.7 918.2L260.2 919L260.7 919.8L261.2 920.6L261.7 921.4L262.2 922.3L262.7 923.1L263.2 924L263.7 924.8L264.2 925.7L264.7 926.6L265.2 927.5L265.7 928.4L266.2 929.3L266.7 930.2L267.2 931.1L267.7 932.1L268.2 933L268.7 933.9L269.2 934.9L269.7 935.8L270.2 936.8L270.7 937.7L271.2 938.6L271.7 939.6L272.2 940.5L272.7 941.5L273.2 942.4L273.7 943.4L274.2 944.3L274.7 945.3L275.2 946.2L275.7 947.1L276.2 948.1L276.7 949L277.2 949.9L277.7 950.8L278.2 951.8L278.7 952.7L279.2 953.6L279.7 954.5L280.2 955.4L280.7 956.2L281.2 957.1L281.7 958L282.2 958.8L282.7 959.7L283.2 960.5L283.7 961.4L284.2 962.2L284.7 963L285.2 963.8L285.7 964.6L286.2 965.4L286.7 966.2L287.2 967L287.7 967.7L288.2 968.5L288.7 969.2L289.2 969.9L289.7 970.6L290.2 971.3L290.7 972L291.2 972.7L291.7 973.4L292.2 974L292.7 974.7L293.2 975.3L293.7 975.9L294.2 976.5L294.7 977.1L295.2 977.7L295.7 978.3L296.2 978.9L296.7 979.4L297.2 980L297.7 980.5L298.2 981L298.7 981.5L299.2 982L299.7 982.5L300.2 983L300.7 983.5L301.2 983.9L301.7 984.4L302.2 984.8L302.7 985.2L303.2 985.6L303.7 986L304.2 986.4L304.7 986.8L305.2 987.2L305.7 987.5L306.2 987.9L306.7 988.2L307.2 988.6L307.7 988.9L308.2 989.2L308.7 989.5L309.2 989.8L309.7 990.1L310.2 990.4L310.7 990.6L311.2 990.9L311.7 991.1L312.2 991.4L312.7 991.6L313.2 991.9L313.7 992.1L314.2 992.3L314.7 992.5L315.2 992.7L315.7 992.9L316.2 993.1L316.7 993.3L317.2 993.5L317.7 993.7L318.2 993.8L318.7 994L319.2 994.1L319.7 994.3L320.2 994.4L320.7 994.6L321.2 994.7L321.7 994.8L322.2 995L322.7 995.1L323.2 995.2L323.7 995.3L324.2 995.4L324.7 995.5L325.2 995.6L325.7 995.7L326.2 995.8L326.7 995.9L327.2 996L327.7 996L328.2 996.1L328.7 996.2L329.2 996.3L329.7 996.3L330.2 996.4L330.7 996.5L331.2 996.5L331.7 996.6L332.2 996.6L332.7 996.7L333.2 996.7L333.7 996.8L334.2 996.8L334.7 996.9L335.2 996.9L335.7 996.9L336.2 997L336.7 997L337.2 997.1L337.7 997.1L338.2 997.1L338.7 997.2L339.2 997.2L339.7 997.2L340.2 997.2L340.7 997.3L341.2 997.3L341.7 997.3L342.2 997.3L342.7 997.3L343.2 997.4L343.7 997.4L344.2 997.4L344.7 997.4L345.2 997.4L345.7 997.4L346.2 997.5L346.7 997.5L347.2 997.5L347.7 997.5L348.2 997.5L348.7 997.5L349.2 997.5L349.7 997.5L350.2 997.6L350.7 997.6L351.2 997.6L351.7 997.6L352.2 997.6L352.7 997.6L353.2 997.6L353.7 997.6L354.2 997.6L354.7 997.6L355.2 997.6L355.7 997.6L356.2 997.6L356.7 997.6L357.2 997.6L357.7 997.6L358.2 997.6L358.7 997.6L359.2 997.7L359.7 997.7L360.2 997.7L360.7 997.7L361.2 997.7L361.7 997.7L362.2 997.7L362.7 997.7L363.2 997.7L363.7 997.7L364.2 997.7L364.7 997.7L365.2 997.7L365.7 997.7L366.2 997.7L366.7 997.7L367.2 997.7L367.7 997.7L368.2 997.7L368.7 997.7L369.2 997.7L369.7 997.7L370.2 997.7L370.7 997.7L371.2 997.7L371.7 997.7L372.2 997.7L372.7 997.7L373.2 997.7L373.7 997.7L374.2 997.7L374.7 997.7L375.2 997.7L375.7 997.7L376.2 997.7L376.7 997.7L377.2 997.7L377.7 997.7L378.2 997.7L378.7 997.7L379.2 997.7L379.7 997.7L380.2 997.7L380.7 997.7L381.2 997.7L381.7 997.7L382.2 997.7L382.7 997.7L383.2 997.7L383.7 997.7L384.2 997.7L384.7 997.7L385.2 997.7L385.7 997.7L386.2 997.7L386.7 997.7L387.2 997.7L387.7 997.7L388.2 997.7L388.7 997.7L389.2 997.7L389.7 997.7L390.2 997.7L390.7 997.7L391.2 997.7L391.7 997.7L392.2 997.7L392.7 997.7L393.2 997.7L393.7 997.7L394.2 997.7L394.7 997.7L395.2 997.7L395.7 997.7L396.2 997.7L396.7 997.7L397.2 997.7L397.7 997.7L398.2 997.7L398.7 997.7L399.2 997.7L399.7 997.7L400.2 997.7L400.7 997.7L401.2 997.7L401.7 997.7L402.2 997.7L402.7 997.7L403.2 997.7L403.7 997.7L404.2 997.7L404.7 997.7L405.2 997.7L405.7 997.7L406.2 997.7L406.7 997.7L407.2 997.7L407.7 997.7L408.2 997.7L408.7 997.7L409.2 997.7L409.7 997.7L410.2 997.7L410.7 997.7L411.2 997.7L411.7 997.7L412.2 997.7L412.7 997.7L413.2 997.7L413.7 997.7L414.2 997.7L414.7 997.7L415.2 997.7L415.7 997.7L416.2 997.7L416.7 997.7L417.2 997.7L417.7 997.7L418.2 997.7L418.7 997.7L419.2 997.7L419.7 997.7L420.2 997.7L420.7 997.7L421.2 997.7L421.7 997.7L422.2 997.7L422.7 997.7L423.2 997.7L423.7 997.7L424.2 997.7L424.7 997.7L425.2 997.7L425.7 997.7L426.2 997.7L426.7 997.7L427.2 997.7L427.7 997.7L428.2 997.7L428.7 997.7L429.2 997.7L429.7 997.7L430.2 997.7L430.7 997.7L431.2 997.7L431.7 997.7L432.2 997.7L432.7 997.7L433.2 997.7L433.7 997.7L434.2 997.7L434.7 997.7L435.2 997.7L435.7 997.7L436.2 997.7L436.7 997.7L437.2 997.7L437.7 997.7L438.2 997.7L438.7 997.7L439.2 997.7L439.7 997.7L440.2 997.7L440.7 997.7L441.2 997.7L441.7 997.7L442.2 997.7L442.7 997.7L443.2 997.7L443.7 997.7L444.2 997.7L444.7 997.7L445.2 997.7L445.7 997.7L446.2 997.7L446.7 997.7L447.2 997.7L447.7 997.7L448.2 997.7L448.7 997.7L449.2 997.7L449.7 997.7L450.2 997.7L450.7 997.7L451.2 997.7L451.7 997.7L452.2 997.7L452.7 997.7L453.2 997.7L453.7 997.7L454.2 997.7L454.7 997.7L455.2 997.7L455.7 997.7L456.2 997.7L456.7 997.7L457.2 997.7L457.7 997.7L458.2 997.7L458.7 997.7L459.2 997.7L459.7 997.7L460.2 997.7L460.7 997.7L461.2 997.7L461.7 997.7L462.2 997.7L462.7 997.7L463.2 997.7L463.7 997.7L464.2 997.7L464.7 997.7L465.2 997.7L465.7 997.7L466.2 997.7L466.7 997.7L467.2 997.7L467.7 997.7L468.2 997.7L468.7 997.7L469.2 997.7L469.7 997.7L470.2 997.7L470.7 997.7L471.2 997.7L471.7 997.7L472.2 997.7L472.7 997.7L473.2 997.7L473.7 997.7L474.2 997.7L474.7 997.7L475.2 997.7L475.7 997.7L476.2 997.7L476.7 997.7L477.2 997.7L477.7 997.7L478.2 997.7L478.7 997.7L479.2 997.7L479.7 997.7L480.2 997.7L480.7 997.7L481.2 997.7L481.7 997.7L482.2 997.7L482.7 997.7L483.2 997.7L483.7 997.7L484.2 997.7L484.7 997.7L485.2 997.7L485.7 997.7L486.2 997.7L486.7 997.7L487.2 997.7L487.7 997.7L488.2 997.7L488.7 997.7L489.2 997.7L489.7 997.7L490.2 997.7L490.7 997.7L491.2 997.7L491.7 997.7L492.2 997.7L492.7 997.7L493.2 997.7L493.7 997.7L494.2 997.7L494.7 997.7L495.2 997.7L495.7 997.7L496.2 997.7L496.7 997.7L497.2 997.7L497.7 997.7L498.2 997.7L498.7 997.7L499.2 997.7L499.7 997.7L500.2 997.7L500.7 997.7L501.2 997.7L501.7 997.7" fill="none" stroke="#1212cc" stroke-width="2.1"/>
<path d="M66.2 991.5L66.7 991.4L67.2 991.2L67.7 991.1L68.2 991L68.7 990.8L69.2 990.7L69.7 990.5L70.2 990.4L70.7 990.2L71.2 990.1L71.7 989.9L72.2 989.7L72.7 989.6L73.2 989.4L73.7 989.3L74.2 989.1L74.7 988.9L75.2 988.7L75.7 988.6L76.2 988.4L76.7 988.2L77.2 988L77.7 987.8L78.2 987.6L78.7 987.4L79.2 987.3L79.7 987.1L80.2 986.9L80.7 986.7L81.2 986.4L81.7 986.2L82.2 986L82.7 985.8L83.2 985.6L83.7 985.4L84.2 985.2L84.7 984.9L85.2 984.7L85.7 984.5L86.2 984.2L86.7 984L87.2 983.8L87.7 983.5L88.2 983.3L88.7 983L89.2 982.8L89.7 982.5L90.2 982.3L90.7 982L91.2 981.8L91.7 981.5L92.2 981.3L92.7 981L93.2 980.7L93.7 980.4L94.2 980.2L94.7 979.9L95.2 979.6L95.7 979.3L96.2 979L96.7 978.8L97.2 978.5L97.7 978.2L98.2 977.9L98.7 977.6L99.2 977.3L99.7 977L100.2 976.7L100.7 976.4L101.2 976.1L101.7 975.7L102.2 975.4L102.7 975.1L103.2 974.8L103.7 974.5L104.2 974.1L104.7 973.8L105.2 973.5L105.7 973.2L106.2 972.8L106.7 972.5L107.2 972.2L107.7 971.8L108.2 971.5L108.7 971.1L109.2 970.8L109.7 970.5L110.2 970.1L110.7 969.8L111.2 969.4L111.7 969.1L112.2 968.7L112.7 968.4L113.2 968L113.7 967.7L114.2 967.3L114.7 966.9L115.2 966.6L115.7 966.2L116.2 965.9L116.7 965.5L117.2 965.1L117.7 964.8L118.2 964.4L118.7 964L119.2 963.7L119.7 963.3L120.2 962.9L120.7 962.6L121.2 962.2L121.7 961.8L122.2 961.5L122.7 961.1L123.2 960.7L123.7 960.4L124.2 960L124.7 959.6L125.2 959.3L125.7 958.9L126.2 958.5L126.7 958.2L127.2 957.8L127.7 957.4L128.2 957.1L128.7 956.7L129.2 956.3L129.7 956L130.2 955.6L130.7 955.3L131.2 954.9L131.7 954.5L132.2 954.2L132.7 953.8L133.2 953.5L133.7 953.1L134.2 952.8L134.7 952.4L135.2 952.1L135.7 951.7L136.2 951.4L136.7 951.1L137.2 950.7L137.7 950.4L138.2 950.1L138.7 949.7L139.2 949.4L139.7 949.1L140.2 948.8L140.7 948.4L141.2 948.1L141.7 947.8L142.2 947.5L142.7 947.2L143.2 946.9L143.7 946.6L144.2 946.3L144.7 946L145.2 945.7L145.7 945.4L146.2 945.1L146.7 944.8L147.2 944.6L147.7 944.3L148.2 944L148.7 943.8L149.2 943.5L149.7 943.2L150.2 943L150.7 942.7L151.2 942.5L151.7 942.3L152.2 942L152.7 941.8L153.2 941.6L153.7 941.4L154.2 941.1L154.7 940.9L155.2 940.7L155.7 940.5L156.2 940.3L156.7 940.1L157.2 940L157.7 939.8L158.2 939.6L158.7 939.4L159.2 939.3L159.7 939.1L160.2 939L160.7 938.8L161.2 938.7L161.7 938.5L162.2 938.4L162.7 938.3L163.2 938.2L163.7 938L164.2 937.9L164.7 937.8L165.2 937.7L165.7 937.6L166.2 937.6L166.7 937.5L167.2 937.4L167.7 937.3L168.2 937.3L168.7 937.2L169.2 937.2L169.7 937.1L170.2 937.1L170.7 937.1L171.2 937L171.7 937L172.2 937L172.7 937L173.2 937L173.7 937L174.2 937L174.7 937L175.2 937.1L175.7 937.1L176.2 937.1L176.7 937.2L177.2 937.2L177.7 937.2L178.2 937.3L178.7 937.4L179.2 937.4L179.7 937.5L180.2 937.6L180.7 937.6L181.2 937.7L181.7 937.8L182.2 937.9L182.7 938L183.2 938.1L183.7 938.2L184.2 938.4L184.7 938.5L185.2 938.6L185.7 938.8L186.2 938.9L186.7 939L187.2 939.2L187.7 939.3L188.2 939.5L188.7 939.7L189.2 939.8L189.7 940L190.2 940.2L190.7 940.4L191.2 940.5L191.7 940.7L192.2 940.9L192.7 941.1L193.2 941.3L193.7 941.5L194.2 941.8L194.7 942L195.2 942.2L195.7 942.4L196.2 942.6L196.7 942.9L197.2 943.1L197.7 943.4L198.2 943.6L198.7 943.9L199.2 944.1L199.7 944.4L200.2 944.6L200.7 944.9L201.2 945.2L201.7 945.4L202.2 945.7L202.7 946L203.2 946.3L203.7 946.5L204.2 946.8L204.7 947.1L205.2 947.4L205.7 947.7L206.2 948L206.7 948.3L207.2 948.6L207.7 948.9L208.2 949.2L208.7 949.5L209.2 949.8L209.7 950.2L210.2 950.5L210.7 950.8L211.2 951.1L211.7 951.4L212.2 951.8L212.7 952.1L213.2 952.4L213.7 952.8L214.2 953.1L214.7 953.4L215.2 953.8L215.7 954.1L216.2 954.4L216.7 954.8L217.2 955.1L217.7 955.5L218.2 955.8L218.7 956.1L219.2 956.5L219.7 956.8L220.2 957.2L220.7 957.5L221.2 957.9L221.7 958.2L222.2 958.6L222.7 958.9L223.2 959.3L223.7 959.6L224.2 960L224.7 960.3L225.2 960.7L225.7 961L226.2 961.4L226.7 961.7L227.2 962.1L227.7 962.4L228.2 962.8L228.7 963.1L229.2 963.5L229.7 963.8L230.2 964.2L230.7 964.5L231.2 964.9L231.7 965.2L232.2 965.6L232.7 965.9L233.2 966.2L233.7 966.6L234.2 966.9L234.7 967.3L235.2 967.6L235.7 968L236.2 968.3L236.7 968.6L237.2 969L237.7 969.3L238.2 969.6L238.7 970L239.2 970.3L239.7 970.6L240.2 970.9L240.7 971.3L241.2 971.6L241.7 971.9L242.2 972.2L242.7 972.6L243.2 972.9L243.7 973.2L244.2 973.5L244.7 973.8L245.2 974.1L245.7 974.4L246.2 974.7L246.7 975L247.2 975.3L247.7 975.6L248.2 975.9L248.7 976.2L249.2 976.5L249.7 976.8L250.2 977.1L250.7 977.4L251.2 977.7L251.7 978L252.2 978.2L252.7 978.5L253.2 978.8L253.7 979.1L254.2 979.3L254.7 979.6L255.2 979.9L255.7 980.1L256.2 980.4L256.7 980.7L257.2 980.9L257.7 981.2L258.2 981.4L258.7 981.7L259.2 981.9L259.7 982.2L260.2 982.4L260.7 982.7L261.2 982.9L261.7 983.1L262.2 983.4L262.7 983.6L263.2 983.8L263.7 984.1L264.2 984.3L264.7 984.5L265.2 984.7L265.7 984.9L266.2 985.1L266.7 985.4L267.2 985.6L267.7 985.8L268.2 986L268.7 986.2L269.2 986.4L269.7 986.6L270.2 986.8L270.7 987L271.2 987.1L271.7 987.3L272.2 987.5L272.7 987.7L273.2 987.9L273.7 988.1L274.2 988.2L274.7 988.4L275.2 988.6L275.7 988.7L276.2 988.9L276.7 989.1L277.2 989.2L277.7 989.4L278.2 989.5L278.7 989.7L279.2 989.9L279.7 990L280.2 990.2L280.7 990.3L281.2 990.4L281.7 990.6L282.2 990.7L282.7 990.9L283.2 991L283.7 991.1L284.2 991.3L284.7 991.4L285.2 991.5L285.7 991.6L286.2 991.8L286.7 991.9L287.2 992L287.7 992.1L288.2 992.2L288.7 992.3L289.2 992.5L289.7 992.6L290.2 992.7L290.7 992.8L291.2 992.9L291.7 993L292.2 993.1L292.7 993.2L293.2 993.3L293.7 993.4L294.2 993.5L294.7 993.6L295.2 993.7L295.7 993.7L296.2 993.8L296.7 993.9L297.2 994L297.7 994.1L298.2 994.2L298.7 994.2L299.2 994.3L299.7 994.4L300.2 994.5L300.7 994.5L301.2 994.6L301.7 994.7L302.2 994.8L302.7 994.8L303.2 994.9L303.7 995L304.2 995L304.7 995.1L305.2 995.2L305.7 995.2L306.2 995.3L306.7 995.3L307.2 995.4L307.7 995.4L308.2 995.5L308.7 995.6L309.2 995.6L309.7 995.7L310.2 995.7L310.7 995.8L311.2 995.8L311.7 995.8L312.2 995.9L312.7 995.9L313.2 996L313.7 996L314.2 996.1L314.7 996.1L315.2 996.2L315.7 996.2L316.2 996.2L316.7 996.3L317.2 996.3L317.7 996.3L318.2 996.4L318.7 996.4L319.2 996.4L319.7 996.5L320.2 996.5L320.7 996.5L321.2 996.6L321.7 996.6L322.2 996.6L322.7 996.7L323.2 996.7L323.7 996.7L324.2 996.7L324.7 996.8L325.2 996.8L325.7 996.8L326.2 996.8L326.7 996.9L327.2 996.9L327.7 996.9L328.2 996.9L328.7 997L329.2 997L329.7 997L330.2 997L330.7 997L331.2 997.1L331.7 997.1L332.2 997.1L332.7 997.1L333.2 997.1L333.7 997.1L334.2 997.2L334.7 997.2L335.2 997.2L335.7 997.2L336.2 997.2L336.7 997.2L337.2 997.2L337.7 997.3L338.2 997.3L338.7 997.3L339.2 997.3L339.7 997.3L340.2 997.3L340.7 997.3L341.2 997.3L341.7 997.4L342.2 997.4L342.7 997.4L343.2 997.4L343.7 997.4L344.2 997.4L344.7 997.4L345.2 997.4L345.7 997.4L346.2 997.4L346.7 997.4L347.2 997.5L347.7 997.5L348.2 997.5L348.7 997.5L349.2 997.5L349.7 997.5L350.2 997.5L350.7 997.5L351.2 997.5L351.7 997.5L352.2 997.5L352.7 997.5L353.2 997.5L353.7 997.5L354.2 997.5L354.7 997.5L355.2 997.6L355.7 997.6L356.2 997.6L356.7 997.6L357.2 997.6L357.7 997.6L358.2 997.6L358.7 997.6L359.2 997.6L359.7 997.6L360.2 997.6L360.7 997.6L361.2 997.6L361.7 997.6L362.2 997.6L362.7 997.6L363.2 997.6L363.7 997.6L364.2 997.6L364.7 997.6L365.2 997.6L365.7 997.6L366.2 997.6L366.7 997.6L367.2 997.6L367.7 997.6L368.2 997.6L368.7 997.6L369.2 997.6L369.7 997.6L370.2 997.6L370.7 997.6L371.2 997.7L371.7 997.7L372.2 997.7L372.7 997.7L373.2 997.7L373.7 997.7L374.2 997.7L374.7 997.7L375.2 997.7L375.7 997.7L376.2 997.7L376.7 997.7L377.2 997.7L377.7 997.7L378.2 997.7L378.7 997.7L379.2 997.7L379.7 997.7L380.2 997.7L380.7 997.7L381.2 997.7L381.7 997.7L382.2 997.7L382.7 997.7L383.2 997.7L383.7 997.7L384.2 997.7L384.7 997.7L385.2 997.7L385.7 997.7L386.2 997.7L386.7 997.7L387.2 997.7L387.7 997.7L388.2 997.7L388.7 997.7L389.2 997.7L389.7 997.7L390.2 997.7L390.7 997.7L391.2 997.7L391.7 997.7L392.2 997.7L392.7 997.7L393.2 997.7L393.7 997.7L394.2 997.7L394.7 997.7L395.2 997.7L395.7 997.7L396.2 997.7L396.7 997.7L397.2 997.7L397.7 997.7L398.2 997.7L398.7 997.7L399.2 997.7L399.7 997.7L400.2 997.7L400.7 997.7L401.2 997.7L401.7 997.7L402.2 997.7L402.7 997.7L403.2 997.7L403.7 997.7L404.2 997.7L404.7 997.7L405.2 997.7L405.7 997.7L406.2 997.7L406.7 997.7L407.2 997.7L407.7 997.7L408.2 997.7L408.7 997.7L409.2 997.7L409.7 997.7L410.2 997.7L410.7 997.7L411.2 997.7L411.7 997.7L412.2 997.7L412.7 997.7L413.2 997.7L413.7 997.7L414.2 997.7L414.7 997.7L415.2 997.7L415.7 997.7L416.2 997.7L416.7 997.7L417.2 997.7L417.7 997.7L418.2 997.7L418.7 997.7L419.2 997.7L419.7 997.7L420.2 997.7L420.7 997.7L421.2 997.7L421.7 997.7L422.2 997.7L422.7 997.7L423.2 997.7L423.7 997.7L424.2 997.7L424.7 997.7L425.2 997.7L425.7 997.7L426.2 997.7L426.7 997.7L427.2 997.7L427.7 997.7L428.2 997.7L428.7 997.7L429.2 997.7L429.7 997.7L430.2 997.7L430.7 997.7L431.2 997.7L431.7 997.7L432.2 997.7L432.7 997.7L433.2 997.7L433.7 997.7L434.2 997.7L434.7 997.7L435.2 997.7L435.7 997.7L436.2 997.7L436.7 997.7L437.2 997.7L437.7 997.7L438.2 997.7L438.7 997.7L439.2 997.7L439.7 997.7L440.2 997.7L440.7 997.7L441.2 997.7L441.7 997.7L442.2 997.7L442.7 997.7L443.2 997.7L443.7 997.7L444.2 997.7L444.7 997.7L445.2 997.7L445.7 997.7L446.2 997.7L446.7 997.7L447.2 997.7L447.7 997.7L448.2 997.7L448.7 997.7L449.2 997.7L449.7 997.7L450.2 997.7L450.7 997.7L451.2 997.7L451.7 997.7L452.2 997.7L452.7 997.7L453.2 997.7L453.7 997.7L454.2 997.7L454.7 997.7L455.2 997.7L455.7 997.7L456.2 997.7L456.7 997.7L457.2 997.7L457.7 997.7L458.2 997.7L458.7 997.7L459.2 997.7L459.7 997.7L460.2 997.7L460.7 997.7L461.2 997.7L461.7 997.7L462.2 997.7L462.7 997.7L463.2 997.7L463.7 997.7L464.2 997.7L464.7 997.7L465.2 997.7L465.7 997.7L466.2 997.7L466.7 997.7L467.2 997.7L467.7 997.7L468.2 997.7L468.7 997.7L469.2 997.7L469.7 997.7L470.2 997.7L470.7 997.7L471.2 997.7L471.7 997.7L472.2 997.7L472.7 997.7L473.2 997.7L473.7 997.7L474.2 997.7L474.7 997.7L475.2 997.7L475.7 997.7L476.2 997.7L476.7 997.7L477.2 997.7L477.7 997.7L478.2 997.7L478.7 997.7L479.2 997.7L479.7 997.7L480.2 997.7L480.7 997.7L481.2 997.7L481.7 997.7L482.2 997.7L482.7 997.7L483.2 997.7L483.7 997.7L484.2 997.7L484.7 997.7L485.2 997.7L485.7 997.7L486.2 997.7L486.7 997.7L487.2 997.7L487.7 997.7L488.2 997.7L488.7 997.7L489.2 997.7L489.7 997.7L490.2 997.7L490.7 997.7L491.2 997.7L491.7 997.7L492.2 997.7L492.7 997.7L493.2 997.7L493.7 997.7L494.2 997.7L494.7 997.7L495.2 997.7L495.7 997.7L496.2 997.7L496.7 997.7L497.2 997.7L497.7 997.7L498.2 997.7L498.7 997.7L499.2 997.7L499.7 997.7L500.2 997.7L500.7 997.7L501.2 997.7L501.7 997.7" fill="none" stroke="#cc22cc" stroke-width="2.1"/>
<path d="M66.4 744.3H108.3" stroke="#000" stroke-width="2"/>
<text x="113.2" y="750.6" font-size="17.5" letter-spacing="0.25" fill="#111">Ag/ZnO core/shell</text>
<path d="M66.4 766.4H108.3" stroke="#dc1a1a" stroke-width="2"/>
<text x="113.2" y="772.7" font-size="17.5" fill="#111">1.84 eV</text>
<path d="M66.4 788.6H108.3" stroke="#2fdc2f" stroke-width="2"/>
<text x="113.2" y="794.9" font-size="17.5" fill="#111">2.08 eV</text>
<path d="M66.4 810.7H108.3" stroke="#1212cc" stroke-width="2"/>
<text x="113.2" y="817.0" font-size="17.5" fill="#111">2.25 eV</text>
<path d="M66.4 833.2H108.3" stroke="#cc22cc" stroke-width="2"/>
<text x="113.2" y="839.5" font-size="17.5" fill="#111">2.46 eV</text>
<rect x="62.1" y="413.2" width="439.9" height="617.3" fill="none" stroke="#111" stroke-width="2"/>
<path d="M62.1 722.0H502.0" stroke="#111" stroke-width="2"/>
<path d="M62.1 1030.5V1038.5M93.5 1030.5V1034.9M124.9 1030.5V1038.5M156.4 1030.5V1034.9M187.8 1030.5V1038.5M219.2 1030.5V1034.9M250.6 1030.5V1038.5M282.1 1030.5V1034.9M313.5 1030.5V1038.5M344.9 1030.5V1034.9M376.3 1030.5V1038.5M407.7 1030.5V1034.9M439.2 1030.5V1038.5M470.6 1030.5V1034.9M502.0 1030.5V1038.5M62.1 413.2H53.5M62.1 490.4H57.5M62.1 567.5H53.5M62.1 644.7H57.5M62.1 721.8H53.5M62.1 799.0H57.5M62.1 876.2H53.5M62.1 953.3H57.5M62.1 1030.5H53.5" stroke="#111" stroke-width="2" fill="none"/>
<g font-size="17" fill="#111"><text x="62.1" y="1057.8" text-anchor="middle">2.8</text><text x="124.9" y="1057.8" text-anchor="middle">2.6</text><text x="187.8" y="1057.8" text-anchor="middle">2.4</text><text x="250.6" y="1057.8" text-anchor="middle">2.2</text><text x="313.5" y="1057.8" text-anchor="middle">2.0</text><text x="376.3" y="1057.8" text-anchor="middle">1.8</text><text x="439.2" y="1057.8" text-anchor="middle">1.6</text><text x="502.0" y="1057.8" text-anchor="middle">1.4</text></g>
<text x="192.6" y="1092.6" font-size="22.2" fill="#111">Photo Energy (eV)</text>
<text transform="translate(27.3 805) rotate(-90)" font-size="21.8" fill="#111">PL Intensity (a.u.)</text>
</svg>
</body></html>
